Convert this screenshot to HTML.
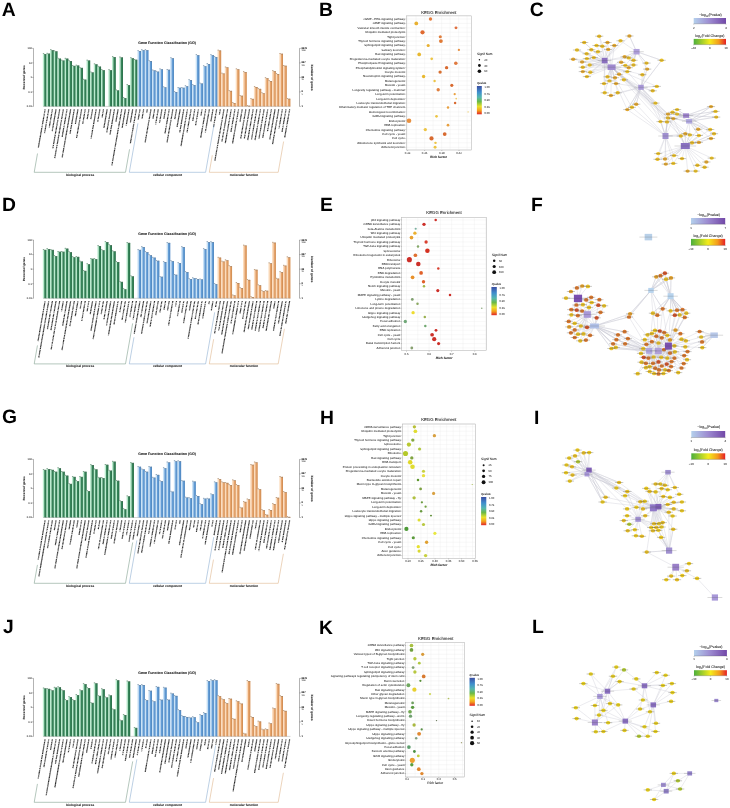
<!DOCTYPE html><html><head><meta charset="utf-8"><title>Figure</title><style>html,body{margin:0;padding:0;background:#fff;}svg{display:block;will-change:transform;filter:blur(0.3px);}text{font-family:"Liberation Sans",sans-serif;text-rendering:geometricPrecision;stroke:#333;stroke-width:0.06px;}.pl{stroke:none}.lb{stroke:#2c2c2c;stroke-width:1.2px;fill:none}.d0{stroke-dasharray:0.7,0.35,0.9,0.35,1.3,0.25,1.1,0.3,0.7,0.35,1.3,0.3,0.7,0.25,1.3,0.3,0.5,0.25,1.3,0.25,0.5,0.3,1.1,0.35,1.1,0.3,1.3,0.3,0.7,0.7,0.7,0.3,1.1,0.35,1.1,0.35,1.3,0.3,1.1,0.35,0.9,0.35,0.5,0.3,0.7,0.35,1.3,0.35,0.7,0.35,1.3,0.3,0.5,0.3,1.1,0.25,0.5,0.3,0.5,0.3,1.1,0.7,1.3,0.25,1.3,0.3,0.9,0.35,0.5,0.7,0.5,0.35,0.7,0.3,0.9,0.25,0.9,0.3,0.7,0.3,1.3,0.3,1.3,0.35,1.3,0.35,0.7,0.3,0.9,0.35,0.9,0.25,1.3,0.7,1.3,0.35,0.5,0.35,1.1,0.3,0.9,0.35,1.1,0.25,0.5,0.3,1.1,0.3,0.9,0.25}.d1{stroke-dasharray:0.9,0.3,0.9,0.3,0.5,0.25,0.7,0.3,0.9,0.25,1.1,0.35,0.5,0.35,0.9,0.35,1.1,0.7,0.7,0.35,0.7,0.7,0.7,0.3,1.3,0.25,0.9,0.7,1.3,0.3,1.1,0.3,0.9,0.3,1.1,0.3,1.1,0.25,0.7,0.7,1.3,0.35,0.7,0.25,1.3,0.3,0.7,0.25,0.9,0.25,0.5,0.25,1.3,0.25,1.1,0.7,1.1,0.7,1.3,0.3,0.5,0.35,0.5,0.7,0.7,0.3,1.3,0.3,0.5,0.3,0.5,0.35,0.5,0.25,0.9,0.25,0.5,0.3,1.1,0.25,0.7,0.3,1.3,0.7,0.9,0.25,0.7,0.7,0.5,0.3,0.5,0.35,0.9,0.25,0.9,0.3,1.3,0.3,0.7,0.3,0.7,0.7,1.1,0.25,0.5,0.3,1.3,0.3,0.5,0.35,0.5,0.3,0.9,0.3,1.1,0.7}.d2{stroke-dasharray:0.7,0.35,1.3,0.25,0.7,0.7,0.5,0.3,1.3,0.7,0.5,0.35,1.3,0.3,0.9,0.35,1.3,0.7,0.7,0.25,0.5,0.7,0.5,0.35,0.7,0.25,0.5,0.25,1.1,0.35,1.3,0.3,0.5,0.35,0.7,0.25,0.5,0.7,0.9,0.35,0.5,0.25,0.7,0.3,1.1,0.3,1.1,0.3,0.5,0.3,1.1,0.35,1.1,0.35,1.3,0.35,1.1,0.25,0.7,0.7,1.1,0.35,1.1,0.35,0.7,0.25,0.7,0.25,0.9,0.25,1.3,0.3,1.1,0.35,1.3,0.3,0.9,0.25,1.1,0.25,0.9,0.25,0.7,0.3,1.1,0.35,1.1,0.35,1.3,0.25,0.5,0.3,0.5,0.3,0.7,0.35,0.5,0.25,0.7,0.25,0.7,0.25,0.5,0.3,0.5,0.3,0.5,0.35,0.5,0.25,0.9,0.25,1.3,0.35,0.5,0.25,1.1,0.3}.d3{stroke-dasharray:0.7,0.35,1.1,0.7,0.9,0.25,0.5,0.35,1.1,0.35,0.5,0.35,0.9,0.35,1.1,0.3,0.9,0.25,0.9,0.35,1.3,0.25,1.3,0.7,0.9,0.35,0.7,0.35,0.7,0.25,1.1,0.7,1.3,0.25,1.3,0.3,0.7,0.3,0.7,0.7,0.7,0.35,1.1,0.7,0.9,0.7,0.7,0.25,0.9,0.25,1.3,0.3,1.1,0.3,0.5,0.3,0.5,0.25,0.5,0.7,0.5,0.25,1.3,0.3,1.1,0.7,1.3,0.25,0.7,0.35,1.3,0.25,0.9,0.3,0.5,0.3,1.1,0.3,1.3,0.3,1.3,0.35,1.1,0.25,0.5,0.25,0.7,0.3,1.1,0.25,1.3,0.7,1.3,0.35,0.5,0.35,0.7,0.25,0.5,0.35,0.5,0.3,1.3,0.25,0.5,0.3,0.9,0.35,0.5,0.35,0.5,0.7}.d4{stroke-dasharray:0.9,0.25,0.7,0.3,0.7,0.3,0.5,0.7,0.7,0.35,1.1,0.3,1.3,0.3,1.1,0.7,1.1,0.35,0.7,0.3,0.9,0.3,1.1,0.35,1.1,0.25,0.7,0.3,0.7,0.3,0.7,0.7,1.3,0.3,0.5,0.7,0.7,0.3,0.5,0.25,0.9,0.7,0.5,0.25,1.1,0.7,0.7,0.7,1.1,0.25,1.3,0.25,0.5,0.7,0.9,0.3,1.1,0.3,1.3,0.7,0.9,0.35,0.9,0.7,1.1,0.25,0.5,0.7,0.5,0.25,0.5,0.7,1.3,0.3,1.1,0.3,0.9,0.7,0.9,0.35,1.1,0.25,0.7,0.7,1.1,0.35,1.1,0.25,1.1,0.35,0.7,0.3,1.1,0.25,1.1,0.3,0.7,0.35,1.3,0.35,1.1,0.25,0.5,0.7,0.5,0.3,0.5,0.35,1.1,0.3}.d5{stroke-dasharray:0.9,0.7,0.7,0.3,0.5,0.3,0.5,0.7,0.7,0.25,0.7,0.7,0.5,0.25,0.7,0.25,1.3,0.3,1.3,0.3,1.3,0.25,1.3,0.7,0.5,0.7,0.5,0.25,0.9,0.7,1.1,0.25,1.3,0.25,0.9,0.3,1.1,0.25,1.3,0.3,0.7,0.25,1.1,0.3,0.5,0.3,1.1,0.25,0.9,0.3,0.5,0.35,0.7,0.3,0.5,0.3,1.1,0.25,0.9,0.25,0.7,0.35,1.3,0.3,1.3,0.3,0.7,0.35,1.1,0.3,1.3,0.25,0.5,0.25,0.5,0.35,1.3,0.7,1.1,0.25,0.7,0.3,0.5,0.3,0.7,0.35,0.7,0.25,1.1,0.7,0.7,0.3,0.9,0.3,0.9,0.25,1.1,0.3,1.3,0.25,0.9,0.7,0.9,0.3,0.9,0.35,1.3,0.7,1.3,0.25,0.7,0.7}.d6{stroke-dasharray:1.1,0.3,0.9,0.7,0.7,0.7,1.1,0.3,1.3,0.35,1.1,0.3,1.1,0.3,0.9,0.7,0.5,0.35,0.7,0.35,0.7,0.35,1.1,0.35,0.9,0.7,0.5,0.7,1.1,0.7,1.1,0.3,1.3,0.35,1.3,0.35,0.7,0.25,1.3,0.25,0.9,0.3,0.9,0.3,1.3,0.25,0.7,0.7,1.1,0.25,1.3,0.35,0.9,0.35,0.5,0.7,0.9,0.25,0.5,0.7,1.1,0.35,0.9,0.3,1.1,0.3,0.9,0.25,0.9,0.3,1.3,0.7,1.1,0.3,0.5,0.3,0.7,0.7,1.3,0.25,0.5,0.35,0.5,0.3,0.5,0.3,1.1,0.3,1.3,0.7,0.7,0.3,0.7,0.25,0.7,0.35,1.1,0.7,1.1,0.25,0.7,0.3,0.7,0.7,0.7,0.35}.d7{stroke-dasharray:0.5,0.3,0.5,0.7,0.5,0.25,1.1,0.3,1.3,0.25,0.5,0.3,1.1,0.7,1.3,0.7,0.9,0.7,0.9,0.35,1.1,0.35,1.3,0.35,0.7,0.35,1.1,0.25,0.9,0.35,0.7,0.3,0.7,0.3,0.7,0.7,0.5,0.3,0.7,0.25,0.7,0.25,1.3,0.35,0.9,0.25,1.3,0.3,1.3,0.35,1.1,0.35,0.9,0.35,1.3,0.35,0.9,0.3,0.9,0.3,1.3,0.35,0.9,0.35,0.9,0.3,1.1,0.25,1.3,0.25,1.3,0.35,1.3,0.7,1.1,0.35,0.9,0.25,1.1,0.3,0.5,0.3,0.5,0.35,0.5,0.3,1.1,0.35,0.5,0.3,0.9,0.3,0.5,0.35,0.9,0.7,0.5,0.7,0.5,0.25,0.9,0.7,1.3,0.35,1.3,0.3,0.7,0.3,1.3,0.25}</style></head><body>
<svg width="730" height="808" viewBox="0 0 730 808" font-family='"Liberation Sans", sans-serif'>
<defs>
<linearGradient id="qv" x1="0" y1="0" x2="0" y2="1"><stop offset="0" stop-color="#3b4ea2"/><stop offset="0.22" stop-color="#3f8fce"/><stop offset="0.4" stop-color="#55b7b0"/><stop offset="0.55" stop-color="#6ab946"/><stop offset="0.72" stop-color="#e8e22a"/><stop offset="0.86" stop-color="#f5a21c"/><stop offset="1" stop-color="#e0262a"/></linearGradient>
<linearGradient id="pv" x1="0" y1="0" x2="1" y2="0"><stop offset="0" stop-color="#b4d0ec"/><stop offset="0.5" stop-color="#9c8ad0"/><stop offset="1" stop-color="#7248a8"/></linearGradient>
<linearGradient id="fc" x1="0" y1="0" x2="1" y2="0"><stop offset="0" stop-color="#4caf3c"/><stop offset="0.5" stop-color="#f4ec1c"/><stop offset="0.78" stop-color="#f49a1c"/><stop offset="1" stop-color="#e51e24"/></linearGradient>
</defs>
<rect width="730" height="808" fill="#fff"/>
<text x="167" y="43.6" font-size="3.55" font-weight="bold" text-anchor="middle" fill="#111">Gene Function Classification (GO)</text>
<g stroke="#555" stroke-width="0.45" fill="none"><path d="M33.5,48.4V106.4"/>
<path d="M32.2,48.4H33.5"/>
<path d="M32.2,62.9H33.5"/>
<path d="M32.2,77.4H33.5"/>
<path d="M32.2,91.9H33.5"/>
<path d="M32.2,106.4H33.5"/>
</g>
<text x="31.9" y="49.3" font-size="2.6" text-anchor="end" fill="#222">100</text>
<text x="31.9" y="63.8" font-size="2.6" text-anchor="end" fill="#222">10</text>
<text x="31.9" y="78.3" font-size="2.6" text-anchor="end" fill="#222">1</text>
<text x="31.9" y="92.8" font-size="2.6" text-anchor="end" fill="#222">0.1</text>
<text x="31.9" y="107.3" font-size="2.6" text-anchor="end" fill="#222">0.01</text>
<text transform="translate(25.3,77.4) rotate(-90)" font-size="3.0" font-weight="bold" text-anchor="middle" fill="#222">Percent of genes</text>
<g stroke="#555" stroke-width="0.45" fill="none"><path d="M299.5,48.4V106.4"/>
<path d="M299.5,48.4H300.8"/>
<path d="M299.5,62.9H300.8"/>
<path d="M299.5,77.4H300.8"/>
<path d="M299.5,91.9H300.8"/>
<path d="M299.5,106.4H300.8"/>
</g>
<text x="301.4" y="48.9" font-size="2.5" font-weight="bold" fill="#222">9876</text>
<text x="301.4" y="51" font-size="2.1" fill="#444">1110</text>
<text x="301.4" y="63.4" font-size="2.5" font-weight="bold" fill="#222">987</text>
<text x="301.4" y="65.5" font-size="2.1" fill="#444">111</text>
<text x="301.4" y="77.9" font-size="2.5" font-weight="bold" fill="#222">98</text>
<text x="301.4" y="80" font-size="2.1" fill="#444">11</text>
<text x="301.4" y="92.4" font-size="2.5" font-weight="bold" fill="#222">9</text>
<text x="301.4" y="94.5" font-size="2.1" fill="#444">1</text>
<text x="301.4" y="106.9" font-size="2.5" font-weight="bold" fill="#222">1</text>
<text transform="translate(311.4,77.4) rotate(90)" font-size="3.2" font-weight="bold" text-anchor="middle" fill="#222">Number of genes</text>
<rect x="42.85" y="53.3" width="1.35" height="53.1" fill="#b8eccd"/>
<rect x="42.85" y="53.3" width="1.35" height="0.55" fill="#5a6e62"/>
<rect x="44.2" y="54.1" width="2.25" height="52.3" fill="#358459"/>
<rect x="45.65" y="54.1" width="0.8" height="52.3" fill="#2a7049"/>
<rect x="44.2" y="54.1" width="2.25" height="0.5" fill="#5a6e62"/>
<rect x="46.49" y="52.9" width="1.35" height="53.5" fill="#b8eccd"/>
<rect x="46.49" y="52.9" width="1.35" height="0.55" fill="#5a6e62"/>
<rect x="47.84" y="53.7" width="2.25" height="52.7" fill="#358459"/>
<rect x="49.29" y="53.7" width="0.8" height="52.7" fill="#2a7049"/>
<rect x="47.84" y="53.7" width="2.25" height="0.5" fill="#5a6e62"/>
<rect x="50.13" y="49.4" width="1.35" height="57" fill="#b8eccd"/>
<rect x="50.13" y="49.4" width="1.35" height="0.55" fill="#5a6e62"/>
<rect x="51.48" y="50.2" width="2.25" height="56.2" fill="#358459"/>
<rect x="52.93" y="50.2" width="0.8" height="56.2" fill="#2a7049"/>
<rect x="51.48" y="50.2" width="2.25" height="0.5" fill="#5a6e62"/>
<rect x="53.77" y="50.6" width="1.35" height="55.8" fill="#b8eccd"/>
<rect x="53.77" y="50.6" width="1.35" height="0.55" fill="#5a6e62"/>
<rect x="55.12" y="51.4" width="2.25" height="55" fill="#358459"/>
<rect x="56.57" y="51.4" width="0.8" height="55" fill="#2a7049"/>
<rect x="55.12" y="51.4" width="2.25" height="0.5" fill="#5a6e62"/>
<rect x="57.41" y="57.9" width="1.35" height="48.5" fill="#b8eccd"/>
<rect x="57.41" y="57.9" width="1.35" height="0.55" fill="#5a6e62"/>
<rect x="58.76" y="58.7" width="2.25" height="47.7" fill="#358459"/>
<rect x="60.21" y="58.7" width="0.8" height="47.7" fill="#2a7049"/>
<rect x="58.76" y="58.7" width="2.25" height="0.5" fill="#5a6e62"/>
<rect x="61.05" y="59.8" width="1.35" height="46.6" fill="#b8eccd"/>
<rect x="61.05" y="59.8" width="1.35" height="0.55" fill="#5a6e62"/>
<rect x="62.4" y="60.6" width="2.25" height="45.8" fill="#358459"/>
<rect x="63.85" y="60.6" width="0.8" height="45.8" fill="#2a7049"/>
<rect x="62.4" y="60.6" width="2.25" height="0.5" fill="#5a6e62"/>
<rect x="64.68" y="57.9" width="1.35" height="48.5" fill="#b8eccd"/>
<rect x="64.68" y="57.9" width="1.35" height="0.55" fill="#5a6e62"/>
<rect x="66.03" y="58.7" width="2.25" height="47.7" fill="#358459"/>
<rect x="67.48" y="58.7" width="0.8" height="47.7" fill="#2a7049"/>
<rect x="66.03" y="58.7" width="2.25" height="0.5" fill="#5a6e62"/>
<rect x="68.32" y="60.2" width="1.35" height="46.2" fill="#b8eccd"/>
<rect x="68.32" y="60.2" width="1.35" height="0.55" fill="#5a6e62"/>
<rect x="69.67" y="61" width="2.25" height="45.4" fill="#358459"/>
<rect x="71.12" y="61" width="0.8" height="45.4" fill="#2a7049"/>
<rect x="69.67" y="61" width="2.25" height="0.5" fill="#5a6e62"/>
<rect x="71.96" y="65.1" width="1.35" height="41.3" fill="#b8eccd"/>
<rect x="71.96" y="65.1" width="1.35" height="0.55" fill="#5a6e62"/>
<rect x="73.31" y="65.9" width="2.25" height="40.5" fill="#358459"/>
<rect x="74.76" y="65.9" width="0.8" height="40.5" fill="#2a7049"/>
<rect x="73.31" y="65.9" width="2.25" height="0.5" fill="#5a6e62"/>
<rect x="75.6" y="64.8" width="1.35" height="41.6" fill="#b8eccd"/>
<rect x="75.6" y="64.8" width="1.35" height="0.55" fill="#5a6e62"/>
<rect x="76.95" y="65.6" width="2.25" height="40.8" fill="#358459"/>
<rect x="78.4" y="65.6" width="0.8" height="40.8" fill="#2a7049"/>
<rect x="76.95" y="65.6" width="2.25" height="0.5" fill="#5a6e62"/>
<rect x="79.24" y="67.1" width="1.35" height="39.3" fill="#b8eccd"/>
<rect x="79.24" y="67.1" width="1.35" height="0.55" fill="#5a6e62"/>
<rect x="80.59" y="67.9" width="2.25" height="38.5" fill="#358459"/>
<rect x="82.04" y="67.9" width="0.8" height="38.5" fill="#2a7049"/>
<rect x="80.59" y="67.9" width="2.25" height="0.5" fill="#5a6e62"/>
<rect x="82.88" y="78.9" width="1.35" height="27.5" fill="#b8eccd"/>
<rect x="82.88" y="78.9" width="1.35" height="0.55" fill="#5a6e62"/>
<rect x="84.23" y="79.7" width="2.25" height="26.7" fill="#358459"/>
<rect x="85.68" y="79.7" width="0.8" height="26.7" fill="#2a7049"/>
<rect x="84.23" y="79.7" width="2.25" height="0.5" fill="#5a6e62"/>
<rect x="86.52" y="59.8" width="1.35" height="46.6" fill="#b8eccd"/>
<rect x="86.52" y="59.8" width="1.35" height="0.55" fill="#5a6e62"/>
<rect x="87.87" y="60.6" width="2.25" height="45.8" fill="#358459"/>
<rect x="89.32" y="60.6" width="0.8" height="45.8" fill="#2a7049"/>
<rect x="87.87" y="60.6" width="2.25" height="0.5" fill="#5a6e62"/>
<rect x="90.16" y="71.7" width="1.35" height="34.7" fill="#b8eccd"/>
<rect x="90.16" y="71.7" width="1.35" height="0.55" fill="#5a6e62"/>
<rect x="91.51" y="72.5" width="2.25" height="33.9" fill="#358459"/>
<rect x="92.96" y="72.5" width="0.8" height="33.9" fill="#2a7049"/>
<rect x="91.51" y="72.5" width="2.25" height="0.5" fill="#5a6e62"/>
<rect x="93.8" y="63.6" width="1.35" height="42.8" fill="#b8eccd"/>
<rect x="93.8" y="63.6" width="1.35" height="0.55" fill="#5a6e62"/>
<rect x="95.15" y="64.4" width="2.25" height="42" fill="#358459"/>
<rect x="96.6" y="64.4" width="0.8" height="42" fill="#2a7049"/>
<rect x="95.15" y="64.4" width="2.25" height="0.5" fill="#5a6e62"/>
<rect x="97.44" y="65.9" width="1.35" height="40.5" fill="#b8eccd"/>
<rect x="97.44" y="65.9" width="1.35" height="0.55" fill="#5a6e62"/>
<rect x="98.78" y="66.7" width="2.25" height="39.7" fill="#358459"/>
<rect x="100.23" y="66.7" width="0.8" height="39.7" fill="#2a7049"/>
<rect x="98.78" y="66.7" width="2.25" height="0.5" fill="#5a6e62"/>
<rect x="101.07" y="69.4" width="1.35" height="37" fill="#b8eccd"/>
<rect x="101.07" y="69.4" width="1.35" height="0.55" fill="#5a6e62"/>
<rect x="102.42" y="70.2" width="2.25" height="36.2" fill="#358459"/>
<rect x="103.87" y="70.2" width="0.8" height="36.2" fill="#2a7049"/>
<rect x="102.42" y="70.2" width="2.25" height="0.5" fill="#5a6e62"/>
<rect x="108.35" y="69.4" width="1.35" height="37" fill="#b8eccd"/>
<rect x="108.35" y="69.4" width="1.35" height="0.55" fill="#5a6e62"/>
<rect x="109.7" y="70.2" width="2.25" height="36.2" fill="#358459"/>
<rect x="111.15" y="70.2" width="0.8" height="36.2" fill="#2a7049"/>
<rect x="109.7" y="70.2" width="2.25" height="0.5" fill="#5a6e62"/>
<rect x="111.99" y="56.3" width="1.35" height="50.1" fill="#b8eccd"/>
<rect x="111.99" y="56.3" width="1.35" height="0.55" fill="#5a6e62"/>
<rect x="113.34" y="57.1" width="2.25" height="49.3" fill="#358459"/>
<rect x="114.79" y="57.1" width="0.8" height="49.3" fill="#2a7049"/>
<rect x="113.34" y="57.1" width="2.25" height="0.5" fill="#5a6e62"/>
<rect x="115.63" y="89.7" width="1.35" height="16.7" fill="#b8eccd"/>
<rect x="115.63" y="89.7" width="1.35" height="0.55" fill="#5a6e62"/>
<rect x="116.98" y="90.5" width="2.25" height="15.9" fill="#358459"/>
<rect x="118.43" y="90.5" width="0.8" height="15.9" fill="#2a7049"/>
<rect x="116.98" y="90.5" width="2.25" height="0.5" fill="#5a6e62"/>
<rect x="119.27" y="56.7" width="1.35" height="49.7" fill="#b8eccd"/>
<rect x="119.27" y="56.7" width="1.35" height="0.55" fill="#5a6e62"/>
<rect x="120.62" y="57.5" width="2.25" height="48.9" fill="#358459"/>
<rect x="122.07" y="57.5" width="0.8" height="48.9" fill="#2a7049"/>
<rect x="120.62" y="57.5" width="2.25" height="0.5" fill="#5a6e62"/>
<rect x="122.91" y="97.3" width="1.35" height="9.1" fill="#b8eccd"/>
<rect x="122.91" y="97.3" width="1.35" height="0.55" fill="#5a6e62"/>
<rect x="124.26" y="98.1" width="2.25" height="8.3" fill="#358459"/>
<rect x="125.71" y="98.1" width="0.8" height="8.3" fill="#2a7049"/>
<rect x="124.26" y="98.1" width="2.25" height="0.5" fill="#5a6e62"/>
<rect x="126.55" y="84.3" width="1.35" height="22.1" fill="#b8eccd"/>
<rect x="126.55" y="84.3" width="1.35" height="0.55" fill="#5a6e62"/>
<rect x="127.9" y="85.1" width="2.25" height="21.3" fill="#358459"/>
<rect x="129.35" y="85.1" width="0.8" height="21.3" fill="#2a7049"/>
<rect x="127.9" y="85.1" width="2.25" height="0.5" fill="#5a6e62"/>
<rect x="130.19" y="57.5" width="1.35" height="48.9" fill="#b8eccd"/>
<rect x="130.19" y="57.5" width="1.35" height="0.55" fill="#5a6e62"/>
<rect x="131.54" y="58.3" width="2.25" height="48.1" fill="#358459"/>
<rect x="132.99" y="58.3" width="0.8" height="48.1" fill="#2a7049"/>
<rect x="131.54" y="58.3" width="2.25" height="0.5" fill="#5a6e62"/>
<rect x="133.83" y="59" width="1.35" height="47.4" fill="#b8eccd"/>
<rect x="133.83" y="59" width="1.35" height="0.55" fill="#5a6e62"/>
<rect x="135.18" y="59.8" width="2.25" height="46.6" fill="#358459"/>
<rect x="136.62" y="59.8" width="0.8" height="46.6" fill="#2a7049"/>
<rect x="135.18" y="59.8" width="2.25" height="0.5" fill="#5a6e62"/>
<rect x="137.46" y="50.2" width="1.35" height="56.2" fill="#c8e1f6"/>
<rect x="137.46" y="50.2" width="1.35" height="0.55" fill="#6f7f90"/>
<rect x="138.81" y="51" width="2.25" height="55.4" fill="#639dd6"/>
<rect x="140.26" y="51" width="0.8" height="55.4" fill="#4f87c0"/>
<rect x="138.81" y="51" width="2.25" height="0.5" fill="#6f7f90"/>
<rect x="141.1" y="49.4" width="1.35" height="57" fill="#c8e1f6"/>
<rect x="141.1" y="49.4" width="1.35" height="0.55" fill="#6f7f90"/>
<rect x="142.45" y="50.2" width="2.25" height="56.2" fill="#639dd6"/>
<rect x="143.9" y="50.2" width="0.8" height="56.2" fill="#4f87c0"/>
<rect x="142.45" y="50.2" width="2.25" height="0.5" fill="#6f7f90"/>
<rect x="144.74" y="49.4" width="1.35" height="57" fill="#c8e1f6"/>
<rect x="144.74" y="49.4" width="1.35" height="0.55" fill="#6f7f90"/>
<rect x="146.09" y="50.2" width="2.25" height="56.2" fill="#639dd6"/>
<rect x="147.54" y="50.2" width="0.8" height="56.2" fill="#4f87c0"/>
<rect x="146.09" y="50.2" width="2.25" height="0.5" fill="#6f7f90"/>
<rect x="148.38" y="60.2" width="1.35" height="46.2" fill="#c8e1f6"/>
<rect x="148.38" y="60.2" width="1.35" height="0.55" fill="#6f7f90"/>
<rect x="149.73" y="61" width="2.25" height="45.4" fill="#639dd6"/>
<rect x="151.18" y="61" width="0.8" height="45.4" fill="#4f87c0"/>
<rect x="149.73" y="61" width="2.25" height="0.5" fill="#6f7f90"/>
<rect x="152.02" y="69.7" width="1.35" height="36.7" fill="#c8e1f6"/>
<rect x="152.02" y="69.7" width="1.35" height="0.55" fill="#6f7f90"/>
<rect x="153.37" y="70.5" width="2.25" height="35.9" fill="#639dd6"/>
<rect x="154.82" y="70.5" width="0.8" height="35.9" fill="#4f87c0"/>
<rect x="153.37" y="70.5" width="2.25" height="0.5" fill="#6f7f90"/>
<rect x="155.66" y="70.9" width="1.35" height="35.5" fill="#c8e1f6"/>
<rect x="155.66" y="70.9" width="1.35" height="0.55" fill="#6f7f90"/>
<rect x="157.01" y="71.7" width="2.25" height="34.7" fill="#639dd6"/>
<rect x="158.46" y="71.7" width="0.8" height="34.7" fill="#4f87c0"/>
<rect x="157.01" y="71.7" width="2.25" height="0.5" fill="#6f7f90"/>
<rect x="159.3" y="68.6" width="1.35" height="37.8" fill="#c8e1f6"/>
<rect x="159.3" y="68.6" width="1.35" height="0.55" fill="#6f7f90"/>
<rect x="160.65" y="69.4" width="2.25" height="37" fill="#639dd6"/>
<rect x="162.1" y="69.4" width="0.8" height="37" fill="#4f87c0"/>
<rect x="160.65" y="69.4" width="2.25" height="0.5" fill="#6f7f90"/>
<rect x="162.94" y="86.6" width="1.35" height="19.8" fill="#c8e1f6"/>
<rect x="162.94" y="86.6" width="1.35" height="0.55" fill="#6f7f90"/>
<rect x="164.29" y="87.4" width="2.25" height="19" fill="#639dd6"/>
<rect x="165.74" y="87.4" width="0.8" height="19" fill="#4f87c0"/>
<rect x="164.29" y="87.4" width="2.25" height="0.5" fill="#6f7f90"/>
<rect x="166.58" y="69" width="1.35" height="37.4" fill="#c8e1f6"/>
<rect x="166.58" y="69" width="1.35" height="0.55" fill="#6f7f90"/>
<rect x="167.93" y="69.8" width="2.25" height="36.6" fill="#639dd6"/>
<rect x="169.38" y="69.8" width="0.8" height="36.6" fill="#4f87c0"/>
<rect x="167.93" y="69.8" width="2.25" height="0.5" fill="#6f7f90"/>
<rect x="170.22" y="57.5" width="1.35" height="48.9" fill="#c8e1f6"/>
<rect x="170.22" y="57.5" width="1.35" height="0.55" fill="#6f7f90"/>
<rect x="171.56" y="58.3" width="2.25" height="48.1" fill="#639dd6"/>
<rect x="173.01" y="58.3" width="0.8" height="48.1" fill="#4f87c0"/>
<rect x="171.56" y="58.3" width="2.25" height="0.5" fill="#6f7f90"/>
<rect x="173.85" y="91.2" width="1.35" height="15.2" fill="#c8e1f6"/>
<rect x="173.85" y="91.2" width="1.35" height="0.55" fill="#6f7f90"/>
<rect x="175.2" y="92" width="2.25" height="14.4" fill="#639dd6"/>
<rect x="176.65" y="92" width="0.8" height="14.4" fill="#4f87c0"/>
<rect x="175.2" y="92" width="2.25" height="0.5" fill="#6f7f90"/>
<rect x="177.49" y="87" width="1.35" height="19.4" fill="#c8e1f6"/>
<rect x="177.49" y="87" width="1.35" height="0.55" fill="#6f7f90"/>
<rect x="178.84" y="87.8" width="2.25" height="18.6" fill="#639dd6"/>
<rect x="180.29" y="87.8" width="0.8" height="18.6" fill="#4f87c0"/>
<rect x="178.84" y="87.8" width="2.25" height="0.5" fill="#6f7f90"/>
<rect x="181.13" y="87" width="1.35" height="19.4" fill="#c8e1f6"/>
<rect x="181.13" y="87" width="1.35" height="0.55" fill="#6f7f90"/>
<rect x="182.48" y="87.8" width="2.25" height="18.6" fill="#639dd6"/>
<rect x="183.93" y="87.8" width="0.8" height="18.6" fill="#4f87c0"/>
<rect x="182.48" y="87.8" width="2.25" height="0.5" fill="#6f7f90"/>
<rect x="184.77" y="85.5" width="1.35" height="20.9" fill="#c8e1f6"/>
<rect x="184.77" y="85.5" width="1.35" height="0.55" fill="#6f7f90"/>
<rect x="186.12" y="86.3" width="2.25" height="20.1" fill="#639dd6"/>
<rect x="187.57" y="86.3" width="0.8" height="20.1" fill="#4f87c0"/>
<rect x="186.12" y="86.3" width="2.25" height="0.5" fill="#6f7f90"/>
<rect x="188.41" y="79.3" width="1.35" height="27.1" fill="#c8e1f6"/>
<rect x="188.41" y="79.3" width="1.35" height="0.55" fill="#6f7f90"/>
<rect x="189.76" y="80.1" width="2.25" height="26.3" fill="#639dd6"/>
<rect x="191.21" y="80.1" width="0.8" height="26.3" fill="#4f87c0"/>
<rect x="189.76" y="80.1" width="2.25" height="0.5" fill="#6f7f90"/>
<rect x="192.05" y="84.3" width="1.35" height="22.1" fill="#c8e1f6"/>
<rect x="192.05" y="84.3" width="1.35" height="0.55" fill="#6f7f90"/>
<rect x="193.4" y="85.1" width="2.25" height="21.3" fill="#639dd6"/>
<rect x="194.85" y="85.1" width="0.8" height="21.3" fill="#4f87c0"/>
<rect x="193.4" y="85.1" width="2.25" height="0.5" fill="#6f7f90"/>
<rect x="195.69" y="54.4" width="1.35" height="52" fill="#c8e1f6"/>
<rect x="195.69" y="54.4" width="1.35" height="0.55" fill="#6f7f90"/>
<rect x="197.04" y="55.2" width="2.25" height="51.2" fill="#639dd6"/>
<rect x="198.49" y="55.2" width="0.8" height="51.2" fill="#4f87c0"/>
<rect x="197.04" y="55.2" width="2.25" height="0.5" fill="#6f7f90"/>
<rect x="199.33" y="82.8" width="1.35" height="23.6" fill="#c8e1f6"/>
<rect x="199.33" y="82.8" width="1.35" height="0.55" fill="#6f7f90"/>
<rect x="200.68" y="83.6" width="2.25" height="22.8" fill="#639dd6"/>
<rect x="202.13" y="83.6" width="0.8" height="22.8" fill="#4f87c0"/>
<rect x="200.68" y="83.6" width="2.25" height="0.5" fill="#6f7f90"/>
<rect x="202.97" y="65.5" width="1.35" height="40.9" fill="#c8e1f6"/>
<rect x="202.97" y="65.5" width="1.35" height="0.55" fill="#6f7f90"/>
<rect x="204.32" y="66.3" width="2.25" height="40.1" fill="#639dd6"/>
<rect x="205.77" y="66.3" width="0.8" height="40.1" fill="#4f87c0"/>
<rect x="204.32" y="66.3" width="2.25" height="0.5" fill="#6f7f90"/>
<rect x="206.6" y="63.2" width="1.35" height="43.2" fill="#c8e1f6"/>
<rect x="206.6" y="63.2" width="1.35" height="0.55" fill="#6f7f90"/>
<rect x="207.95" y="64" width="2.25" height="42.4" fill="#639dd6"/>
<rect x="209.4" y="64" width="0.8" height="42.4" fill="#4f87c0"/>
<rect x="207.95" y="64" width="2.25" height="0.5" fill="#6f7f90"/>
<rect x="210.24" y="54.4" width="1.35" height="52" fill="#c8e1f6"/>
<rect x="210.24" y="54.4" width="1.35" height="0.55" fill="#6f7f90"/>
<rect x="211.59" y="55.2" width="2.25" height="51.2" fill="#639dd6"/>
<rect x="213.04" y="55.2" width="0.8" height="51.2" fill="#4f87c0"/>
<rect x="211.59" y="55.2" width="2.25" height="0.5" fill="#6f7f90"/>
<rect x="213.88" y="56.3" width="1.35" height="50.1" fill="#c8e1f6"/>
<rect x="213.88" y="56.3" width="1.35" height="0.55" fill="#6f7f90"/>
<rect x="215.23" y="57.1" width="2.25" height="49.3" fill="#639dd6"/>
<rect x="216.68" y="57.1" width="0.8" height="49.3" fill="#4f87c0"/>
<rect x="215.23" y="57.1" width="2.25" height="0.5" fill="#6f7f90"/>
<rect x="217.52" y="49.8" width="1.35" height="56.6" fill="#fcdcbc"/>
<rect x="217.52" y="49.8" width="1.35" height="0.55" fill="#8e7a66"/>
<rect x="218.87" y="50.6" width="2.25" height="55.8" fill="#e6a46c"/>
<rect x="220.32" y="50.6" width="0.8" height="55.8" fill="#d08c52"/>
<rect x="218.87" y="50.6" width="2.25" height="0.5" fill="#8e7a66"/>
<rect x="221.16" y="72.8" width="1.35" height="33.6" fill="#fcdcbc"/>
<rect x="221.16" y="72.8" width="1.35" height="0.55" fill="#8e7a66"/>
<rect x="222.51" y="73.6" width="2.25" height="32.8" fill="#e6a46c"/>
<rect x="223.96" y="73.6" width="0.8" height="32.8" fill="#d08c52"/>
<rect x="222.51" y="73.6" width="2.25" height="0.5" fill="#8e7a66"/>
<rect x="224.8" y="66.7" width="1.35" height="39.7" fill="#fcdcbc"/>
<rect x="224.8" y="66.7" width="1.35" height="0.55" fill="#8e7a66"/>
<rect x="226.15" y="67.5" width="2.25" height="38.9" fill="#e6a46c"/>
<rect x="227.6" y="67.5" width="0.8" height="38.9" fill="#d08c52"/>
<rect x="226.15" y="67.5" width="2.25" height="0.5" fill="#8e7a66"/>
<rect x="228.44" y="90.1" width="1.35" height="16.3" fill="#fcdcbc"/>
<rect x="228.44" y="90.1" width="1.35" height="0.55" fill="#8e7a66"/>
<rect x="229.79" y="90.9" width="2.25" height="15.5" fill="#e6a46c"/>
<rect x="231.24" y="90.9" width="0.8" height="15.5" fill="#d08c52"/>
<rect x="229.79" y="90.9" width="2.25" height="0.5" fill="#8e7a66"/>
<rect x="232.08" y="102.2" width="1.35" height="4.2" fill="#fcdcbc"/>
<rect x="232.08" y="102.2" width="1.35" height="0.55" fill="#8e7a66"/>
<rect x="233.43" y="103" width="2.25" height="3.4" fill="#e6a46c"/>
<rect x="234.88" y="103" width="0.8" height="3.4" fill="#d08c52"/>
<rect x="233.43" y="103" width="2.25" height="0.5" fill="#8e7a66"/>
<rect x="235.72" y="68.6" width="1.35" height="37.8" fill="#fcdcbc"/>
<rect x="235.72" y="68.6" width="1.35" height="0.55" fill="#8e7a66"/>
<rect x="237.07" y="69.4" width="2.25" height="37" fill="#e6a46c"/>
<rect x="238.52" y="69.4" width="0.8" height="37" fill="#d08c52"/>
<rect x="237.07" y="69.4" width="2.25" height="0.5" fill="#8e7a66"/>
<rect x="239.36" y="95" width="1.35" height="11.4" fill="#fcdcbc"/>
<rect x="239.36" y="95" width="1.35" height="0.55" fill="#8e7a66"/>
<rect x="240.71" y="95.8" width="2.25" height="10.6" fill="#e6a46c"/>
<rect x="242.16" y="95.8" width="0.8" height="10.6" fill="#d08c52"/>
<rect x="240.71" y="95.8" width="2.25" height="0.5" fill="#8e7a66"/>
<rect x="242.99" y="71.3" width="1.35" height="35.1" fill="#fcdcbc"/>
<rect x="242.99" y="71.3" width="1.35" height="0.55" fill="#8e7a66"/>
<rect x="244.34" y="72.1" width="2.25" height="34.3" fill="#e6a46c"/>
<rect x="245.79" y="72.1" width="0.8" height="34.3" fill="#d08c52"/>
<rect x="244.34" y="72.1" width="2.25" height="0.5" fill="#8e7a66"/>
<rect x="246.63" y="105" width="1.35" height="1.4" fill="#fcdcbc"/>
<rect x="246.63" y="105" width="1.35" height="0.55" fill="#8e7a66"/>
<rect x="247.98" y="105.8" width="2.25" height="0.6" fill="#e6a46c"/>
<rect x="249.43" y="105.8" width="0.8" height="0.6" fill="#d08c52"/>
<rect x="247.98" y="105.8" width="2.25" height="0.5" fill="#8e7a66"/>
<rect x="250.27" y="98.1" width="1.35" height="8.3" fill="#fcdcbc"/>
<rect x="250.27" y="98.1" width="1.35" height="0.55" fill="#8e7a66"/>
<rect x="251.62" y="98.9" width="2.25" height="7.5" fill="#e6a46c"/>
<rect x="253.07" y="98.9" width="0.8" height="7.5" fill="#d08c52"/>
<rect x="251.62" y="98.9" width="2.25" height="0.5" fill="#8e7a66"/>
<rect x="253.91" y="86.2" width="1.35" height="20.2" fill="#fcdcbc"/>
<rect x="253.91" y="86.2" width="1.35" height="0.55" fill="#8e7a66"/>
<rect x="255.26" y="87" width="2.25" height="19.4" fill="#e6a46c"/>
<rect x="256.71" y="87" width="0.8" height="19.4" fill="#d08c52"/>
<rect x="255.26" y="87" width="2.25" height="0.5" fill="#8e7a66"/>
<rect x="257.55" y="88.1" width="1.35" height="18.3" fill="#fcdcbc"/>
<rect x="257.55" y="88.1" width="1.35" height="0.55" fill="#8e7a66"/>
<rect x="258.9" y="88.9" width="2.25" height="17.5" fill="#e6a46c"/>
<rect x="260.35" y="88.9" width="0.8" height="17.5" fill="#d08c52"/>
<rect x="258.9" y="88.9" width="2.25" height="0.5" fill="#8e7a66"/>
<rect x="261.19" y="92.5" width="1.35" height="13.9" fill="#fcdcbc"/>
<rect x="261.19" y="92.5" width="1.35" height="0.55" fill="#8e7a66"/>
<rect x="262.54" y="93.3" width="2.25" height="13.1" fill="#e6a46c"/>
<rect x="263.99" y="93.3" width="0.8" height="13.1" fill="#d08c52"/>
<rect x="262.54" y="93.3" width="2.25" height="0.5" fill="#8e7a66"/>
<rect x="264.83" y="77.5" width="1.35" height="28.9" fill="#fcdcbc"/>
<rect x="264.83" y="77.5" width="1.35" height="0.55" fill="#8e7a66"/>
<rect x="266.18" y="78.3" width="2.25" height="28.1" fill="#e6a46c"/>
<rect x="267.63" y="78.3" width="0.8" height="28.1" fill="#d08c52"/>
<rect x="266.18" y="78.3" width="2.25" height="0.5" fill="#8e7a66"/>
<rect x="268.47" y="80.2" width="1.35" height="26.2" fill="#fcdcbc"/>
<rect x="268.47" y="80.2" width="1.35" height="0.55" fill="#8e7a66"/>
<rect x="269.82" y="81" width="2.25" height="25.4" fill="#e6a46c"/>
<rect x="271.27" y="81" width="0.8" height="25.4" fill="#d08c52"/>
<rect x="269.82" y="81" width="2.25" height="0.5" fill="#8e7a66"/>
<rect x="272.11" y="70.4" width="1.35" height="36" fill="#fcdcbc"/>
<rect x="272.11" y="70.4" width="1.35" height="0.55" fill="#8e7a66"/>
<rect x="273.46" y="71.2" width="2.25" height="35.2" fill="#e6a46c"/>
<rect x="274.91" y="71.2" width="0.8" height="35.2" fill="#d08c52"/>
<rect x="273.46" y="71.2" width="2.25" height="0.5" fill="#8e7a66"/>
<rect x="275.75" y="73.2" width="1.35" height="33.2" fill="#fcdcbc"/>
<rect x="275.75" y="73.2" width="1.35" height="0.55" fill="#8e7a66"/>
<rect x="277.1" y="74" width="2.25" height="32.4" fill="#e6a46c"/>
<rect x="278.55" y="74" width="0.8" height="32.4" fill="#d08c52"/>
<rect x="277.1" y="74" width="2.25" height="0.5" fill="#8e7a66"/>
<rect x="279.38" y="53" width="1.35" height="53.4" fill="#fcdcbc"/>
<rect x="279.38" y="53" width="1.35" height="0.55" fill="#8e7a66"/>
<rect x="280.74" y="53.8" width="2.25" height="52.6" fill="#e6a46c"/>
<rect x="282.19" y="53.8" width="0.8" height="52.6" fill="#d08c52"/>
<rect x="280.74" y="53.8" width="2.25" height="0.5" fill="#8e7a66"/>
<rect x="283.02" y="65" width="1.35" height="41.4" fill="#fcdcbc"/>
<rect x="283.02" y="65" width="1.35" height="0.55" fill="#8e7a66"/>
<rect x="284.37" y="65.8" width="2.25" height="40.6" fill="#e6a46c"/>
<rect x="285.82" y="65.8" width="0.8" height="40.6" fill="#d08c52"/>
<rect x="284.37" y="65.8" width="2.25" height="0.5" fill="#8e7a66"/>
<rect x="286.66" y="98" width="1.35" height="8.4" fill="#fcdcbc"/>
<rect x="286.66" y="98" width="1.35" height="0.55" fill="#8e7a66"/>
<rect x="288.01" y="98.8" width="2.25" height="7.6" fill="#e6a46c"/>
<rect x="289.46" y="98.8" width="0.8" height="7.6" fill="#d08c52"/>
<rect x="288.01" y="98.8" width="2.25" height="0.5" fill="#8e7a66"/>
<path d="M43,106.4H290.5" stroke="#777" stroke-width="0.3"/>
<path class="lb d5" d="M45.1,109.4L38.38,147.5"/>
<path class="lb d2" d="M48.75,109.4L44.5,133.5"/>
<path class="lb d6" d="M52.4,109.4L49.09,128.2"/>
<path class="lb d0" d="M56.05,109.4L52.22,131.1"/>
<path class="lb d1" d="M59.7,109.4L52.84,148.3"/>
<path class="lb d1" d="M63.35,109.4L54.75,158.2"/>
<path class="lb d5" d="M67,109.4L62.17,136.8"/>
<path class="lb d0" d="M70.65,109.4L62.19,157.4"/>
<path class="lb d3" d="M74.3,109.4L69.98,133.9"/>
<path class="lb d0" d="M77.95,109.4L75.36,124.1"/>
<path class="lb d1" d="M81.6,109.4L76.56,138"/>
<path class="lb d6" d="M85.25,109.4L82.68,124"/>
<path class="lb d6" d="M88.9,109.4L87.12,119.5"/>
<path class="lb d1" d="M92.55,109.4L90.8,119.3"/>
<path class="lb d3" d="M96.2,109.4L91.05,138.6"/>
<path class="lb d1" d="M99.85,109.4L97.56,122.4"/>
<path class="lb d6" d="M103.5,109.4L102.11,117.3"/>
<path class="lb d0" d="M107.15,109.4L103.78,128.5"/>
<path class="lb d1" d="M110.8,109.4L106.74,132.4"/>
<path class="lb d3" d="M114.45,109.4L110.02,134.5"/>
<path class="lb d0" d="M118.1,109.4L115.95,121.6"/>
<path class="lb d6" d="M121.75,109.4L111.82,165.7"/>
<path class="lb d0" d="M125.4,109.4L122.03,128.5"/>
<path class="lb d3" d="M129.05,109.4L126.21,125.5"/>
<path class="lb d0" d="M132.7,109.4L130.39,122.5"/>
<path class="lb d2" d="M136.35,109.4L130.3,143.7"/>
<path class="lb d4" d="M140,109.4L138.15,119.9"/>
<path class="lb d6" d="M143.65,109.4L142.03,118.6"/>
<path class="lb d2" d="M147.3,109.4L146.75,112.5"/>
<path class="lb d1" d="M150.95,109.4L145.13,142.4"/>
<path class="lb d4" d="M154.6,109.4L152.98,118.6"/>
<path class="lb d2" d="M158.25,109.4L155.57,124.6"/>
<path class="lb d1" d="M161.9,109.4L159.45,123.3"/>
<path class="lb d3" d="M165.55,109.4L163.86,119"/>
<path class="lb d5" d="M169.2,109.4L164.92,133.7"/>
<path class="lb d1" d="M172.85,109.4L167.03,142.4"/>
<path class="lb d1" d="M176.5,109.4L174.74,119.4"/>
<path class="lb d0" d="M180.15,109.4L177.01,127.2"/>
<path class="lb d3" d="M183.8,109.4L179.74,132.4"/>
<path class="lb d7" d="M187.45,109.4L180.94,146.3"/>
<path class="lb d6" d="M191.1,109.4L187.04,132.4"/>
<path class="lb d5" d="M194.75,109.4L192.67,121.2"/>
<path class="lb d7" d="M198.4,109.4L195.56,125.5"/>
<path class="lb d7" d="M202.05,109.4L200.97,115.5"/>
<path class="lb d5" d="M205.7,109.4L200.66,138"/>
<path class="lb d4" d="M209.35,109.4L205.29,132.4"/>
<path class="lb d3" d="M213,109.4L210.85,121.6"/>
<path class="lb d2" d="M216.65,109.4L213.51,127.2"/>
<path class="lb d3" d="M220.3,109.4L219.37,114.7"/>
<path class="lb d1" d="M223.95,109.4L214.78,161.4"/>
<path class="lb d4" d="M227.6,109.4L221.94,141.5"/>
<path class="lb d7" d="M231.25,109.4L225.29,143.2"/>
<path class="lb d5" d="M234.9,109.4L230.92,132"/>
<path class="lb d7" d="M238.55,109.4L232.5,143.7"/>
<path class="lb d4" d="M242.2,109.4L240.05,121.6"/>
<path class="lb d1" d="M245.85,109.4L240.65,138.9"/>
<path class="lb d1" d="M249.5,109.4L244.37,138.5"/>
<path class="lb d6" d="M253.15,109.4L247.72,140.2"/>
<path class="lb d2" d="M256.8,109.4L251.53,139.3"/>
<path class="lb d5" d="M260.45,109.4L255.02,140.2"/>
<path class="lb d2" d="M264.1,109.4L258.9,138.9"/>
<path class="lb d7" d="M267.75,109.4L262.71,138"/>
<path class="lb d6" d="M271.4,109.4L267.5,131.5"/>
<path class="lb d0" d="M275.05,109.4L269.78,139.3"/>
<path class="lb d1" d="M278.7,109.4L272.58,144.1"/>
<path class="lb d5" d="M282.35,109.4L278.98,128.5"/>
<path class="lb d5" d="M286,109.4L282.02,132"/>
<path class="lb d5" d="M289.65,109.4L284.68,137.6"/>
<path d="M37.51,153.5L34.2,172.3L125.5,172.3L129.55,149.3" fill="none" stroke="#6b8f7b" stroke-width="0.5"/>
<path d="M137.92,123.3L129.3,172.3L205.6,172.3L213.91,125.1" fill="none" stroke="#7aa0c8" stroke-width="0.5"/>
<path d="M212.31,155.2L209.3,172.3L278.2,172.3L283.62,141.5" fill="none" stroke="#d8a878" stroke-width="0.5"/>
<text x="80.2" y="175.8" font-size="3.2" font-weight="bold" text-anchor="middle" fill="#111">biological process</text>
<text x="167.5" y="175.8" font-size="3.2" font-weight="bold" text-anchor="middle" fill="#111">cellular component</text>
<text x="244" y="175.8" font-size="3.2" font-weight="bold" text-anchor="middle" fill="#111">molecular function</text>
<text x="167" y="235.2" font-size="3.55" font-weight="bold" text-anchor="middle" fill="#111">Gene Function Classification (GO)</text>
<g stroke="#555" stroke-width="0.45" fill="none"><path d="M33.5,240V298.3"/>
<path d="M32.2,240H33.5"/>
<path d="M32.2,254.57H33.5"/>
<path d="M32.2,269.15H33.5"/>
<path d="M32.2,283.73H33.5"/>
<path d="M32.2,298.3H33.5"/>
</g>
<text x="31.9" y="240.9" font-size="2.6" text-anchor="end" fill="#222">100</text>
<text x="31.9" y="255.47" font-size="2.6" text-anchor="end" fill="#222">10</text>
<text x="31.9" y="270.05" font-size="2.6" text-anchor="end" fill="#222">1</text>
<text x="31.9" y="284.62" font-size="2.6" text-anchor="end" fill="#222">0.1</text>
<text x="31.9" y="299.2" font-size="2.6" text-anchor="end" fill="#222">0.01</text>
<text transform="translate(25.3,269.15) rotate(-90)" font-size="3.0" font-weight="bold" text-anchor="middle" fill="#222">Percent of genes</text>
<g stroke="#555" stroke-width="0.45" fill="none"><path d="M299.5,240V298.3"/>
<path d="M299.5,240H300.8"/>
<path d="M299.5,254.57H300.8"/>
<path d="M299.5,269.15H300.8"/>
<path d="M299.5,283.73H300.8"/>
<path d="M299.5,298.3H300.8"/>
</g>
<text x="301.4" y="240.5" font-size="2.5" font-weight="bold" fill="#222">9876</text>
<text x="301.4" y="242.6" font-size="2.1" fill="#444">1110</text>
<text x="301.4" y="255.07" font-size="2.5" font-weight="bold" fill="#222">987</text>
<text x="301.4" y="257.18" font-size="2.1" fill="#444">111</text>
<text x="301.4" y="269.65" font-size="2.5" font-weight="bold" fill="#222">98</text>
<text x="301.4" y="271.75" font-size="2.1" fill="#444">11</text>
<text x="301.4" y="284.23" font-size="2.5" font-weight="bold" fill="#222">9</text>
<text x="301.4" y="286.33" font-size="2.1" fill="#444">1</text>
<text x="301.4" y="298.8" font-size="2.5" font-weight="bold" fill="#222">1</text>
<text transform="translate(311.4,269.15) rotate(90)" font-size="3.2" font-weight="bold" text-anchor="middle" fill="#222">Number of genes</text>
<rect x="42.85" y="249.1" width="1.35" height="49.2" fill="#b8eccd"/>
<rect x="42.85" y="249.1" width="1.35" height="0.55" fill="#5a6e62"/>
<rect x="44.2" y="249.9" width="2.25" height="48.4" fill="#358459"/>
<rect x="45.65" y="249.9" width="0.8" height="48.4" fill="#2a7049"/>
<rect x="44.2" y="249.9" width="2.25" height="0.5" fill="#5a6e62"/>
<rect x="46.49" y="248.3" width="1.35" height="50" fill="#b8eccd"/>
<rect x="46.49" y="248.3" width="1.35" height="0.55" fill="#5a6e62"/>
<rect x="47.84" y="249.1" width="2.25" height="49.2" fill="#358459"/>
<rect x="49.29" y="249.1" width="0.8" height="49.2" fill="#2a7049"/>
<rect x="47.84" y="249.1" width="2.25" height="0.5" fill="#5a6e62"/>
<rect x="50.13" y="249.1" width="1.35" height="49.2" fill="#b8eccd"/>
<rect x="50.13" y="249.1" width="1.35" height="0.55" fill="#5a6e62"/>
<rect x="51.48" y="249.9" width="2.25" height="48.4" fill="#358459"/>
<rect x="52.93" y="249.9" width="0.8" height="48.4" fill="#2a7049"/>
<rect x="51.48" y="249.9" width="2.25" height="0.5" fill="#5a6e62"/>
<rect x="53.77" y="255.3" width="1.35" height="43" fill="#b8eccd"/>
<rect x="53.77" y="255.3" width="1.35" height="0.55" fill="#5a6e62"/>
<rect x="55.12" y="256.1" width="2.25" height="42.2" fill="#358459"/>
<rect x="56.57" y="256.1" width="0.8" height="42.2" fill="#2a7049"/>
<rect x="55.12" y="256.1" width="2.25" height="0.5" fill="#5a6e62"/>
<rect x="57.41" y="251" width="1.35" height="47.3" fill="#b8eccd"/>
<rect x="57.41" y="251" width="1.35" height="0.55" fill="#5a6e62"/>
<rect x="58.76" y="251.8" width="2.25" height="46.5" fill="#358459"/>
<rect x="60.21" y="251.8" width="0.8" height="46.5" fill="#2a7049"/>
<rect x="58.76" y="251.8" width="2.25" height="0.5" fill="#5a6e62"/>
<rect x="61.05" y="251" width="1.35" height="47.3" fill="#b8eccd"/>
<rect x="61.05" y="251" width="1.35" height="0.55" fill="#5a6e62"/>
<rect x="62.4" y="251.8" width="2.25" height="46.5" fill="#358459"/>
<rect x="63.85" y="251.8" width="0.8" height="46.5" fill="#2a7049"/>
<rect x="62.4" y="251.8" width="2.25" height="0.5" fill="#5a6e62"/>
<rect x="64.68" y="247.9" width="1.35" height="50.4" fill="#b8eccd"/>
<rect x="64.68" y="247.9" width="1.35" height="0.55" fill="#5a6e62"/>
<rect x="66.03" y="248.7" width="2.25" height="49.6" fill="#358459"/>
<rect x="67.48" y="248.7" width="0.8" height="49.6" fill="#2a7049"/>
<rect x="66.03" y="248.7" width="2.25" height="0.5" fill="#5a6e62"/>
<rect x="68.32" y="251.4" width="1.35" height="46.9" fill="#b8eccd"/>
<rect x="68.32" y="251.4" width="1.35" height="0.55" fill="#5a6e62"/>
<rect x="69.67" y="252.2" width="2.25" height="46.1" fill="#358459"/>
<rect x="71.12" y="252.2" width="0.8" height="46.1" fill="#2a7049"/>
<rect x="69.67" y="252.2" width="2.25" height="0.5" fill="#5a6e62"/>
<rect x="71.96" y="256.5" width="1.35" height="41.8" fill="#b8eccd"/>
<rect x="71.96" y="256.5" width="1.35" height="0.55" fill="#5a6e62"/>
<rect x="73.31" y="257.3" width="2.25" height="41" fill="#358459"/>
<rect x="74.76" y="257.3" width="0.8" height="41" fill="#2a7049"/>
<rect x="73.31" y="257.3" width="2.25" height="0.5" fill="#5a6e62"/>
<rect x="75.6" y="256.1" width="1.35" height="42.2" fill="#b8eccd"/>
<rect x="75.6" y="256.1" width="1.35" height="0.55" fill="#5a6e62"/>
<rect x="76.95" y="256.9" width="2.25" height="41.4" fill="#358459"/>
<rect x="78.4" y="256.9" width="0.8" height="41.4" fill="#2a7049"/>
<rect x="76.95" y="256.9" width="2.25" height="0.5" fill="#5a6e62"/>
<rect x="79.24" y="260.8" width="1.35" height="37.5" fill="#b8eccd"/>
<rect x="79.24" y="260.8" width="1.35" height="0.55" fill="#5a6e62"/>
<rect x="80.59" y="261.6" width="2.25" height="36.7" fill="#358459"/>
<rect x="82.04" y="261.6" width="0.8" height="36.7" fill="#2a7049"/>
<rect x="80.59" y="261.6" width="2.25" height="0.5" fill="#5a6e62"/>
<rect x="82.88" y="270.1" width="1.35" height="28.2" fill="#b8eccd"/>
<rect x="82.88" y="270.1" width="1.35" height="0.55" fill="#5a6e62"/>
<rect x="84.23" y="270.9" width="2.25" height="27.4" fill="#358459"/>
<rect x="85.68" y="270.9" width="0.8" height="27.4" fill="#2a7049"/>
<rect x="84.23" y="270.9" width="2.25" height="0.5" fill="#5a6e62"/>
<rect x="86.52" y="263.5" width="1.35" height="34.8" fill="#b8eccd"/>
<rect x="86.52" y="263.5" width="1.35" height="0.55" fill="#5a6e62"/>
<rect x="87.87" y="264.3" width="2.25" height="34" fill="#358459"/>
<rect x="89.32" y="264.3" width="0.8" height="34" fill="#2a7049"/>
<rect x="87.87" y="264.3" width="2.25" height="0.5" fill="#5a6e62"/>
<rect x="90.16" y="258" width="1.35" height="40.3" fill="#b8eccd"/>
<rect x="90.16" y="258" width="1.35" height="0.55" fill="#5a6e62"/>
<rect x="91.51" y="258.8" width="2.25" height="39.5" fill="#358459"/>
<rect x="92.96" y="258.8" width="0.8" height="39.5" fill="#2a7049"/>
<rect x="91.51" y="258.8" width="2.25" height="0.5" fill="#5a6e62"/>
<rect x="93.8" y="258.4" width="1.35" height="39.9" fill="#b8eccd"/>
<rect x="93.8" y="258.4" width="1.35" height="0.55" fill="#5a6e62"/>
<rect x="95.15" y="259.2" width="2.25" height="39.1" fill="#358459"/>
<rect x="96.6" y="259.2" width="0.8" height="39.1" fill="#2a7049"/>
<rect x="95.15" y="259.2" width="2.25" height="0.5" fill="#5a6e62"/>
<rect x="97.44" y="245.2" width="1.35" height="53.1" fill="#b8eccd"/>
<rect x="97.44" y="245.2" width="1.35" height="0.55" fill="#5a6e62"/>
<rect x="98.78" y="246" width="2.25" height="52.3" fill="#358459"/>
<rect x="100.23" y="246" width="0.8" height="52.3" fill="#2a7049"/>
<rect x="98.78" y="246" width="2.25" height="0.5" fill="#5a6e62"/>
<rect x="101.07" y="249.5" width="1.35" height="48.8" fill="#b8eccd"/>
<rect x="101.07" y="249.5" width="1.35" height="0.55" fill="#5a6e62"/>
<rect x="102.42" y="250.3" width="2.25" height="48" fill="#358459"/>
<rect x="103.87" y="250.3" width="0.8" height="48" fill="#2a7049"/>
<rect x="102.42" y="250.3" width="2.25" height="0.5" fill="#5a6e62"/>
<rect x="104.71" y="241.3" width="1.35" height="57" fill="#b8eccd"/>
<rect x="104.71" y="241.3" width="1.35" height="0.55" fill="#5a6e62"/>
<rect x="106.06" y="242.1" width="2.25" height="56.2" fill="#358459"/>
<rect x="107.51" y="242.1" width="0.8" height="56.2" fill="#2a7049"/>
<rect x="106.06" y="242.1" width="2.25" height="0.5" fill="#5a6e62"/>
<rect x="108.35" y="244.4" width="1.35" height="53.9" fill="#b8eccd"/>
<rect x="108.35" y="244.4" width="1.35" height="0.55" fill="#5a6e62"/>
<rect x="109.7" y="245.2" width="2.25" height="53.1" fill="#358459"/>
<rect x="111.15" y="245.2" width="0.8" height="53.1" fill="#2a7049"/>
<rect x="109.7" y="245.2" width="2.25" height="0.5" fill="#5a6e62"/>
<rect x="111.99" y="250.6" width="1.35" height="47.7" fill="#b8eccd"/>
<rect x="111.99" y="250.6" width="1.35" height="0.55" fill="#5a6e62"/>
<rect x="113.34" y="251.4" width="2.25" height="46.9" fill="#358459"/>
<rect x="114.79" y="251.4" width="0.8" height="46.9" fill="#2a7049"/>
<rect x="113.34" y="251.4" width="2.25" height="0.5" fill="#5a6e62"/>
<rect x="115.63" y="261.2" width="1.35" height="37.1" fill="#b8eccd"/>
<rect x="115.63" y="261.2" width="1.35" height="0.55" fill="#5a6e62"/>
<rect x="116.98" y="262" width="2.25" height="36.3" fill="#358459"/>
<rect x="118.43" y="262" width="0.8" height="36.3" fill="#2a7049"/>
<rect x="116.98" y="262" width="2.25" height="0.5" fill="#5a6e62"/>
<rect x="119.27" y="281.1" width="1.35" height="17.2" fill="#b8eccd"/>
<rect x="119.27" y="281.1" width="1.35" height="0.55" fill="#5a6e62"/>
<rect x="120.62" y="281.9" width="2.25" height="16.4" fill="#358459"/>
<rect x="122.07" y="281.9" width="0.8" height="16.4" fill="#2a7049"/>
<rect x="120.62" y="281.9" width="2.25" height="0.5" fill="#5a6e62"/>
<rect x="122.91" y="288.5" width="1.35" height="9.8" fill="#b8eccd"/>
<rect x="122.91" y="288.5" width="1.35" height="0.55" fill="#5a6e62"/>
<rect x="124.26" y="289.3" width="2.25" height="9" fill="#358459"/>
<rect x="125.71" y="289.3" width="0.8" height="9" fill="#2a7049"/>
<rect x="124.26" y="289.3" width="2.25" height="0.5" fill="#5a6e62"/>
<rect x="126.55" y="242.1" width="1.35" height="56.2" fill="#b8eccd"/>
<rect x="126.55" y="242.1" width="1.35" height="0.55" fill="#5a6e62"/>
<rect x="127.9" y="242.9" width="2.25" height="55.4" fill="#358459"/>
<rect x="129.35" y="242.9" width="0.8" height="55.4" fill="#2a7049"/>
<rect x="127.9" y="242.9" width="2.25" height="0.5" fill="#5a6e62"/>
<rect x="130.19" y="275.6" width="1.35" height="22.7" fill="#b8eccd"/>
<rect x="130.19" y="275.6" width="1.35" height="0.55" fill="#5a6e62"/>
<rect x="131.54" y="276.4" width="2.25" height="21.9" fill="#358459"/>
<rect x="132.99" y="276.4" width="0.8" height="21.9" fill="#2a7049"/>
<rect x="131.54" y="276.4" width="2.25" height="0.5" fill="#5a6e62"/>
<rect x="137.46" y="249.1" width="1.35" height="49.2" fill="#c8e1f6"/>
<rect x="137.46" y="249.1" width="1.35" height="0.55" fill="#6f7f90"/>
<rect x="138.81" y="249.9" width="2.25" height="48.4" fill="#639dd6"/>
<rect x="140.26" y="249.9" width="0.8" height="48.4" fill="#4f87c0"/>
<rect x="138.81" y="249.9" width="2.25" height="0.5" fill="#6f7f90"/>
<rect x="141.1" y="246.3" width="1.35" height="52" fill="#c8e1f6"/>
<rect x="141.1" y="246.3" width="1.35" height="0.55" fill="#6f7f90"/>
<rect x="142.45" y="247.1" width="2.25" height="51.2" fill="#639dd6"/>
<rect x="143.9" y="247.1" width="0.8" height="51.2" fill="#4f87c0"/>
<rect x="142.45" y="247.1" width="2.25" height="0.5" fill="#6f7f90"/>
<rect x="144.74" y="251.4" width="1.35" height="46.9" fill="#c8e1f6"/>
<rect x="144.74" y="251.4" width="1.35" height="0.55" fill="#6f7f90"/>
<rect x="146.09" y="252.2" width="2.25" height="46.1" fill="#639dd6"/>
<rect x="147.54" y="252.2" width="0.8" height="46.1" fill="#4f87c0"/>
<rect x="146.09" y="252.2" width="2.25" height="0.5" fill="#6f7f90"/>
<rect x="148.38" y="254.5" width="1.35" height="43.8" fill="#c8e1f6"/>
<rect x="148.38" y="254.5" width="1.35" height="0.55" fill="#6f7f90"/>
<rect x="149.73" y="255.3" width="2.25" height="43" fill="#639dd6"/>
<rect x="151.18" y="255.3" width="0.8" height="43" fill="#4f87c0"/>
<rect x="149.73" y="255.3" width="2.25" height="0.5" fill="#6f7f90"/>
<rect x="152.02" y="256.9" width="1.35" height="41.4" fill="#c8e1f6"/>
<rect x="152.02" y="256.9" width="1.35" height="0.55" fill="#6f7f90"/>
<rect x="153.37" y="257.7" width="2.25" height="40.6" fill="#639dd6"/>
<rect x="154.82" y="257.7" width="0.8" height="40.6" fill="#4f87c0"/>
<rect x="153.37" y="257.7" width="2.25" height="0.5" fill="#6f7f90"/>
<rect x="155.66" y="260" width="1.35" height="38.3" fill="#c8e1f6"/>
<rect x="155.66" y="260" width="1.35" height="0.55" fill="#6f7f90"/>
<rect x="157.01" y="260.8" width="2.25" height="37.5" fill="#639dd6"/>
<rect x="158.46" y="260.8" width="0.8" height="37.5" fill="#4f87c0"/>
<rect x="157.01" y="260.8" width="2.25" height="0.5" fill="#6f7f90"/>
<rect x="159.3" y="276" width="1.35" height="22.3" fill="#c8e1f6"/>
<rect x="159.3" y="276" width="1.35" height="0.55" fill="#6f7f90"/>
<rect x="160.65" y="276.8" width="2.25" height="21.5" fill="#639dd6"/>
<rect x="162.1" y="276.8" width="0.8" height="21.5" fill="#4f87c0"/>
<rect x="160.65" y="276.8" width="2.25" height="0.5" fill="#6f7f90"/>
<rect x="162.94" y="261.2" width="1.35" height="37.1" fill="#c8e1f6"/>
<rect x="162.94" y="261.2" width="1.35" height="0.55" fill="#6f7f90"/>
<rect x="164.29" y="262" width="2.25" height="36.3" fill="#639dd6"/>
<rect x="165.74" y="262" width="0.8" height="36.3" fill="#4f87c0"/>
<rect x="164.29" y="262" width="2.25" height="0.5" fill="#6f7f90"/>
<rect x="166.58" y="242.1" width="1.35" height="56.2" fill="#c8e1f6"/>
<rect x="166.58" y="242.1" width="1.35" height="0.55" fill="#6f7f90"/>
<rect x="167.93" y="242.9" width="2.25" height="55.4" fill="#639dd6"/>
<rect x="169.38" y="242.9" width="0.8" height="55.4" fill="#4f87c0"/>
<rect x="167.93" y="242.9" width="2.25" height="0.5" fill="#6f7f90"/>
<rect x="170.22" y="260.4" width="1.35" height="37.9" fill="#c8e1f6"/>
<rect x="170.22" y="260.4" width="1.35" height="0.55" fill="#6f7f90"/>
<rect x="171.56" y="261.2" width="2.25" height="37.1" fill="#639dd6"/>
<rect x="173.01" y="261.2" width="0.8" height="37.1" fill="#4f87c0"/>
<rect x="171.56" y="261.2" width="2.25" height="0.5" fill="#6f7f90"/>
<rect x="173.85" y="274" width="1.35" height="24.3" fill="#c8e1f6"/>
<rect x="173.85" y="274" width="1.35" height="0.55" fill="#6f7f90"/>
<rect x="175.2" y="274.8" width="2.25" height="23.5" fill="#639dd6"/>
<rect x="176.65" y="274.8" width="0.8" height="23.5" fill="#4f87c0"/>
<rect x="175.2" y="274.8" width="2.25" height="0.5" fill="#6f7f90"/>
<rect x="177.49" y="262.3" width="1.35" height="36" fill="#c8e1f6"/>
<rect x="177.49" y="262.3" width="1.35" height="0.55" fill="#6f7f90"/>
<rect x="178.84" y="263.1" width="2.25" height="35.2" fill="#639dd6"/>
<rect x="180.29" y="263.1" width="0.8" height="35.2" fill="#4f87c0"/>
<rect x="178.84" y="263.1" width="2.25" height="0.5" fill="#6f7f90"/>
<rect x="181.13" y="246.3" width="1.35" height="52" fill="#c8e1f6"/>
<rect x="181.13" y="246.3" width="1.35" height="0.55" fill="#6f7f90"/>
<rect x="182.48" y="247.1" width="2.25" height="51.2" fill="#639dd6"/>
<rect x="183.93" y="247.1" width="0.8" height="51.2" fill="#4f87c0"/>
<rect x="182.48" y="247.1" width="2.25" height="0.5" fill="#6f7f90"/>
<rect x="184.77" y="271.3" width="1.35" height="27" fill="#c8e1f6"/>
<rect x="184.77" y="271.3" width="1.35" height="0.55" fill="#6f7f90"/>
<rect x="186.12" y="272.1" width="2.25" height="26.2" fill="#639dd6"/>
<rect x="187.57" y="272.1" width="0.8" height="26.2" fill="#4f87c0"/>
<rect x="186.12" y="272.1" width="2.25" height="0.5" fill="#6f7f90"/>
<rect x="188.41" y="278.3" width="1.35" height="20" fill="#c8e1f6"/>
<rect x="188.41" y="278.3" width="1.35" height="0.55" fill="#6f7f90"/>
<rect x="189.76" y="279.1" width="2.25" height="19.2" fill="#639dd6"/>
<rect x="191.21" y="279.1" width="0.8" height="19.2" fill="#4f87c0"/>
<rect x="189.76" y="279.1" width="2.25" height="0.5" fill="#6f7f90"/>
<rect x="192.05" y="277.5" width="1.35" height="20.8" fill="#c8e1f6"/>
<rect x="192.05" y="277.5" width="1.35" height="0.55" fill="#6f7f90"/>
<rect x="193.4" y="278.3" width="2.25" height="20" fill="#639dd6"/>
<rect x="194.85" y="278.3" width="0.8" height="20" fill="#4f87c0"/>
<rect x="193.4" y="278.3" width="2.25" height="0.5" fill="#6f7f90"/>
<rect x="195.69" y="278.3" width="1.35" height="20" fill="#c8e1f6"/>
<rect x="195.69" y="278.3" width="1.35" height="0.55" fill="#6f7f90"/>
<rect x="197.04" y="279.1" width="2.25" height="19.2" fill="#639dd6"/>
<rect x="198.49" y="279.1" width="0.8" height="19.2" fill="#4f87c0"/>
<rect x="197.04" y="279.1" width="2.25" height="0.5" fill="#6f7f90"/>
<rect x="199.33" y="278.7" width="1.35" height="19.6" fill="#c8e1f6"/>
<rect x="199.33" y="278.7" width="1.35" height="0.55" fill="#6f7f90"/>
<rect x="200.68" y="279.5" width="2.25" height="18.8" fill="#639dd6"/>
<rect x="202.13" y="279.5" width="0.8" height="18.8" fill="#4f87c0"/>
<rect x="200.68" y="279.5" width="2.25" height="0.5" fill="#6f7f90"/>
<rect x="202.97" y="248.3" width="1.35" height="50" fill="#c8e1f6"/>
<rect x="202.97" y="248.3" width="1.35" height="0.55" fill="#6f7f90"/>
<rect x="204.32" y="249.1" width="2.25" height="49.2" fill="#639dd6"/>
<rect x="205.77" y="249.1" width="0.8" height="49.2" fill="#4f87c0"/>
<rect x="204.32" y="249.1" width="2.25" height="0.5" fill="#6f7f90"/>
<rect x="206.6" y="241.3" width="1.35" height="57" fill="#c8e1f6"/>
<rect x="206.6" y="241.3" width="1.35" height="0.55" fill="#6f7f90"/>
<rect x="207.95" y="242.1" width="2.25" height="56.2" fill="#639dd6"/>
<rect x="209.4" y="242.1" width="0.8" height="56.2" fill="#4f87c0"/>
<rect x="207.95" y="242.1" width="2.25" height="0.5" fill="#6f7f90"/>
<rect x="210.24" y="241.3" width="1.35" height="57" fill="#c8e1f6"/>
<rect x="210.24" y="241.3" width="1.35" height="0.55" fill="#6f7f90"/>
<rect x="211.59" y="242.1" width="2.25" height="56.2" fill="#639dd6"/>
<rect x="213.04" y="242.1" width="0.8" height="56.2" fill="#4f87c0"/>
<rect x="211.59" y="242.1" width="2.25" height="0.5" fill="#6f7f90"/>
<rect x="213.88" y="283.4" width="1.35" height="14.9" fill="#c8e1f6"/>
<rect x="213.88" y="283.4" width="1.35" height="0.55" fill="#6f7f90"/>
<rect x="215.23" y="284.2" width="2.25" height="14.1" fill="#639dd6"/>
<rect x="216.68" y="284.2" width="0.8" height="14.1" fill="#4f87c0"/>
<rect x="215.23" y="284.2" width="2.25" height="0.5" fill="#6f7f90"/>
<rect x="217.52" y="256.9" width="1.35" height="41.4" fill="#fcdcbc"/>
<rect x="217.52" y="256.9" width="1.35" height="0.55" fill="#8e7a66"/>
<rect x="218.87" y="257.7" width="2.25" height="40.6" fill="#e6a46c"/>
<rect x="220.32" y="257.7" width="0.8" height="40.6" fill="#d08c52"/>
<rect x="218.87" y="257.7" width="2.25" height="0.5" fill="#8e7a66"/>
<rect x="221.16" y="260.8" width="1.35" height="37.5" fill="#fcdcbc"/>
<rect x="221.16" y="260.8" width="1.35" height="0.55" fill="#8e7a66"/>
<rect x="222.51" y="261.6" width="2.25" height="36.7" fill="#e6a46c"/>
<rect x="223.96" y="261.6" width="0.8" height="36.7" fill="#d08c52"/>
<rect x="222.51" y="261.6" width="2.25" height="0.5" fill="#8e7a66"/>
<rect x="224.8" y="259.6" width="1.35" height="38.7" fill="#fcdcbc"/>
<rect x="224.8" y="259.6" width="1.35" height="0.55" fill="#8e7a66"/>
<rect x="226.15" y="260.4" width="2.25" height="37.9" fill="#e6a46c"/>
<rect x="227.6" y="260.4" width="0.8" height="37.9" fill="#d08c52"/>
<rect x="226.15" y="260.4" width="2.25" height="0.5" fill="#8e7a66"/>
<rect x="228.44" y="265.5" width="1.35" height="32.8" fill="#fcdcbc"/>
<rect x="228.44" y="265.5" width="1.35" height="0.55" fill="#8e7a66"/>
<rect x="229.79" y="266.3" width="2.25" height="32" fill="#e6a46c"/>
<rect x="231.24" y="266.3" width="0.8" height="32" fill="#d08c52"/>
<rect x="229.79" y="266.3" width="2.25" height="0.5" fill="#8e7a66"/>
<rect x="232.08" y="294.7" width="1.35" height="3.6" fill="#fcdcbc"/>
<rect x="232.08" y="294.7" width="1.35" height="0.55" fill="#8e7a66"/>
<rect x="233.43" y="295.5" width="2.25" height="2.8" fill="#e6a46c"/>
<rect x="234.88" y="295.5" width="0.8" height="2.8" fill="#d08c52"/>
<rect x="233.43" y="295.5" width="2.25" height="0.5" fill="#8e7a66"/>
<rect x="235.72" y="282.2" width="1.35" height="16.1" fill="#fcdcbc"/>
<rect x="235.72" y="282.2" width="1.35" height="0.55" fill="#8e7a66"/>
<rect x="237.07" y="283" width="2.25" height="15.3" fill="#e6a46c"/>
<rect x="238.52" y="283" width="0.8" height="15.3" fill="#d08c52"/>
<rect x="237.07" y="283" width="2.25" height="0.5" fill="#8e7a66"/>
<rect x="239.36" y="287.3" width="1.35" height="11" fill="#fcdcbc"/>
<rect x="239.36" y="287.3" width="1.35" height="0.55" fill="#8e7a66"/>
<rect x="240.71" y="288.1" width="2.25" height="10.2" fill="#e6a46c"/>
<rect x="242.16" y="288.1" width="0.8" height="10.2" fill="#d08c52"/>
<rect x="240.71" y="288.1" width="2.25" height="0.5" fill="#8e7a66"/>
<rect x="242.99" y="244.8" width="1.35" height="53.5" fill="#fcdcbc"/>
<rect x="242.99" y="244.8" width="1.35" height="0.55" fill="#8e7a66"/>
<rect x="244.34" y="245.6" width="2.25" height="52.7" fill="#e6a46c"/>
<rect x="245.79" y="245.6" width="0.8" height="52.7" fill="#d08c52"/>
<rect x="244.34" y="245.6" width="2.25" height="0.5" fill="#8e7a66"/>
<rect x="246.63" y="279.1" width="1.35" height="19.2" fill="#fcdcbc"/>
<rect x="246.63" y="279.1" width="1.35" height="0.55" fill="#8e7a66"/>
<rect x="247.98" y="279.9" width="2.25" height="18.4" fill="#e6a46c"/>
<rect x="249.43" y="279.9" width="0.8" height="18.4" fill="#d08c52"/>
<rect x="247.98" y="279.9" width="2.25" height="0.5" fill="#8e7a66"/>
<rect x="250.27" y="296.2" width="1.35" height="2.1" fill="#fcdcbc"/>
<rect x="250.27" y="296.2" width="1.35" height="0.55" fill="#8e7a66"/>
<rect x="251.62" y="297" width="2.25" height="1.3" fill="#e6a46c"/>
<rect x="253.07" y="297" width="0.8" height="1.3" fill="#d08c52"/>
<rect x="251.62" y="297" width="2.25" height="0.5" fill="#8e7a66"/>
<rect x="253.91" y="269" width="1.35" height="29.3" fill="#fcdcbc"/>
<rect x="253.91" y="269" width="1.35" height="0.55" fill="#8e7a66"/>
<rect x="255.26" y="269.8" width="2.25" height="28.5" fill="#e6a46c"/>
<rect x="256.71" y="269.8" width="0.8" height="28.5" fill="#d08c52"/>
<rect x="255.26" y="269.8" width="2.25" height="0.5" fill="#8e7a66"/>
<rect x="257.55" y="284.6" width="1.35" height="13.7" fill="#fcdcbc"/>
<rect x="257.55" y="284.6" width="1.35" height="0.55" fill="#8e7a66"/>
<rect x="258.9" y="285.4" width="2.25" height="12.9" fill="#e6a46c"/>
<rect x="260.35" y="285.4" width="0.8" height="12.9" fill="#d08c52"/>
<rect x="258.9" y="285.4" width="2.25" height="0.5" fill="#8e7a66"/>
<rect x="261.19" y="290.4" width="1.35" height="7.9" fill="#fcdcbc"/>
<rect x="261.19" y="290.4" width="1.35" height="0.55" fill="#8e7a66"/>
<rect x="262.54" y="291.2" width="2.25" height="7.1" fill="#e6a46c"/>
<rect x="263.99" y="291.2" width="0.8" height="7.1" fill="#d08c52"/>
<rect x="262.54" y="291.2" width="2.25" height="0.5" fill="#8e7a66"/>
<rect x="264.83" y="290" width="1.35" height="8.3" fill="#fcdcbc"/>
<rect x="264.83" y="290" width="1.35" height="0.55" fill="#8e7a66"/>
<rect x="266.18" y="290.8" width="2.25" height="7.5" fill="#e6a46c"/>
<rect x="267.63" y="290.8" width="0.8" height="7.5" fill="#d08c52"/>
<rect x="266.18" y="290.8" width="2.25" height="0.5" fill="#8e7a66"/>
<rect x="268.47" y="262.6" width="1.35" height="35.7" fill="#fcdcbc"/>
<rect x="268.47" y="262.6" width="1.35" height="0.55" fill="#8e7a66"/>
<rect x="269.82" y="263.4" width="2.25" height="34.9" fill="#e6a46c"/>
<rect x="271.27" y="263.4" width="0.8" height="34.9" fill="#d08c52"/>
<rect x="269.82" y="263.4" width="2.25" height="0.5" fill="#8e7a66"/>
<rect x="272.11" y="241.9" width="1.35" height="56.4" fill="#fcdcbc"/>
<rect x="272.11" y="241.9" width="1.35" height="0.55" fill="#8e7a66"/>
<rect x="273.46" y="242.7" width="2.25" height="55.6" fill="#e6a46c"/>
<rect x="274.91" y="242.7" width="0.8" height="55.6" fill="#d08c52"/>
<rect x="273.46" y="242.7" width="2.25" height="0.5" fill="#8e7a66"/>
<rect x="275.75" y="277.9" width="1.35" height="20.4" fill="#fcdcbc"/>
<rect x="275.75" y="277.9" width="1.35" height="0.55" fill="#8e7a66"/>
<rect x="277.1" y="278.7" width="2.25" height="19.6" fill="#e6a46c"/>
<rect x="278.55" y="278.7" width="0.8" height="19.6" fill="#d08c52"/>
<rect x="277.1" y="278.7" width="2.25" height="0.5" fill="#8e7a66"/>
<rect x="279.38" y="271.4" width="1.35" height="26.9" fill="#fcdcbc"/>
<rect x="279.38" y="271.4" width="1.35" height="0.55" fill="#8e7a66"/>
<rect x="280.74" y="272.2" width="2.25" height="26.1" fill="#e6a46c"/>
<rect x="282.19" y="272.2" width="0.8" height="26.1" fill="#d08c52"/>
<rect x="280.74" y="272.2" width="2.25" height="0.5" fill="#8e7a66"/>
<rect x="283.02" y="264.9" width="1.35" height="33.4" fill="#fcdcbc"/>
<rect x="283.02" y="264.9" width="1.35" height="0.55" fill="#8e7a66"/>
<rect x="284.37" y="265.7" width="2.25" height="32.6" fill="#e6a46c"/>
<rect x="285.82" y="265.7" width="0.8" height="32.6" fill="#d08c52"/>
<rect x="284.37" y="265.7" width="2.25" height="0.5" fill="#8e7a66"/>
<rect x="286.66" y="256.6" width="1.35" height="41.7" fill="#fcdcbc"/>
<rect x="286.66" y="256.6" width="1.35" height="0.55" fill="#8e7a66"/>
<rect x="288.01" y="257.4" width="2.25" height="40.9" fill="#e6a46c"/>
<rect x="289.46" y="257.4" width="0.8" height="40.9" fill="#d08c52"/>
<rect x="288.01" y="257.4" width="2.25" height="0.5" fill="#8e7a66"/>
<path d="M43,298.3H290.5" stroke="#777" stroke-width="0.3"/>
<path class="lb d7" d="M45.1,301L38.03,341.1"/>
<path class="lb d7" d="M48.75,301L38.72,357.9"/>
<path class="lb d1" d="M52.4,301L47.45,329.1"/>
<path class="lb d1" d="M56.05,301L50.92,330.1"/>
<path class="lb d4" d="M59.7,301L51.11,349.7"/>
<path class="lb d7" d="M63.35,301L61.52,311.4"/>
<path class="lb d1" d="M67,301L62.56,326.2"/>
<path class="lb d0" d="M70.65,301L61.97,350.2"/>
<path class="lb d4" d="M74.3,301L69.86,326.2"/>
<path class="lb d7" d="M77.95,301L75.27,316.2"/>
<path class="lb d4" d="M81.6,301L80.28,308.5"/>
<path class="lb d6" d="M85.25,301L81.65,321.4"/>
<path class="lb d5" d="M88.9,301L87.07,311.4"/>
<path class="lb d0" d="M92.55,301L90.2,314.3"/>
<path class="lb d7" d="M96.2,301L90.98,330.6"/>
<path class="lb d5" d="M99.85,301L93.11,339.2"/>
<path class="lb d2" d="M103.5,301L101.15,314.3"/>
<path class="lb d1" d="M107.15,301L103.89,319.5"/>
<path class="lb d7" d="M110.8,301L106.52,325.3"/>
<path class="lb d0" d="M114.45,301L108.38,335.4"/>
<path class="lb d3" d="M118.1,301L113.99,324.3"/>
<path class="lb d4" d="M121.75,301L119.76,312.3"/>
<path class="lb d2" d="M125.4,301L122.05,320"/>
<path class="lb d3" d="M129.05,301L125.28,322.4"/>
<path class="lb d6" d="M132.7,301L129.86,317.1"/>
<path class="lb d6" d="M136.35,301L133,320"/>
<path class="lb d7" d="M140,301L134.2,333.9"/>
<path class="lb d1" d="M143.65,301L140.81,317.1"/>
<path class="lb d2" d="M147.3,301L141.5,333.9"/>
<path class="lb d7" d="M150.95,301L146.93,323.8"/>
<path class="lb d6" d="M154.6,301L150.09,326.6"/>
<path class="lb d4" d="M158.25,301L155.75,315.2"/>
<path class="lb d2" d="M161.9,301L159.91,312.3"/>
<path class="lb d6" d="M165.55,301L163.98,309.9"/>
<path class="lb d4" d="M169.2,301L167.54,310.4"/>
<path class="lb d6" d="M172.85,301L168.57,325.3"/>
<path class="lb d5" d="M176.5,301L175.51,306.6"/>
<path class="lb d6" d="M180.15,301L177.47,316.2"/>
<path class="lb d3" d="M183.8,301L181.72,312.8"/>
<path class="lb d2" d="M187.45,301L183.43,323.8"/>
<path class="lb d1" d="M191.1,301L189.44,310.4"/>
<path class="lb d2" d="M194.75,301L188.1,338.7"/>
<path class="lb d2" d="M198.4,301L195.23,319"/>
<path class="lb d3" d="M202.05,301L197.94,324.3"/>
<path class="lb d3" d="M205.7,301L202.6,318.6"/>
<path class="lb d0" d="M209.35,301L208.79,304.2"/>
<path class="lb d7" d="M213,301L211.34,310.4"/>
<path class="lb d2" d="M216.65,301L215.5,307.5"/>
<path class="lb d4" d="M220.3,301L214.59,333.4"/>
<path class="lb d4" d="M223.95,301L218.66,331"/>
<path class="lb d0" d="M227.6,301L221.64,334.8"/>
<path class="lb d2" d="M231.25,301L222.01,353.4"/>
<path class="lb d6" d="M234.9,301L230.97,323.3"/>
<path class="lb d5" d="M238.55,301L232.68,334.3"/>
<path class="lb d5" d="M242.2,301L240.01,313.4"/>
<path class="lb d2" d="M245.85,301L242.69,318.9"/>
<path class="lb d0" d="M249.5,301L244.02,332.1"/>
<path class="lb d7" d="M253.15,301L248.16,329.3"/>
<path class="lb d6" d="M256.8,301L251.7,329.9"/>
<path class="lb d6" d="M260.45,301L255.16,331"/>
<path class="lb d6" d="M264.1,301L258.72,331.5"/>
<path class="lb d6" d="M267.75,301L262.95,328.2"/>
<path class="lb d1" d="M271.4,301L266.11,331"/>
<path class="lb d7" d="M275.05,301L273.73,308.5"/>
<path class="lb d6" d="M278.7,301L273.41,331"/>
<path class="lb d0" d="M282.35,301L278.42,323.3"/>
<path class="lb d3" d="M286,301L279.85,335.9"/>
<path class="lb d1" d="M289.65,301L285.63,323.8"/>
<path d="M37.46,345.4L34.2,363.9L125.5,363.9L132.63,323.4" fill="none" stroke="#6b8f7b" stroke-width="0.5"/>
<path d="M133.98,337.3L129.3,363.9L205.6,363.9L214.68,312.3" fill="none" stroke="#7aa0c8" stroke-width="0.5"/>
<path d="M213.65,339.2L209.3,363.9L278.2,363.9L284.38,328.8" fill="none" stroke="#d8a878" stroke-width="0.5"/>
<text x="80.2" y="367.4" font-size="3.2" font-weight="bold" text-anchor="middle" fill="#111">biological process</text>
<text x="167.5" y="367.4" font-size="3.2" font-weight="bold" text-anchor="middle" fill="#111">cellular component</text>
<text x="244" y="367.4" font-size="3.2" font-weight="bold" text-anchor="middle" fill="#111">molecular function</text>
<text x="167" y="454.6" font-size="3.55" font-weight="bold" text-anchor="middle" fill="#111">Gene Function Classification (GO)</text>
<g stroke="#555" stroke-width="0.45" fill="none"><path d="M33.5,459.4V517.5"/>
<path d="M32.2,459.4H33.5"/>
<path d="M32.2,473.92H33.5"/>
<path d="M32.2,488.45H33.5"/>
<path d="M32.2,502.98H33.5"/>
<path d="M32.2,517.5H33.5"/>
</g>
<text x="31.9" y="460.3" font-size="2.6" text-anchor="end" fill="#222">100</text>
<text x="31.9" y="474.82" font-size="2.6" text-anchor="end" fill="#222">10</text>
<text x="31.9" y="489.35" font-size="2.6" text-anchor="end" fill="#222">1</text>
<text x="31.9" y="503.88" font-size="2.6" text-anchor="end" fill="#222">0.1</text>
<text x="31.9" y="518.4" font-size="2.6" text-anchor="end" fill="#222">0.01</text>
<text transform="translate(25.3,488.45) rotate(-90)" font-size="3.0" font-weight="bold" text-anchor="middle" fill="#222">Percent of genes</text>
<g stroke="#555" stroke-width="0.45" fill="none"><path d="M299.5,459.4V517.5"/>
<path d="M299.5,459.4H300.8"/>
<path d="M299.5,473.92H300.8"/>
<path d="M299.5,488.45H300.8"/>
<path d="M299.5,502.98H300.8"/>
<path d="M299.5,517.5H300.8"/>
</g>
<text x="301.4" y="459.9" font-size="2.5" font-weight="bold" fill="#222">9876</text>
<text x="301.4" y="462" font-size="2.1" fill="#444">1110</text>
<text x="301.4" y="474.42" font-size="2.5" font-weight="bold" fill="#222">987</text>
<text x="301.4" y="476.52" font-size="2.1" fill="#444">111</text>
<text x="301.4" y="488.95" font-size="2.5" font-weight="bold" fill="#222">98</text>
<text x="301.4" y="491.05" font-size="2.1" fill="#444">11</text>
<text x="301.4" y="503.48" font-size="2.5" font-weight="bold" fill="#222">9</text>
<text x="301.4" y="505.58" font-size="2.1" fill="#444">1</text>
<text x="301.4" y="518" font-size="2.5" font-weight="bold" fill="#222">1</text>
<text transform="translate(311.4,488.45) rotate(90)" font-size="3.2" font-weight="bold" text-anchor="middle" fill="#222">Number of genes</text>
<rect x="42.85" y="469.1" width="1.35" height="48.4" fill="#b8eccd"/>
<rect x="42.85" y="469.1" width="1.35" height="0.55" fill="#5a6e62"/>
<rect x="44.2" y="469.9" width="2.25" height="47.6" fill="#358459"/>
<rect x="45.65" y="469.9" width="0.8" height="47.6" fill="#2a7049"/>
<rect x="44.2" y="469.9" width="2.25" height="0.5" fill="#5a6e62"/>
<rect x="46.49" y="468.3" width="1.35" height="49.2" fill="#b8eccd"/>
<rect x="46.49" y="468.3" width="1.35" height="0.55" fill="#5a6e62"/>
<rect x="47.84" y="469.1" width="2.25" height="48.4" fill="#358459"/>
<rect x="49.29" y="469.1" width="0.8" height="48.4" fill="#2a7049"/>
<rect x="47.84" y="469.1" width="2.25" height="0.5" fill="#5a6e62"/>
<rect x="50.13" y="469.1" width="1.35" height="48.4" fill="#b8eccd"/>
<rect x="50.13" y="469.1" width="1.35" height="0.55" fill="#5a6e62"/>
<rect x="51.48" y="469.9" width="2.25" height="47.6" fill="#358459"/>
<rect x="52.93" y="469.9" width="0.8" height="47.6" fill="#2a7049"/>
<rect x="51.48" y="469.9" width="2.25" height="0.5" fill="#5a6e62"/>
<rect x="53.77" y="471" width="1.35" height="46.5" fill="#b8eccd"/>
<rect x="53.77" y="471" width="1.35" height="0.55" fill="#5a6e62"/>
<rect x="55.12" y="471.8" width="2.25" height="45.7" fill="#358459"/>
<rect x="56.57" y="471.8" width="0.8" height="45.7" fill="#2a7049"/>
<rect x="55.12" y="471.8" width="2.25" height="0.5" fill="#5a6e62"/>
<rect x="57.41" y="467.5" width="1.35" height="50" fill="#b8eccd"/>
<rect x="57.41" y="467.5" width="1.35" height="0.55" fill="#5a6e62"/>
<rect x="58.76" y="468.3" width="2.25" height="49.2" fill="#358459"/>
<rect x="60.21" y="468.3" width="0.8" height="49.2" fill="#2a7049"/>
<rect x="58.76" y="468.3" width="2.25" height="0.5" fill="#5a6e62"/>
<rect x="61.05" y="471" width="1.35" height="46.5" fill="#b8eccd"/>
<rect x="61.05" y="471" width="1.35" height="0.55" fill="#5a6e62"/>
<rect x="62.4" y="471.8" width="2.25" height="45.7" fill="#358459"/>
<rect x="63.85" y="471.8" width="0.8" height="45.7" fill="#2a7049"/>
<rect x="62.4" y="471.8" width="2.25" height="0.5" fill="#5a6e62"/>
<rect x="64.68" y="474.9" width="1.35" height="42.6" fill="#b8eccd"/>
<rect x="64.68" y="474.9" width="1.35" height="0.55" fill="#5a6e62"/>
<rect x="66.03" y="475.7" width="2.25" height="41.8" fill="#358459"/>
<rect x="67.48" y="475.7" width="0.8" height="41.8" fill="#2a7049"/>
<rect x="66.03" y="475.7" width="2.25" height="0.5" fill="#5a6e62"/>
<rect x="68.32" y="483.1" width="1.35" height="34.4" fill="#b8eccd"/>
<rect x="68.32" y="483.1" width="1.35" height="0.55" fill="#5a6e62"/>
<rect x="69.67" y="483.9" width="2.25" height="33.6" fill="#358459"/>
<rect x="71.12" y="483.9" width="0.8" height="33.6" fill="#2a7049"/>
<rect x="69.67" y="483.9" width="2.25" height="0.5" fill="#5a6e62"/>
<rect x="71.96" y="476.1" width="1.35" height="41.4" fill="#b8eccd"/>
<rect x="71.96" y="476.1" width="1.35" height="0.55" fill="#5a6e62"/>
<rect x="73.31" y="476.9" width="2.25" height="40.6" fill="#358459"/>
<rect x="74.76" y="476.9" width="0.8" height="40.6" fill="#2a7049"/>
<rect x="73.31" y="476.9" width="2.25" height="0.5" fill="#5a6e62"/>
<rect x="75.6" y="480.4" width="1.35" height="37.1" fill="#b8eccd"/>
<rect x="75.6" y="480.4" width="1.35" height="0.55" fill="#5a6e62"/>
<rect x="76.95" y="481.2" width="2.25" height="36.3" fill="#358459"/>
<rect x="78.4" y="481.2" width="0.8" height="36.3" fill="#2a7049"/>
<rect x="76.95" y="481.2" width="2.25" height="0.5" fill="#5a6e62"/>
<rect x="79.24" y="476.1" width="1.35" height="41.4" fill="#b8eccd"/>
<rect x="79.24" y="476.1" width="1.35" height="0.55" fill="#5a6e62"/>
<rect x="80.59" y="476.9" width="2.25" height="40.6" fill="#358459"/>
<rect x="82.04" y="476.9" width="0.8" height="40.6" fill="#2a7049"/>
<rect x="80.59" y="476.9" width="2.25" height="0.5" fill="#5a6e62"/>
<rect x="82.88" y="471" width="1.35" height="46.5" fill="#b8eccd"/>
<rect x="82.88" y="471" width="1.35" height="0.55" fill="#5a6e62"/>
<rect x="84.23" y="471.8" width="2.25" height="45.7" fill="#358459"/>
<rect x="85.68" y="471.8" width="0.8" height="45.7" fill="#2a7049"/>
<rect x="84.23" y="471.8" width="2.25" height="0.5" fill="#5a6e62"/>
<rect x="86.52" y="490.3" width="1.35" height="27.2" fill="#b8eccd"/>
<rect x="86.52" y="490.3" width="1.35" height="0.55" fill="#5a6e62"/>
<rect x="87.87" y="491.1" width="2.25" height="26.4" fill="#358459"/>
<rect x="89.32" y="491.1" width="0.8" height="26.4" fill="#2a7049"/>
<rect x="87.87" y="491.1" width="2.25" height="0.5" fill="#5a6e62"/>
<rect x="90.16" y="464.2" width="1.35" height="53.3" fill="#b8eccd"/>
<rect x="90.16" y="464.2" width="1.35" height="0.55" fill="#5a6e62"/>
<rect x="91.51" y="465" width="2.25" height="52.5" fill="#358459"/>
<rect x="92.96" y="465" width="0.8" height="52.5" fill="#2a7049"/>
<rect x="91.51" y="465" width="2.25" height="0.5" fill="#5a6e62"/>
<rect x="93.8" y="468.7" width="1.35" height="48.8" fill="#b8eccd"/>
<rect x="93.8" y="468.7" width="1.35" height="0.55" fill="#5a6e62"/>
<rect x="95.15" y="469.5" width="2.25" height="48" fill="#358459"/>
<rect x="96.6" y="469.5" width="0.8" height="48" fill="#2a7049"/>
<rect x="95.15" y="469.5" width="2.25" height="0.5" fill="#5a6e62"/>
<rect x="97.44" y="476.9" width="1.35" height="40.6" fill="#b8eccd"/>
<rect x="97.44" y="476.9" width="1.35" height="0.55" fill="#5a6e62"/>
<rect x="98.78" y="477.7" width="2.25" height="39.8" fill="#358459"/>
<rect x="100.23" y="477.7" width="0.8" height="39.8" fill="#2a7049"/>
<rect x="98.78" y="477.7" width="2.25" height="0.5" fill="#5a6e62"/>
<rect x="101.07" y="477.3" width="1.35" height="40.2" fill="#b8eccd"/>
<rect x="101.07" y="477.3" width="1.35" height="0.55" fill="#5a6e62"/>
<rect x="102.42" y="478.1" width="2.25" height="39.4" fill="#358459"/>
<rect x="103.87" y="478.1" width="0.8" height="39.4" fill="#2a7049"/>
<rect x="102.42" y="478.1" width="2.25" height="0.5" fill="#5a6e62"/>
<rect x="104.71" y="464" width="1.35" height="53.5" fill="#b8eccd"/>
<rect x="104.71" y="464" width="1.35" height="0.55" fill="#5a6e62"/>
<rect x="106.06" y="464.8" width="2.25" height="52.7" fill="#358459"/>
<rect x="107.51" y="464.8" width="0.8" height="52.7" fill="#2a7049"/>
<rect x="106.06" y="464.8" width="2.25" height="0.5" fill="#5a6e62"/>
<rect x="108.35" y="469.9" width="1.35" height="47.6" fill="#b8eccd"/>
<rect x="108.35" y="469.9" width="1.35" height="0.55" fill="#5a6e62"/>
<rect x="109.7" y="470.7" width="2.25" height="46.8" fill="#358459"/>
<rect x="111.15" y="470.7" width="0.8" height="46.8" fill="#2a7049"/>
<rect x="109.7" y="470.7" width="2.25" height="0.5" fill="#5a6e62"/>
<rect x="111.99" y="460.9" width="1.35" height="56.6" fill="#b8eccd"/>
<rect x="111.99" y="460.9" width="1.35" height="0.55" fill="#5a6e62"/>
<rect x="113.34" y="461.7" width="2.25" height="55.8" fill="#358459"/>
<rect x="114.79" y="461.7" width="0.8" height="55.8" fill="#2a7049"/>
<rect x="113.34" y="461.7" width="2.25" height="0.5" fill="#5a6e62"/>
<rect x="115.63" y="480" width="1.35" height="37.5" fill="#b8eccd"/>
<rect x="115.63" y="480" width="1.35" height="0.55" fill="#5a6e62"/>
<rect x="116.98" y="480.8" width="2.25" height="36.7" fill="#358459"/>
<rect x="118.43" y="480.8" width="0.8" height="36.7" fill="#2a7049"/>
<rect x="116.98" y="480.8" width="2.25" height="0.5" fill="#5a6e62"/>
<rect x="119.27" y="500.3" width="1.35" height="17.2" fill="#b8eccd"/>
<rect x="119.27" y="500.3" width="1.35" height="0.55" fill="#5a6e62"/>
<rect x="120.62" y="501.1" width="2.25" height="16.4" fill="#358459"/>
<rect x="122.07" y="501.1" width="0.8" height="16.4" fill="#2a7049"/>
<rect x="120.62" y="501.1" width="2.25" height="0.5" fill="#5a6e62"/>
<rect x="122.91" y="508.5" width="1.35" height="9" fill="#b8eccd"/>
<rect x="122.91" y="508.5" width="1.35" height="0.55" fill="#5a6e62"/>
<rect x="124.26" y="509.3" width="2.25" height="8.2" fill="#358459"/>
<rect x="125.71" y="509.3" width="0.8" height="8.2" fill="#2a7049"/>
<rect x="124.26" y="509.3" width="2.25" height="0.5" fill="#5a6e62"/>
<rect x="126.55" y="495.6" width="1.35" height="21.9" fill="#b8eccd"/>
<rect x="126.55" y="495.6" width="1.35" height="0.55" fill="#5a6e62"/>
<rect x="127.9" y="496.4" width="2.25" height="21.1" fill="#358459"/>
<rect x="129.35" y="496.4" width="0.8" height="21.1" fill="#2a7049"/>
<rect x="127.9" y="496.4" width="2.25" height="0.5" fill="#5a6e62"/>
<rect x="130.19" y="462.1" width="1.35" height="55.4" fill="#b8eccd"/>
<rect x="130.19" y="462.1" width="1.35" height="0.55" fill="#5a6e62"/>
<rect x="131.54" y="462.9" width="2.25" height="54.6" fill="#358459"/>
<rect x="132.99" y="462.9" width="0.8" height="54.6" fill="#2a7049"/>
<rect x="131.54" y="462.9" width="2.25" height="0.5" fill="#5a6e62"/>
<rect x="137.46" y="466" width="1.35" height="51.5" fill="#c8e1f6"/>
<rect x="137.46" y="466" width="1.35" height="0.55" fill="#6f7f90"/>
<rect x="138.81" y="466.8" width="2.25" height="50.7" fill="#639dd6"/>
<rect x="140.26" y="466.8" width="0.8" height="50.7" fill="#4f87c0"/>
<rect x="138.81" y="466.8" width="2.25" height="0.5" fill="#6f7f90"/>
<rect x="141.1" y="468.7" width="1.35" height="48.8" fill="#c8e1f6"/>
<rect x="141.1" y="468.7" width="1.35" height="0.55" fill="#6f7f90"/>
<rect x="142.45" y="469.5" width="2.25" height="48" fill="#639dd6"/>
<rect x="143.9" y="469.5" width="0.8" height="48" fill="#4f87c0"/>
<rect x="142.45" y="469.5" width="2.25" height="0.5" fill="#6f7f90"/>
<rect x="144.74" y="471" width="1.35" height="46.5" fill="#c8e1f6"/>
<rect x="144.74" y="471" width="1.35" height="0.55" fill="#6f7f90"/>
<rect x="146.09" y="471.8" width="2.25" height="45.7" fill="#639dd6"/>
<rect x="147.54" y="471.8" width="0.8" height="45.7" fill="#4f87c0"/>
<rect x="146.09" y="471.8" width="2.25" height="0.5" fill="#6f7f90"/>
<rect x="148.38" y="466" width="1.35" height="51.5" fill="#c8e1f6"/>
<rect x="148.38" y="466" width="1.35" height="0.55" fill="#6f7f90"/>
<rect x="149.73" y="466.8" width="2.25" height="50.7" fill="#639dd6"/>
<rect x="151.18" y="466.8" width="0.8" height="50.7" fill="#4f87c0"/>
<rect x="149.73" y="466.8" width="2.25" height="0.5" fill="#6f7f90"/>
<rect x="152.02" y="476.9" width="1.35" height="40.6" fill="#c8e1f6"/>
<rect x="152.02" y="476.9" width="1.35" height="0.55" fill="#6f7f90"/>
<rect x="153.37" y="477.7" width="2.25" height="39.8" fill="#639dd6"/>
<rect x="154.82" y="477.7" width="0.8" height="39.8" fill="#4f87c0"/>
<rect x="153.37" y="477.7" width="2.25" height="0.5" fill="#6f7f90"/>
<rect x="155.66" y="474.1" width="1.35" height="43.4" fill="#c8e1f6"/>
<rect x="155.66" y="474.1" width="1.35" height="0.55" fill="#6f7f90"/>
<rect x="157.01" y="474.9" width="2.25" height="42.6" fill="#639dd6"/>
<rect x="158.46" y="474.9" width="0.8" height="42.6" fill="#4f87c0"/>
<rect x="157.01" y="474.9" width="2.25" height="0.5" fill="#6f7f90"/>
<rect x="159.3" y="480.4" width="1.35" height="37.1" fill="#c8e1f6"/>
<rect x="159.3" y="480.4" width="1.35" height="0.55" fill="#6f7f90"/>
<rect x="160.65" y="481.2" width="2.25" height="36.3" fill="#639dd6"/>
<rect x="162.1" y="481.2" width="0.8" height="36.3" fill="#4f87c0"/>
<rect x="160.65" y="481.2" width="2.25" height="0.5" fill="#6f7f90"/>
<rect x="162.94" y="467.5" width="1.35" height="50" fill="#c8e1f6"/>
<rect x="162.94" y="467.5" width="1.35" height="0.55" fill="#6f7f90"/>
<rect x="164.29" y="468.3" width="2.25" height="49.2" fill="#639dd6"/>
<rect x="165.74" y="468.3" width="0.8" height="49.2" fill="#4f87c0"/>
<rect x="164.29" y="468.3" width="2.25" height="0.5" fill="#6f7f90"/>
<rect x="166.58" y="461.7" width="1.35" height="55.8" fill="#c8e1f6"/>
<rect x="166.58" y="461.7" width="1.35" height="0.55" fill="#6f7f90"/>
<rect x="167.93" y="462.5" width="2.25" height="55" fill="#639dd6"/>
<rect x="169.38" y="462.5" width="0.8" height="55" fill="#4f87c0"/>
<rect x="167.93" y="462.5" width="2.25" height="0.5" fill="#6f7f90"/>
<rect x="170.22" y="490.9" width="1.35" height="26.6" fill="#c8e1f6"/>
<rect x="170.22" y="490.9" width="1.35" height="0.55" fill="#6f7f90"/>
<rect x="171.56" y="491.7" width="2.25" height="25.8" fill="#639dd6"/>
<rect x="173.01" y="491.7" width="0.8" height="25.8" fill="#4f87c0"/>
<rect x="171.56" y="491.7" width="2.25" height="0.5" fill="#6f7f90"/>
<rect x="173.85" y="460.5" width="1.35" height="57" fill="#c8e1f6"/>
<rect x="173.85" y="460.5" width="1.35" height="0.55" fill="#6f7f90"/>
<rect x="175.2" y="461.3" width="2.25" height="56.2" fill="#639dd6"/>
<rect x="176.65" y="461.3" width="0.8" height="56.2" fill="#4f87c0"/>
<rect x="175.2" y="461.3" width="2.25" height="0.5" fill="#6f7f90"/>
<rect x="177.49" y="460.5" width="1.35" height="57" fill="#c8e1f6"/>
<rect x="177.49" y="460.5" width="1.35" height="0.55" fill="#6f7f90"/>
<rect x="178.84" y="461.3" width="2.25" height="56.2" fill="#639dd6"/>
<rect x="180.29" y="461.3" width="0.8" height="56.2" fill="#4f87c0"/>
<rect x="178.84" y="461.3" width="2.25" height="0.5" fill="#6f7f90"/>
<rect x="181.13" y="480" width="1.35" height="37.5" fill="#c8e1f6"/>
<rect x="181.13" y="480" width="1.35" height="0.55" fill="#6f7f90"/>
<rect x="182.48" y="480.8" width="2.25" height="36.7" fill="#639dd6"/>
<rect x="183.93" y="480.8" width="0.8" height="36.7" fill="#4f87c0"/>
<rect x="182.48" y="480.8" width="2.25" height="0.5" fill="#6f7f90"/>
<rect x="184.77" y="496.8" width="1.35" height="20.7" fill="#c8e1f6"/>
<rect x="184.77" y="496.8" width="1.35" height="0.55" fill="#6f7f90"/>
<rect x="186.12" y="497.6" width="2.25" height="19.9" fill="#639dd6"/>
<rect x="187.57" y="497.6" width="0.8" height="19.9" fill="#4f87c0"/>
<rect x="186.12" y="497.6" width="2.25" height="0.5" fill="#6f7f90"/>
<rect x="188.41" y="497.5" width="1.35" height="20" fill="#c8e1f6"/>
<rect x="188.41" y="497.5" width="1.35" height="0.55" fill="#6f7f90"/>
<rect x="189.76" y="498.3" width="2.25" height="19.2" fill="#639dd6"/>
<rect x="191.21" y="498.3" width="0.8" height="19.2" fill="#4f87c0"/>
<rect x="189.76" y="498.3" width="2.25" height="0.5" fill="#6f7f90"/>
<rect x="192.05" y="480.8" width="1.35" height="36.7" fill="#c8e1f6"/>
<rect x="192.05" y="480.8" width="1.35" height="0.55" fill="#6f7f90"/>
<rect x="193.4" y="481.6" width="2.25" height="35.9" fill="#639dd6"/>
<rect x="194.85" y="481.6" width="0.8" height="35.9" fill="#4f87c0"/>
<rect x="193.4" y="481.6" width="2.25" height="0.5" fill="#6f7f90"/>
<rect x="195.69" y="495.2" width="1.35" height="22.3" fill="#c8e1f6"/>
<rect x="195.69" y="495.2" width="1.35" height="0.55" fill="#6f7f90"/>
<rect x="197.04" y="496" width="2.25" height="21.5" fill="#639dd6"/>
<rect x="198.49" y="496" width="0.8" height="21.5" fill="#4f87c0"/>
<rect x="197.04" y="496" width="2.25" height="0.5" fill="#6f7f90"/>
<rect x="199.33" y="503.4" width="1.35" height="14.1" fill="#c8e1f6"/>
<rect x="199.33" y="503.4" width="1.35" height="0.55" fill="#6f7f90"/>
<rect x="200.68" y="504.2" width="2.25" height="13.3" fill="#639dd6"/>
<rect x="202.13" y="504.2" width="0.8" height="13.3" fill="#4f87c0"/>
<rect x="200.68" y="504.2" width="2.25" height="0.5" fill="#6f7f90"/>
<rect x="202.97" y="497.9" width="1.35" height="19.6" fill="#c8e1f6"/>
<rect x="202.97" y="497.9" width="1.35" height="0.55" fill="#6f7f90"/>
<rect x="204.32" y="498.7" width="2.25" height="18.8" fill="#639dd6"/>
<rect x="205.77" y="498.7" width="0.8" height="18.8" fill="#4f87c0"/>
<rect x="204.32" y="498.7" width="2.25" height="0.5" fill="#6f7f90"/>
<rect x="206.6" y="497.9" width="1.35" height="19.6" fill="#c8e1f6"/>
<rect x="206.6" y="497.9" width="1.35" height="0.55" fill="#6f7f90"/>
<rect x="207.95" y="498.7" width="2.25" height="18.8" fill="#639dd6"/>
<rect x="209.4" y="498.7" width="0.8" height="18.8" fill="#4f87c0"/>
<rect x="207.95" y="498.7" width="2.25" height="0.5" fill="#6f7f90"/>
<rect x="210.24" y="493.6" width="1.35" height="23.9" fill="#c8e1f6"/>
<rect x="210.24" y="493.6" width="1.35" height="0.55" fill="#6f7f90"/>
<rect x="211.59" y="494.4" width="2.25" height="23.1" fill="#639dd6"/>
<rect x="213.04" y="494.4" width="0.8" height="23.1" fill="#4f87c0"/>
<rect x="211.59" y="494.4" width="2.25" height="0.5" fill="#6f7f90"/>
<rect x="213.88" y="481.6" width="1.35" height="35.9" fill="#c8e1f6"/>
<rect x="213.88" y="481.6" width="1.35" height="0.55" fill="#6f7f90"/>
<rect x="215.23" y="482.4" width="2.25" height="35.1" fill="#639dd6"/>
<rect x="216.68" y="482.4" width="0.8" height="35.1" fill="#4f87c0"/>
<rect x="215.23" y="482.4" width="2.25" height="0.5" fill="#6f7f90"/>
<rect x="217.52" y="478.4" width="1.35" height="39.1" fill="#fcdcbc"/>
<rect x="217.52" y="478.4" width="1.35" height="0.55" fill="#8e7a66"/>
<rect x="218.87" y="479.2" width="2.25" height="38.3" fill="#e6a46c"/>
<rect x="220.32" y="479.2" width="0.8" height="38.3" fill="#d08c52"/>
<rect x="218.87" y="479.2" width="2.25" height="0.5" fill="#8e7a66"/>
<rect x="221.16" y="481.6" width="1.35" height="35.9" fill="#fcdcbc"/>
<rect x="221.16" y="481.6" width="1.35" height="0.55" fill="#8e7a66"/>
<rect x="222.51" y="482.4" width="2.25" height="35.1" fill="#e6a46c"/>
<rect x="223.96" y="482.4" width="0.8" height="35.1" fill="#d08c52"/>
<rect x="222.51" y="482.4" width="2.25" height="0.5" fill="#8e7a66"/>
<rect x="224.8" y="482.1" width="1.35" height="35.4" fill="#fcdcbc"/>
<rect x="224.8" y="482.1" width="1.35" height="0.55" fill="#8e7a66"/>
<rect x="226.15" y="482.9" width="2.25" height="34.6" fill="#e6a46c"/>
<rect x="227.6" y="482.9" width="0.8" height="34.6" fill="#d08c52"/>
<rect x="226.15" y="482.9" width="2.25" height="0.5" fill="#8e7a66"/>
<rect x="228.44" y="484.3" width="1.35" height="33.2" fill="#fcdcbc"/>
<rect x="228.44" y="484.3" width="1.35" height="0.55" fill="#8e7a66"/>
<rect x="229.79" y="485.1" width="2.25" height="32.4" fill="#e6a46c"/>
<rect x="231.24" y="485.1" width="0.8" height="32.4" fill="#d08c52"/>
<rect x="229.79" y="485.1" width="2.25" height="0.5" fill="#8e7a66"/>
<rect x="232.08" y="479.6" width="1.35" height="37.9" fill="#fcdcbc"/>
<rect x="232.08" y="479.6" width="1.35" height="0.55" fill="#8e7a66"/>
<rect x="233.43" y="480.4" width="2.25" height="37.1" fill="#e6a46c"/>
<rect x="234.88" y="480.4" width="0.8" height="37.1" fill="#d08c52"/>
<rect x="233.43" y="480.4" width="2.25" height="0.5" fill="#8e7a66"/>
<rect x="235.72" y="484.3" width="1.35" height="33.2" fill="#fcdcbc"/>
<rect x="235.72" y="484.3" width="1.35" height="0.55" fill="#8e7a66"/>
<rect x="237.07" y="485.1" width="2.25" height="32.4" fill="#e6a46c"/>
<rect x="238.52" y="485.1" width="0.8" height="32.4" fill="#d08c52"/>
<rect x="237.07" y="485.1" width="2.25" height="0.5" fill="#8e7a66"/>
<rect x="239.36" y="506.9" width="1.35" height="10.6" fill="#fcdcbc"/>
<rect x="239.36" y="506.9" width="1.35" height="0.55" fill="#8e7a66"/>
<rect x="240.71" y="507.7" width="2.25" height="9.8" fill="#e6a46c"/>
<rect x="242.16" y="507.7" width="0.8" height="9.8" fill="#d08c52"/>
<rect x="240.71" y="507.7" width="2.25" height="0.5" fill="#8e7a66"/>
<rect x="242.99" y="501.1" width="1.35" height="16.4" fill="#fcdcbc"/>
<rect x="242.99" y="501.1" width="1.35" height="0.55" fill="#8e7a66"/>
<rect x="244.34" y="501.9" width="2.25" height="15.6" fill="#e6a46c"/>
<rect x="245.79" y="501.9" width="0.8" height="15.6" fill="#d08c52"/>
<rect x="244.34" y="501.9" width="2.25" height="0.5" fill="#8e7a66"/>
<rect x="246.63" y="498.7" width="1.35" height="18.8" fill="#fcdcbc"/>
<rect x="246.63" y="498.7" width="1.35" height="0.55" fill="#8e7a66"/>
<rect x="247.98" y="499.5" width="2.25" height="18" fill="#e6a46c"/>
<rect x="249.43" y="499.5" width="0.8" height="18" fill="#d08c52"/>
<rect x="247.98" y="499.5" width="2.25" height="0.5" fill="#8e7a66"/>
<rect x="250.27" y="464" width="1.35" height="53.5" fill="#fcdcbc"/>
<rect x="250.27" y="464" width="1.35" height="0.55" fill="#8e7a66"/>
<rect x="251.62" y="464.8" width="2.25" height="52.7" fill="#e6a46c"/>
<rect x="253.07" y="464.8" width="0.8" height="52.7" fill="#d08c52"/>
<rect x="251.62" y="464.8" width="2.25" height="0.5" fill="#8e7a66"/>
<rect x="253.91" y="461.7" width="1.35" height="55.8" fill="#fcdcbc"/>
<rect x="253.91" y="461.7" width="1.35" height="0.55" fill="#8e7a66"/>
<rect x="255.26" y="462.5" width="2.25" height="55" fill="#e6a46c"/>
<rect x="256.71" y="462.5" width="0.8" height="55" fill="#d08c52"/>
<rect x="255.26" y="462.5" width="2.25" height="0.5" fill="#8e7a66"/>
<rect x="257.55" y="488.6" width="1.35" height="28.9" fill="#fcdcbc"/>
<rect x="257.55" y="488.6" width="1.35" height="0.55" fill="#8e7a66"/>
<rect x="258.9" y="489.4" width="2.25" height="28.1" fill="#e6a46c"/>
<rect x="260.35" y="489.4" width="0.8" height="28.1" fill="#d08c52"/>
<rect x="258.9" y="489.4" width="2.25" height="0.5" fill="#8e7a66"/>
<rect x="261.19" y="509.4" width="1.35" height="8.1" fill="#fcdcbc"/>
<rect x="261.19" y="509.4" width="1.35" height="0.55" fill="#8e7a66"/>
<rect x="262.54" y="510.2" width="2.25" height="7.3" fill="#e6a46c"/>
<rect x="263.99" y="510.2" width="0.8" height="7.3" fill="#d08c52"/>
<rect x="262.54" y="510.2" width="2.25" height="0.5" fill="#8e7a66"/>
<rect x="264.83" y="514" width="1.35" height="3.5" fill="#fcdcbc"/>
<rect x="264.83" y="514" width="1.35" height="0.55" fill="#8e7a66"/>
<rect x="266.18" y="514.8" width="2.25" height="2.7" fill="#e6a46c"/>
<rect x="267.63" y="514.8" width="0.8" height="2.7" fill="#d08c52"/>
<rect x="266.18" y="514.8" width="2.25" height="0.5" fill="#8e7a66"/>
<rect x="268.47" y="509.2" width="1.35" height="8.3" fill="#fcdcbc"/>
<rect x="268.47" y="509.2" width="1.35" height="0.55" fill="#8e7a66"/>
<rect x="269.82" y="510" width="2.25" height="7.5" fill="#e6a46c"/>
<rect x="271.27" y="510" width="0.8" height="7.5" fill="#d08c52"/>
<rect x="269.82" y="510" width="2.25" height="0.5" fill="#8e7a66"/>
<rect x="272.11" y="503.2" width="1.35" height="14.3" fill="#fcdcbc"/>
<rect x="272.11" y="503.2" width="1.35" height="0.55" fill="#8e7a66"/>
<rect x="273.46" y="504" width="2.25" height="13.5" fill="#e6a46c"/>
<rect x="274.91" y="504" width="0.8" height="13.5" fill="#d08c52"/>
<rect x="273.46" y="504" width="2.25" height="0.5" fill="#8e7a66"/>
<rect x="275.75" y="497" width="1.35" height="20.5" fill="#fcdcbc"/>
<rect x="275.75" y="497" width="1.35" height="0.55" fill="#8e7a66"/>
<rect x="277.1" y="497.8" width="2.25" height="19.7" fill="#e6a46c"/>
<rect x="278.55" y="497.8" width="0.8" height="19.7" fill="#d08c52"/>
<rect x="277.1" y="497.8" width="2.25" height="0.5" fill="#8e7a66"/>
<rect x="279.38" y="476.1" width="1.35" height="41.4" fill="#fcdcbc"/>
<rect x="279.38" y="476.1" width="1.35" height="0.55" fill="#8e7a66"/>
<rect x="280.74" y="476.9" width="2.25" height="40.6" fill="#e6a46c"/>
<rect x="282.19" y="476.9" width="0.8" height="40.6" fill="#d08c52"/>
<rect x="280.74" y="476.9" width="2.25" height="0.5" fill="#8e7a66"/>
<rect x="283.02" y="491.4" width="1.35" height="26.1" fill="#fcdcbc"/>
<rect x="283.02" y="491.4" width="1.35" height="0.55" fill="#8e7a66"/>
<rect x="284.37" y="492.2" width="2.25" height="25.3" fill="#e6a46c"/>
<rect x="285.82" y="492.2" width="0.8" height="25.3" fill="#d08c52"/>
<rect x="284.37" y="492.2" width="2.25" height="0.5" fill="#8e7a66"/>
<rect x="286.66" y="516.1" width="1.35" height="1.4" fill="#fcdcbc"/>
<rect x="286.66" y="516.1" width="1.35" height="0.55" fill="#8e7a66"/>
<rect x="288.01" y="516.9" width="2.25" height="0.6" fill="#e6a46c"/>
<rect x="289.46" y="516.9" width="0.8" height="0.6" fill="#d08c52"/>
<rect x="288.01" y="516.9" width="2.25" height="0.5" fill="#8e7a66"/>
<path d="M43,517.5H290.5" stroke="#777" stroke-width="0.3"/>
<path class="lb d3" d="M45.1,520.4L38.19,559.6"/>
<path class="lb d7" d="M48.75,520.4L38.88,576.4"/>
<path class="lb d2" d="M52.4,520.4L47.52,548.1"/>
<path class="lb d1" d="M56.05,520.4L54.29,530.4"/>
<path class="lb d5" d="M59.7,520.4L55.33,545.2"/>
<path class="lb d0" d="M63.35,520.4L54.83,568.7"/>
<path class="lb d1" d="M67,520.4L61.94,549.1"/>
<path class="lb d0" d="M70.65,520.4L69.06,529.4"/>
<path class="lb d2" d="M74.3,520.4L69.93,545.2"/>
<path class="lb d1" d="M77.95,520.4L76.7,527.5"/>
<path class="lb d5" d="M81.6,520.4L78.99,535.2"/>
<path class="lb d0" d="M85.25,520.4L76.73,568.7"/>
<path class="lb d1" d="M88.9,520.4L85.29,540.9"/>
<path class="lb d3" d="M92.55,520.4L85.88,558.2"/>
<path class="lb d6" d="M96.2,520.4L93.85,533.7"/>
<path class="lb d2" d="M99.85,520.4L98.26,529.4"/>
<path class="lb d4" d="M103.5,520.4L98.44,549.1"/>
<path class="lb d5" d="M107.15,520.4L102.94,544.3"/>
<path class="lb d5" d="M110.8,520.4L104.73,554.8"/>
<path class="lb d7" d="M114.45,520.4L111.17,539"/>
<path class="lb d1" d="M118.1,520.4L114.06,543.3"/>
<path class="lb d1" d="M121.75,520.4L119.83,531.3"/>
<path class="lb d7" d="M125.4,520.4L122.12,539"/>
<path class="lb d7" d="M129.05,520.4L126.44,535.2"/>
<path class="lb d7" d="M132.7,520.4L128.91,541.9"/>
<path class="lb d7" d="M136.35,520.4L132.98,539.5"/>
<path class="lb d4" d="M140,520.4L137.23,536.1"/>
<path class="lb d1" d="M143.65,520.4L137.83,553.4"/>
<path class="lb d2" d="M147.3,520.4L141.57,552.9"/>
<path class="lb d1" d="M150.95,520.4L148.52,534.2"/>
<path class="lb d5" d="M154.6,520.4L150,546.5"/>
<path class="lb d4" d="M158.25,520.4L154.21,543.3"/>
<path class="lb d7" d="M161.9,520.4L159.47,534.2"/>
<path class="lb d2" d="M165.55,520.4L162.36,538.5"/>
<path class="lb d0" d="M169.2,520.4L167.44,530.4"/>
<path class="lb d3" d="M172.85,520.4L168.72,543.8"/>
<path class="lb d5" d="M176.5,520.4L174.91,529.4"/>
<path class="lb d2" d="M180.15,520.4L179.57,523.7"/>
<path class="lb d0" d="M183.8,520.4L179.43,545.2"/>
<path class="lb d4" d="M187.45,520.4L180.87,557.7"/>
<path class="lb d1" d="M191.1,520.4L189.34,530.4"/>
<path class="lb d4" d="M194.75,520.4L193.5,527.5"/>
<path class="lb d5" d="M198.4,520.4L196.39,531.8"/>
<path class="lb d2" d="M202.05,520.4L200.29,530.4"/>
<path class="lb d5" d="M205.7,520.4L202.51,538.5"/>
<path class="lb d3" d="M209.35,520.4L205.14,544.3"/>
<path class="lb d5" d="M213,520.4L211.92,526.5"/>
<path class="lb d3" d="M216.65,520.4L214.04,535.2"/>
<path class="lb d3" d="M220.3,520.4L214.9,551"/>
<path class="lb d3" d="M223.95,520.4L218.64,550.5"/>
<path class="lb d6" d="M227.6,520.4L222.77,547.8"/>
<path class="lb d3" d="M231.25,520.4L222.08,572.4"/>
<path class="lb d3" d="M234.9,520.4L228.9,554.4"/>
<path class="lb d7" d="M238.55,520.4L232.47,554.9"/>
<path class="lb d5" d="M242.2,520.4L240.08,532.4"/>
<path class="lb d0" d="M245.85,520.4L239.85,554.4"/>
<path class="lb d0" d="M249.5,520.4L244.09,551.1"/>
<path class="lb d4" d="M253.15,520.4L249.87,539"/>
<path class="lb d7" d="M256.8,520.4L255.25,529.2"/>
<path class="lb d4" d="M260.45,520.4L255.34,549.4"/>
<path class="lb d3" d="M264.1,520.4L258.69,551.1"/>
<path class="lb d5" d="M267.75,520.4L263.8,542.8"/>
<path class="lb d7" d="M271.4,520.4L266.48,548.3"/>
<path class="lb d5" d="M275.05,520.4L269.83,550"/>
<path class="lb d5" d="M278.7,520.4L273.39,550.5"/>
<path class="lb d1" d="M282.35,520.4L278.4,542.8"/>
<path class="lb d3" d="M286,520.4L282.14,542.3"/>
<path class="lb d1" d="M289.65,520.4L284.54,549.4"/>
<path d="M37.44,564.9L34.2,583.3L125.5,583.3L132.7,542.4" fill="none" stroke="#6b8f7b" stroke-width="0.5"/>
<path d="M136.85,540.4L129.3,583.3L205.6,583.3L213.73,537.1" fill="none" stroke="#7aa0c8" stroke-width="0.5"/>
<path d="M213.47,559.6L209.3,583.3L278.2,583.3L283.39,553.8" fill="none" stroke="#d8a878" stroke-width="0.5"/>
<text x="80.2" y="586.8" font-size="3.2" font-weight="bold" text-anchor="middle" fill="#111">biological process</text>
<text x="167.5" y="586.8" font-size="3.2" font-weight="bold" text-anchor="middle" fill="#111">cellular component</text>
<text x="244" y="586.8" font-size="3.2" font-weight="bold" text-anchor="middle" fill="#111">molecular function</text>
<text x="167" y="673.6" font-size="3.55" font-weight="bold" text-anchor="middle" fill="#111">Gene Function Classification (GO)</text>
<g stroke="#555" stroke-width="0.45" fill="none"><path d="M33.5,678.4V736.4"/>
<path d="M32.2,678.4H33.5"/>
<path d="M32.2,692.9H33.5"/>
<path d="M32.2,707.4H33.5"/>
<path d="M32.2,721.9H33.5"/>
<path d="M32.2,736.4H33.5"/>
</g>
<text x="31.9" y="679.3" font-size="2.6" text-anchor="end" fill="#222">100</text>
<text x="31.9" y="693.8" font-size="2.6" text-anchor="end" fill="#222">10</text>
<text x="31.9" y="708.3" font-size="2.6" text-anchor="end" fill="#222">1</text>
<text x="31.9" y="722.8" font-size="2.6" text-anchor="end" fill="#222">0.1</text>
<text x="31.9" y="737.3" font-size="2.6" text-anchor="end" fill="#222">0.01</text>
<text transform="translate(25.3,707.4) rotate(-90)" font-size="3.0" font-weight="bold" text-anchor="middle" fill="#222">Percent of genes</text>
<g stroke="#555" stroke-width="0.45" fill="none"><path d="M299.5,678.4V736.4"/>
<path d="M299.5,678.4H300.8"/>
<path d="M299.5,692.9H300.8"/>
<path d="M299.5,707.4H300.8"/>
<path d="M299.5,721.9H300.8"/>
<path d="M299.5,736.4H300.8"/>
</g>
<text x="301.4" y="678.9" font-size="2.5" font-weight="bold" fill="#222">9876</text>
<text x="301.4" y="681" font-size="2.1" fill="#444">1110</text>
<text x="301.4" y="693.4" font-size="2.5" font-weight="bold" fill="#222">987</text>
<text x="301.4" y="695.5" font-size="2.1" fill="#444">111</text>
<text x="301.4" y="707.9" font-size="2.5" font-weight="bold" fill="#222">98</text>
<text x="301.4" y="710" font-size="2.1" fill="#444">11</text>
<text x="301.4" y="722.4" font-size="2.5" font-weight="bold" fill="#222">9</text>
<text x="301.4" y="724.5" font-size="2.1" fill="#444">1</text>
<text x="301.4" y="736.9" font-size="2.5" font-weight="bold" fill="#222">1</text>
<text transform="translate(311.4,707.4) rotate(90)" font-size="3.2" font-weight="bold" text-anchor="middle" fill="#222">Number of genes</text>
<rect x="42.85" y="687.7" width="1.35" height="48.7" fill="#b8eccd"/>
<rect x="42.85" y="687.7" width="1.35" height="0.55" fill="#5a6e62"/>
<rect x="44.2" y="688.5" width="2.25" height="47.9" fill="#358459"/>
<rect x="45.65" y="688.5" width="0.8" height="47.9" fill="#2a7049"/>
<rect x="44.2" y="688.5" width="2.25" height="0.5" fill="#5a6e62"/>
<rect x="46.49" y="688.1" width="1.35" height="48.3" fill="#b8eccd"/>
<rect x="46.49" y="688.1" width="1.35" height="0.55" fill="#5a6e62"/>
<rect x="47.84" y="688.9" width="2.25" height="47.5" fill="#358459"/>
<rect x="49.29" y="688.9" width="0.8" height="47.5" fill="#2a7049"/>
<rect x="47.84" y="688.9" width="2.25" height="0.5" fill="#5a6e62"/>
<rect x="50.13" y="689.6" width="1.35" height="46.8" fill="#b8eccd"/>
<rect x="50.13" y="689.6" width="1.35" height="0.55" fill="#5a6e62"/>
<rect x="51.48" y="690.4" width="2.25" height="46" fill="#358459"/>
<rect x="52.93" y="690.4" width="0.8" height="46" fill="#2a7049"/>
<rect x="51.48" y="690.4" width="2.25" height="0.5" fill="#5a6e62"/>
<rect x="53.77" y="686.9" width="1.35" height="49.5" fill="#b8eccd"/>
<rect x="53.77" y="686.9" width="1.35" height="0.55" fill="#5a6e62"/>
<rect x="55.12" y="687.7" width="2.25" height="48.7" fill="#358459"/>
<rect x="56.57" y="687.7" width="0.8" height="48.7" fill="#2a7049"/>
<rect x="55.12" y="687.7" width="2.25" height="0.5" fill="#5a6e62"/>
<rect x="57.41" y="686.5" width="1.35" height="49.9" fill="#b8eccd"/>
<rect x="57.41" y="686.5" width="1.35" height="0.55" fill="#5a6e62"/>
<rect x="58.76" y="687.3" width="2.25" height="49.1" fill="#358459"/>
<rect x="60.21" y="687.3" width="0.8" height="49.1" fill="#2a7049"/>
<rect x="58.76" y="687.3" width="2.25" height="0.5" fill="#5a6e62"/>
<rect x="61.05" y="689.6" width="1.35" height="46.8" fill="#b8eccd"/>
<rect x="61.05" y="689.6" width="1.35" height="0.55" fill="#5a6e62"/>
<rect x="62.4" y="690.4" width="2.25" height="46" fill="#358459"/>
<rect x="63.85" y="690.4" width="0.8" height="46" fill="#2a7049"/>
<rect x="62.4" y="690.4" width="2.25" height="0.5" fill="#5a6e62"/>
<rect x="64.68" y="699.4" width="1.35" height="37" fill="#b8eccd"/>
<rect x="64.68" y="699.4" width="1.35" height="0.55" fill="#5a6e62"/>
<rect x="66.03" y="700.2" width="2.25" height="36.2" fill="#358459"/>
<rect x="67.48" y="700.2" width="0.8" height="36.2" fill="#2a7049"/>
<rect x="66.03" y="700.2" width="2.25" height="0.5" fill="#5a6e62"/>
<rect x="68.32" y="696.3" width="1.35" height="40.1" fill="#b8eccd"/>
<rect x="68.32" y="696.3" width="1.35" height="0.55" fill="#5a6e62"/>
<rect x="69.67" y="697.1" width="2.25" height="39.3" fill="#358459"/>
<rect x="71.12" y="697.1" width="0.8" height="39.3" fill="#2a7049"/>
<rect x="69.67" y="697.1" width="2.25" height="0.5" fill="#5a6e62"/>
<rect x="71.96" y="699.4" width="1.35" height="37" fill="#b8eccd"/>
<rect x="71.96" y="699.4" width="1.35" height="0.55" fill="#5a6e62"/>
<rect x="73.31" y="700.2" width="2.25" height="36.2" fill="#358459"/>
<rect x="74.76" y="700.2" width="0.8" height="36.2" fill="#2a7049"/>
<rect x="73.31" y="700.2" width="2.25" height="0.5" fill="#5a6e62"/>
<rect x="75.6" y="694.3" width="1.35" height="42.1" fill="#b8eccd"/>
<rect x="75.6" y="694.3" width="1.35" height="0.55" fill="#5a6e62"/>
<rect x="76.95" y="695.1" width="2.25" height="41.3" fill="#358459"/>
<rect x="78.4" y="695.1" width="0.8" height="41.3" fill="#2a7049"/>
<rect x="76.95" y="695.1" width="2.25" height="0.5" fill="#5a6e62"/>
<rect x="79.24" y="689.6" width="1.35" height="46.8" fill="#b8eccd"/>
<rect x="79.24" y="689.6" width="1.35" height="0.55" fill="#5a6e62"/>
<rect x="80.59" y="690.4" width="2.25" height="46" fill="#358459"/>
<rect x="82.04" y="690.4" width="0.8" height="46" fill="#2a7049"/>
<rect x="80.59" y="690.4" width="2.25" height="0.5" fill="#5a6e62"/>
<rect x="82.88" y="683.4" width="1.35" height="53" fill="#b8eccd"/>
<rect x="82.88" y="683.4" width="1.35" height="0.55" fill="#5a6e62"/>
<rect x="84.23" y="684.2" width="2.25" height="52.2" fill="#358459"/>
<rect x="85.68" y="684.2" width="0.8" height="52.2" fill="#2a7049"/>
<rect x="84.23" y="684.2" width="2.25" height="0.5" fill="#5a6e62"/>
<rect x="86.52" y="687.3" width="1.35" height="49.1" fill="#b8eccd"/>
<rect x="86.52" y="687.3" width="1.35" height="0.55" fill="#5a6e62"/>
<rect x="87.87" y="688.1" width="2.25" height="48.3" fill="#358459"/>
<rect x="89.32" y="688.1" width="0.8" height="48.3" fill="#2a7049"/>
<rect x="87.87" y="688.1" width="2.25" height="0.5" fill="#5a6e62"/>
<rect x="90.16" y="702.1" width="1.35" height="34.3" fill="#b8eccd"/>
<rect x="90.16" y="702.1" width="1.35" height="0.55" fill="#5a6e62"/>
<rect x="91.51" y="702.9" width="2.25" height="33.5" fill="#358459"/>
<rect x="92.96" y="702.9" width="0.8" height="33.5" fill="#2a7049"/>
<rect x="91.51" y="702.9" width="2.25" height="0.5" fill="#5a6e62"/>
<rect x="93.8" y="682.6" width="1.35" height="53.8" fill="#b8eccd"/>
<rect x="93.8" y="682.6" width="1.35" height="0.55" fill="#5a6e62"/>
<rect x="95.15" y="683.4" width="2.25" height="53" fill="#358459"/>
<rect x="96.6" y="683.4" width="0.8" height="53" fill="#2a7049"/>
<rect x="95.15" y="683.4" width="2.25" height="0.5" fill="#5a6e62"/>
<rect x="97.44" y="695.1" width="1.35" height="41.3" fill="#b8eccd"/>
<rect x="97.44" y="695.1" width="1.35" height="0.55" fill="#5a6e62"/>
<rect x="98.78" y="695.9" width="2.25" height="40.5" fill="#358459"/>
<rect x="100.23" y="695.9" width="0.8" height="40.5" fill="#2a7049"/>
<rect x="98.78" y="695.9" width="2.25" height="0.5" fill="#5a6e62"/>
<rect x="101.07" y="688.5" width="1.35" height="47.9" fill="#b8eccd"/>
<rect x="101.07" y="688.5" width="1.35" height="0.55" fill="#5a6e62"/>
<rect x="102.42" y="689.3" width="2.25" height="47.1" fill="#358459"/>
<rect x="103.87" y="689.3" width="0.8" height="47.1" fill="#2a7049"/>
<rect x="102.42" y="689.3" width="2.25" height="0.5" fill="#5a6e62"/>
<rect x="104.71" y="696.7" width="1.35" height="39.7" fill="#b8eccd"/>
<rect x="104.71" y="696.7" width="1.35" height="0.55" fill="#5a6e62"/>
<rect x="106.06" y="697.5" width="2.25" height="38.9" fill="#358459"/>
<rect x="107.51" y="697.5" width="0.8" height="38.9" fill="#2a7049"/>
<rect x="106.06" y="697.5" width="2.25" height="0.5" fill="#5a6e62"/>
<rect x="108.35" y="694.7" width="1.35" height="41.7" fill="#b8eccd"/>
<rect x="108.35" y="694.7" width="1.35" height="0.55" fill="#5a6e62"/>
<rect x="109.7" y="695.5" width="2.25" height="40.9" fill="#358459"/>
<rect x="111.15" y="695.5" width="0.8" height="40.9" fill="#2a7049"/>
<rect x="109.7" y="695.5" width="2.25" height="0.5" fill="#5a6e62"/>
<rect x="111.99" y="708.7" width="1.35" height="27.7" fill="#b8eccd"/>
<rect x="111.99" y="708.7" width="1.35" height="0.55" fill="#5a6e62"/>
<rect x="113.34" y="709.5" width="2.25" height="26.9" fill="#358459"/>
<rect x="114.79" y="709.5" width="0.8" height="26.9" fill="#2a7049"/>
<rect x="113.34" y="709.5" width="2.25" height="0.5" fill="#5a6e62"/>
<rect x="115.63" y="679.5" width="1.35" height="56.9" fill="#b8eccd"/>
<rect x="115.63" y="679.5" width="1.35" height="0.55" fill="#5a6e62"/>
<rect x="116.98" y="680.3" width="2.25" height="56.1" fill="#358459"/>
<rect x="118.43" y="680.3" width="0.8" height="56.1" fill="#2a7049"/>
<rect x="116.98" y="680.3" width="2.25" height="0.5" fill="#5a6e62"/>
<rect x="119.27" y="719.7" width="1.35" height="16.7" fill="#b8eccd"/>
<rect x="119.27" y="719.7" width="1.35" height="0.55" fill="#5a6e62"/>
<rect x="120.62" y="720.5" width="2.25" height="15.9" fill="#358459"/>
<rect x="122.07" y="720.5" width="0.8" height="15.9" fill="#2a7049"/>
<rect x="120.62" y="720.5" width="2.25" height="0.5" fill="#5a6e62"/>
<rect x="122.91" y="714.2" width="1.35" height="22.2" fill="#b8eccd"/>
<rect x="122.91" y="714.2" width="1.35" height="0.55" fill="#5a6e62"/>
<rect x="124.26" y="715" width="2.25" height="21.4" fill="#358459"/>
<rect x="125.71" y="715" width="0.8" height="21.4" fill="#2a7049"/>
<rect x="124.26" y="715" width="2.25" height="0.5" fill="#5a6e62"/>
<rect x="126.55" y="680.7" width="1.35" height="55.7" fill="#b8eccd"/>
<rect x="126.55" y="680.7" width="1.35" height="0.55" fill="#5a6e62"/>
<rect x="127.9" y="681.5" width="2.25" height="54.9" fill="#358459"/>
<rect x="129.35" y="681.5" width="0.8" height="54.9" fill="#2a7049"/>
<rect x="127.9" y="681.5" width="2.25" height="0.5" fill="#5a6e62"/>
<rect x="133.83" y="727.1" width="1.35" height="9.3" fill="#b8eccd"/>
<rect x="133.83" y="727.1" width="1.35" height="0.55" fill="#5a6e62"/>
<rect x="135.18" y="727.9" width="2.25" height="8.5" fill="#358459"/>
<rect x="136.62" y="727.9" width="0.8" height="8.5" fill="#2a7049"/>
<rect x="135.18" y="727.9" width="2.25" height="0.5" fill="#5a6e62"/>
<rect x="137.46" y="684.2" width="1.35" height="52.2" fill="#c8e1f6"/>
<rect x="137.46" y="684.2" width="1.35" height="0.55" fill="#6f7f90"/>
<rect x="138.81" y="685" width="2.25" height="51.4" fill="#639dd6"/>
<rect x="140.26" y="685" width="0.8" height="51.4" fill="#4f87c0"/>
<rect x="138.81" y="685" width="2.25" height="0.5" fill="#6f7f90"/>
<rect x="141.1" y="684.2" width="1.35" height="52.2" fill="#c8e1f6"/>
<rect x="141.1" y="684.2" width="1.35" height="0.55" fill="#6f7f90"/>
<rect x="142.45" y="685" width="2.25" height="51.4" fill="#639dd6"/>
<rect x="143.9" y="685" width="0.8" height="51.4" fill="#4f87c0"/>
<rect x="142.45" y="685" width="2.25" height="0.5" fill="#6f7f90"/>
<rect x="144.74" y="699.4" width="1.35" height="37" fill="#c8e1f6"/>
<rect x="144.74" y="699.4" width="1.35" height="0.55" fill="#6f7f90"/>
<rect x="146.09" y="700.2" width="2.25" height="36.2" fill="#639dd6"/>
<rect x="147.54" y="700.2" width="0.8" height="36.2" fill="#4f87c0"/>
<rect x="146.09" y="700.2" width="2.25" height="0.5" fill="#6f7f90"/>
<rect x="148.38" y="690" width="1.35" height="46.4" fill="#c8e1f6"/>
<rect x="148.38" y="690" width="1.35" height="0.55" fill="#6f7f90"/>
<rect x="149.73" y="690.8" width="2.25" height="45.6" fill="#639dd6"/>
<rect x="151.18" y="690.8" width="0.8" height="45.6" fill="#4f87c0"/>
<rect x="149.73" y="690.8" width="2.25" height="0.5" fill="#6f7f90"/>
<rect x="152.02" y="700.6" width="1.35" height="35.8" fill="#c8e1f6"/>
<rect x="152.02" y="700.6" width="1.35" height="0.55" fill="#6f7f90"/>
<rect x="153.37" y="701.4" width="2.25" height="35" fill="#639dd6"/>
<rect x="154.82" y="701.4" width="0.8" height="35" fill="#4f87c0"/>
<rect x="153.37" y="701.4" width="2.25" height="0.5" fill="#6f7f90"/>
<rect x="155.66" y="686.1" width="1.35" height="50.3" fill="#c8e1f6"/>
<rect x="155.66" y="686.1" width="1.35" height="0.55" fill="#6f7f90"/>
<rect x="157.01" y="686.9" width="2.25" height="49.5" fill="#639dd6"/>
<rect x="158.46" y="686.9" width="0.8" height="49.5" fill="#4f87c0"/>
<rect x="157.01" y="686.9" width="2.25" height="0.5" fill="#6f7f90"/>
<rect x="159.3" y="699" width="1.35" height="37.4" fill="#c8e1f6"/>
<rect x="159.3" y="699" width="1.35" height="0.55" fill="#6f7f90"/>
<rect x="160.65" y="699.8" width="2.25" height="36.6" fill="#639dd6"/>
<rect x="162.1" y="699.8" width="0.8" height="36.6" fill="#4f87c0"/>
<rect x="160.65" y="699.8" width="2.25" height="0.5" fill="#6f7f90"/>
<rect x="162.94" y="686.9" width="1.35" height="49.5" fill="#c8e1f6"/>
<rect x="162.94" y="686.9" width="1.35" height="0.55" fill="#6f7f90"/>
<rect x="164.29" y="687.7" width="2.25" height="48.7" fill="#639dd6"/>
<rect x="165.74" y="687.7" width="0.8" height="48.7" fill="#4f87c0"/>
<rect x="164.29" y="687.7" width="2.25" height="0.5" fill="#6f7f90"/>
<rect x="166.58" y="699" width="1.35" height="37.4" fill="#c8e1f6"/>
<rect x="166.58" y="699" width="1.35" height="0.55" fill="#6f7f90"/>
<rect x="167.93" y="699.8" width="2.25" height="36.6" fill="#639dd6"/>
<rect x="169.38" y="699.8" width="0.8" height="36.6" fill="#4f87c0"/>
<rect x="167.93" y="699.8" width="2.25" height="0.5" fill="#6f7f90"/>
<rect x="170.22" y="692.8" width="1.35" height="43.6" fill="#c8e1f6"/>
<rect x="170.22" y="692.8" width="1.35" height="0.55" fill="#6f7f90"/>
<rect x="171.56" y="693.6" width="2.25" height="42.8" fill="#639dd6"/>
<rect x="173.01" y="693.6" width="0.8" height="42.8" fill="#4f87c0"/>
<rect x="171.56" y="693.6" width="2.25" height="0.5" fill="#6f7f90"/>
<rect x="173.85" y="695.1" width="1.35" height="41.3" fill="#c8e1f6"/>
<rect x="173.85" y="695.1" width="1.35" height="0.55" fill="#6f7f90"/>
<rect x="175.2" y="695.9" width="2.25" height="40.5" fill="#639dd6"/>
<rect x="176.65" y="695.9" width="0.8" height="40.5" fill="#4f87c0"/>
<rect x="175.2" y="695.9" width="2.25" height="0.5" fill="#6f7f90"/>
<rect x="177.49" y="709.3" width="1.35" height="27.1" fill="#c8e1f6"/>
<rect x="177.49" y="709.3" width="1.35" height="0.55" fill="#6f7f90"/>
<rect x="178.84" y="710.1" width="2.25" height="26.3" fill="#639dd6"/>
<rect x="180.29" y="710.1" width="0.8" height="26.3" fill="#4f87c0"/>
<rect x="178.84" y="710.1" width="2.25" height="0.5" fill="#6f7f90"/>
<rect x="181.13" y="715.2" width="1.35" height="21.2" fill="#c8e1f6"/>
<rect x="181.13" y="715.2" width="1.35" height="0.55" fill="#6f7f90"/>
<rect x="182.48" y="716" width="2.25" height="20.4" fill="#639dd6"/>
<rect x="183.93" y="716" width="0.8" height="20.4" fill="#4f87c0"/>
<rect x="182.48" y="716" width="2.25" height="0.5" fill="#6f7f90"/>
<rect x="184.77" y="716.2" width="1.35" height="20.2" fill="#c8e1f6"/>
<rect x="184.77" y="716.2" width="1.35" height="0.55" fill="#6f7f90"/>
<rect x="186.12" y="717" width="2.25" height="19.4" fill="#639dd6"/>
<rect x="187.57" y="717" width="0.8" height="19.4" fill="#4f87c0"/>
<rect x="186.12" y="717" width="2.25" height="0.5" fill="#6f7f90"/>
<rect x="188.41" y="716.9" width="1.35" height="19.5" fill="#c8e1f6"/>
<rect x="188.41" y="716.9" width="1.35" height="0.55" fill="#6f7f90"/>
<rect x="189.76" y="717.7" width="2.25" height="18.7" fill="#639dd6"/>
<rect x="191.21" y="717.7" width="0.8" height="18.7" fill="#4f87c0"/>
<rect x="189.76" y="717.7" width="2.25" height="0.5" fill="#6f7f90"/>
<rect x="192.05" y="716.5" width="1.35" height="19.9" fill="#c8e1f6"/>
<rect x="192.05" y="716.5" width="1.35" height="0.55" fill="#6f7f90"/>
<rect x="193.4" y="717.3" width="2.25" height="19.1" fill="#639dd6"/>
<rect x="194.85" y="717.3" width="0.8" height="19.1" fill="#4f87c0"/>
<rect x="193.4" y="717.3" width="2.25" height="0.5" fill="#6f7f90"/>
<rect x="195.69" y="721.6" width="1.35" height="14.8" fill="#c8e1f6"/>
<rect x="195.69" y="721.6" width="1.35" height="0.55" fill="#6f7f90"/>
<rect x="197.04" y="722.4" width="2.25" height="14" fill="#639dd6"/>
<rect x="198.49" y="722.4" width="0.8" height="14" fill="#4f87c0"/>
<rect x="197.04" y="722.4" width="2.25" height="0.5" fill="#6f7f90"/>
<rect x="199.33" y="714.2" width="1.35" height="22.2" fill="#c8e1f6"/>
<rect x="199.33" y="714.2" width="1.35" height="0.55" fill="#6f7f90"/>
<rect x="200.68" y="715" width="2.25" height="21.4" fill="#639dd6"/>
<rect x="202.13" y="715" width="0.8" height="21.4" fill="#4f87c0"/>
<rect x="200.68" y="715" width="2.25" height="0.5" fill="#6f7f90"/>
<rect x="202.97" y="712.2" width="1.35" height="24.2" fill="#c8e1f6"/>
<rect x="202.97" y="712.2" width="1.35" height="0.55" fill="#6f7f90"/>
<rect x="204.32" y="713" width="2.25" height="23.4" fill="#639dd6"/>
<rect x="205.77" y="713" width="0.8" height="23.4" fill="#4f87c0"/>
<rect x="204.32" y="713" width="2.25" height="0.5" fill="#6f7f90"/>
<rect x="206.6" y="680.3" width="1.35" height="56.1" fill="#c8e1f6"/>
<rect x="206.6" y="680.3" width="1.35" height="0.55" fill="#6f7f90"/>
<rect x="207.95" y="681.1" width="2.25" height="55.3" fill="#639dd6"/>
<rect x="209.4" y="681.1" width="0.8" height="55.3" fill="#4f87c0"/>
<rect x="207.95" y="681.1" width="2.25" height="0.5" fill="#6f7f90"/>
<rect x="210.24" y="679.5" width="1.35" height="56.9" fill="#c8e1f6"/>
<rect x="210.24" y="679.5" width="1.35" height="0.55" fill="#6f7f90"/>
<rect x="211.59" y="680.3" width="2.25" height="56.1" fill="#639dd6"/>
<rect x="213.04" y="680.3" width="0.8" height="56.1" fill="#4f87c0"/>
<rect x="211.59" y="680.3" width="2.25" height="0.5" fill="#6f7f90"/>
<rect x="213.88" y="679.5" width="1.35" height="56.9" fill="#c8e1f6"/>
<rect x="213.88" y="679.5" width="1.35" height="0.55" fill="#6f7f90"/>
<rect x="215.23" y="680.3" width="2.25" height="56.1" fill="#639dd6"/>
<rect x="216.68" y="680.3" width="0.8" height="56.1" fill="#4f87c0"/>
<rect x="215.23" y="680.3" width="2.25" height="0.5" fill="#6f7f90"/>
<rect x="217.52" y="695.5" width="1.35" height="40.9" fill="#fcdcbc"/>
<rect x="217.52" y="695.5" width="1.35" height="0.55" fill="#8e7a66"/>
<rect x="218.87" y="696.3" width="2.25" height="40.1" fill="#e6a46c"/>
<rect x="220.32" y="696.3" width="0.8" height="40.1" fill="#d08c52"/>
<rect x="218.87" y="696.3" width="2.25" height="0.5" fill="#8e7a66"/>
<rect x="221.16" y="698.6" width="1.35" height="37.8" fill="#fcdcbc"/>
<rect x="221.16" y="698.6" width="1.35" height="0.55" fill="#8e7a66"/>
<rect x="222.51" y="699.4" width="2.25" height="37" fill="#e6a46c"/>
<rect x="223.96" y="699.4" width="0.8" height="37" fill="#d08c52"/>
<rect x="222.51" y="699.4" width="2.25" height="0.5" fill="#8e7a66"/>
<rect x="224.8" y="702.5" width="1.35" height="33.9" fill="#fcdcbc"/>
<rect x="224.8" y="702.5" width="1.35" height="0.55" fill="#8e7a66"/>
<rect x="226.15" y="703.3" width="2.25" height="33.1" fill="#e6a46c"/>
<rect x="227.6" y="703.3" width="0.8" height="33.1" fill="#d08c52"/>
<rect x="226.15" y="703.3" width="2.25" height="0.5" fill="#8e7a66"/>
<rect x="228.44" y="698" width="1.35" height="38.4" fill="#fcdcbc"/>
<rect x="228.44" y="698" width="1.35" height="0.55" fill="#8e7a66"/>
<rect x="229.79" y="698.8" width="2.25" height="37.6" fill="#e6a46c"/>
<rect x="231.24" y="698.8" width="0.8" height="37.6" fill="#d08c52"/>
<rect x="229.79" y="698.8" width="2.25" height="0.5" fill="#8e7a66"/>
<rect x="232.08" y="718.1" width="1.35" height="18.3" fill="#fcdcbc"/>
<rect x="232.08" y="718.1" width="1.35" height="0.55" fill="#8e7a66"/>
<rect x="233.43" y="718.9" width="2.25" height="17.5" fill="#e6a46c"/>
<rect x="234.88" y="718.9" width="0.8" height="17.5" fill="#d08c52"/>
<rect x="233.43" y="718.9" width="2.25" height="0.5" fill="#8e7a66"/>
<rect x="235.72" y="700.6" width="1.35" height="35.8" fill="#fcdcbc"/>
<rect x="235.72" y="700.6" width="1.35" height="0.55" fill="#8e7a66"/>
<rect x="237.07" y="701.4" width="2.25" height="35" fill="#e6a46c"/>
<rect x="238.52" y="701.4" width="0.8" height="35" fill="#d08c52"/>
<rect x="237.07" y="701.4" width="2.25" height="0.5" fill="#8e7a66"/>
<rect x="239.36" y="702.9" width="1.35" height="33.5" fill="#fcdcbc"/>
<rect x="239.36" y="702.9" width="1.35" height="0.55" fill="#8e7a66"/>
<rect x="240.71" y="703.7" width="2.25" height="32.7" fill="#e6a46c"/>
<rect x="242.16" y="703.7" width="0.8" height="32.7" fill="#d08c52"/>
<rect x="240.71" y="703.7" width="2.25" height="0.5" fill="#8e7a66"/>
<rect x="242.99" y="732.9" width="1.35" height="3.5" fill="#fcdcbc"/>
<rect x="242.99" y="732.9" width="1.35" height="0.55" fill="#8e7a66"/>
<rect x="244.34" y="733.7" width="2.25" height="2.7" fill="#e6a46c"/>
<rect x="245.79" y="733.7" width="0.8" height="2.7" fill="#d08c52"/>
<rect x="244.34" y="733.7" width="2.25" height="0.5" fill="#8e7a66"/>
<rect x="246.63" y="680.3" width="1.35" height="56.1" fill="#fcdcbc"/>
<rect x="246.63" y="680.3" width="1.35" height="0.55" fill="#8e7a66"/>
<rect x="247.98" y="681.1" width="2.25" height="55.3" fill="#e6a46c"/>
<rect x="249.43" y="681.1" width="0.8" height="55.3" fill="#d08c52"/>
<rect x="247.98" y="681.1" width="2.25" height="0.5" fill="#8e7a66"/>
<rect x="250.27" y="716.2" width="1.35" height="20.2" fill="#fcdcbc"/>
<rect x="250.27" y="716.2" width="1.35" height="0.55" fill="#8e7a66"/>
<rect x="251.62" y="717" width="2.25" height="19.4" fill="#e6a46c"/>
<rect x="253.07" y="717" width="0.8" height="19.4" fill="#d08c52"/>
<rect x="251.62" y="717" width="2.25" height="0.5" fill="#8e7a66"/>
<rect x="253.91" y="725.5" width="1.35" height="10.9" fill="#fcdcbc"/>
<rect x="253.91" y="725.5" width="1.35" height="0.55" fill="#8e7a66"/>
<rect x="255.26" y="726.3" width="2.25" height="10.1" fill="#e6a46c"/>
<rect x="256.71" y="726.3" width="0.8" height="10.1" fill="#d08c52"/>
<rect x="255.26" y="726.3" width="2.25" height="0.5" fill="#8e7a66"/>
<rect x="257.55" y="720.8" width="1.35" height="15.6" fill="#fcdcbc"/>
<rect x="257.55" y="720.8" width="1.35" height="0.55" fill="#8e7a66"/>
<rect x="258.9" y="721.6" width="2.25" height="14.8" fill="#e6a46c"/>
<rect x="260.35" y="721.6" width="0.8" height="14.8" fill="#d08c52"/>
<rect x="258.9" y="721.6" width="2.25" height="0.5" fill="#8e7a66"/>
<rect x="261.19" y="728.8" width="1.35" height="7.6" fill="#fcdcbc"/>
<rect x="261.19" y="728.8" width="1.35" height="0.55" fill="#8e7a66"/>
<rect x="262.54" y="729.6" width="2.25" height="6.8" fill="#e6a46c"/>
<rect x="263.99" y="729.6" width="0.8" height="6.8" fill="#d08c52"/>
<rect x="262.54" y="729.6" width="2.25" height="0.5" fill="#8e7a66"/>
<rect x="264.83" y="728.6" width="1.35" height="7.8" fill="#fcdcbc"/>
<rect x="264.83" y="728.6" width="1.35" height="0.55" fill="#8e7a66"/>
<rect x="266.18" y="729.4" width="2.25" height="7" fill="#e6a46c"/>
<rect x="267.63" y="729.4" width="0.8" height="7" fill="#d08c52"/>
<rect x="266.18" y="729.4" width="2.25" height="0.5" fill="#8e7a66"/>
<rect x="268.47" y="722.7" width="1.35" height="13.7" fill="#fcdcbc"/>
<rect x="268.47" y="722.7" width="1.35" height="0.55" fill="#8e7a66"/>
<rect x="269.82" y="723.5" width="2.25" height="12.9" fill="#e6a46c"/>
<rect x="271.27" y="723.5" width="0.8" height="12.9" fill="#d08c52"/>
<rect x="269.82" y="723.5" width="2.25" height="0.5" fill="#8e7a66"/>
<rect x="272.11" y="707.7" width="1.35" height="28.7" fill="#fcdcbc"/>
<rect x="272.11" y="707.7" width="1.35" height="0.55" fill="#8e7a66"/>
<rect x="273.46" y="708.5" width="2.25" height="27.9" fill="#e6a46c"/>
<rect x="274.91" y="708.5" width="0.8" height="27.9" fill="#d08c52"/>
<rect x="273.46" y="708.5" width="2.25" height="0.5" fill="#8e7a66"/>
<rect x="275.75" y="683.1" width="1.35" height="53.3" fill="#fcdcbc"/>
<rect x="275.75" y="683.1" width="1.35" height="0.55" fill="#8e7a66"/>
<rect x="277.1" y="683.9" width="2.25" height="52.5" fill="#e6a46c"/>
<rect x="278.55" y="683.9" width="0.8" height="52.5" fill="#d08c52"/>
<rect x="277.1" y="683.9" width="2.25" height="0.5" fill="#8e7a66"/>
<rect x="279.38" y="695.2" width="1.35" height="41.2" fill="#fcdcbc"/>
<rect x="279.38" y="695.2" width="1.35" height="0.55" fill="#8e7a66"/>
<rect x="280.74" y="696" width="2.25" height="40.4" fill="#e6a46c"/>
<rect x="282.19" y="696" width="0.8" height="40.4" fill="#d08c52"/>
<rect x="280.74" y="696" width="2.25" height="0.5" fill="#8e7a66"/>
<rect x="283.02" y="710.1" width="1.35" height="26.3" fill="#fcdcbc"/>
<rect x="283.02" y="710.1" width="1.35" height="0.55" fill="#8e7a66"/>
<rect x="284.37" y="710.9" width="2.25" height="25.5" fill="#e6a46c"/>
<rect x="285.82" y="710.9" width="0.8" height="25.5" fill="#d08c52"/>
<rect x="284.37" y="710.9" width="2.25" height="0.5" fill="#8e7a66"/>
<path d="M43,736.4H290.5" stroke="#777" stroke-width="0.3"/>
<path class="lb d3" d="M45.1,739.4L38.19,778.6"/>
<path class="lb d7" d="M48.75,739.4L43.87,767.1"/>
<path class="lb d3" d="M52.4,739.4L50.55,749.9"/>
<path class="lb d5" d="M56.05,739.4L46.18,795.4"/>
<path class="lb d3" d="M59.7,739.4L55.4,763.8"/>
<path class="lb d7" d="M63.35,739.4L54.9,787.3"/>
<path class="lb d0" d="M67,739.4L62.87,762.8"/>
<path class="lb d7" d="M70.65,739.4L68.3,752.7"/>
<path class="lb d5" d="M74.3,739.4L72.87,747.5"/>
<path class="lb d1" d="M77.95,739.4L72.89,768.1"/>
<path class="lb d1" d="M81.6,739.4L73,788.2"/>
<path class="lb d6" d="M85.25,739.4L78.58,777.2"/>
<path class="lb d3" d="M88.9,739.4L86.55,752.7"/>
<path class="lb d7" d="M92.55,739.4L90.79,749.4"/>
<path class="lb d2" d="M96.2,739.4L91.9,763.8"/>
<path class="lb d6" d="M99.85,739.4L95.48,764.2"/>
<path class="lb d5" d="M103.5,739.4L97.5,773.4"/>
<path class="lb d1" d="M107.15,739.4L102.09,768.1"/>
<path class="lb d6" d="M110.8,739.4L108.19,754.2"/>
<path class="lb d7" d="M114.45,739.4L110.92,759.4"/>
<path class="lb d6" d="M118.1,739.4L114.82,758"/>
<path class="lb d1" d="M121.75,739.4L119.74,750.8"/>
<path class="lb d2" d="M125.4,739.4L122.63,755.1"/>
<path class="lb d2" d="M129.05,739.4L125.26,760.9"/>
<path class="lb d2" d="M132.7,739.4L129.42,758"/>
<path class="lb d0" d="M136.35,739.4L132.98,758.5"/>
<path class="lb d2" d="M140,739.4L137.23,755.1"/>
<path class="lb d7" d="M143.65,739.4L141.55,751.3"/>
<path class="lb d2" d="M147.3,739.4L145.71,748.4"/>
<path class="lb d7" d="M150.95,739.4L145.22,771.9"/>
<path class="lb d5" d="M154.6,739.4L151.99,754.2"/>
<path class="lb d2" d="M158.25,739.4L155.15,757"/>
<path class="lb d2" d="M161.9,739.4L159.47,753.2"/>
<path class="lb d0" d="M165.55,739.4L159.73,772.4"/>
<path class="lb d0" d="M169.2,739.4L164.9,763.8"/>
<path class="lb d1" d="M172.85,739.4L168.81,762.3"/>
<path class="lb d2" d="M176.5,739.4L171.53,767.6"/>
<path class="lb d6" d="M180.15,739.4L176.2,761.8"/>
<path class="lb d3" d="M183.8,739.4L177.22,776.7"/>
<path class="lb d3" d="M187.45,739.4L185.86,748.4"/>
<path class="lb d0" d="M191.1,739.4L187.91,757.5"/>
<path class="lb d4" d="M194.75,739.4L190.62,762.8"/>
<path class="lb d3" d="M198.4,739.4L196.64,749.4"/>
<path class="lb d4" d="M202.05,739.4L200.04,750.8"/>
<path class="lb d3" d="M205.7,739.4L204.62,745.5"/>
<path class="lb d5" d="M209.35,739.4L207.59,749.4"/>
<path class="lb d4" d="M213,739.4L211.41,748.4"/>
<path class="lb d6" d="M216.65,739.4L215.73,744.6"/>
<path class="lb d2" d="M220.3,739.4L214.57,771.9"/>
<path class="lb d0" d="M223.95,739.4L218.64,769.5"/>
<path class="lb d5" d="M227.6,739.4L221.52,773.9"/>
<path class="lb d7" d="M231.25,739.4L225.25,773.4"/>
<path class="lb d6" d="M234.9,739.4L229.49,770.1"/>
<path class="lb d2" d="M238.55,739.4L233.33,769"/>
<path class="lb d2" d="M242.2,739.4L233.03,791.4"/>
<path class="lb d0" d="M245.85,739.4L241.9,761.8"/>
<path class="lb d7" d="M249.5,739.4L248.16,747"/>
<path class="lb d2" d="M253.15,739.4L247.84,769.5"/>
<path class="lb d0" d="M256.8,739.4L254.68,751.4"/>
<path class="lb d2" d="M260.45,739.4L254.56,772.8"/>
<path class="lb d2" d="M264.1,739.4L258.7,770"/>
<path class="lb d2" d="M267.75,739.4L262.83,767.3"/>
<path class="lb d7" d="M271.4,739.4L266.18,769"/>
<path class="lb d1" d="M275.05,739.4L270.02,767.9"/>
<path class="lb d0" d="M278.7,739.4L275.23,759.1"/>
<path class="lb d5" d="M282.35,739.4L278.49,761.3"/>
<path class="lb d7" d="M286,739.4L282.14,761.3"/>
<path class="lb d1" d="M289.65,739.4L284.62,767.9"/>
<path d="M37.44,783.9L34.2,802.3L125.5,802.3L132.7,761.4" fill="none" stroke="#6b8f7b" stroke-width="0.5"/>
<path d="M136.85,759.4L129.3,802.3L205.6,802.3L215.6,745.5" fill="none" stroke="#7aa0c8" stroke-width="0.5"/>
<path d="M213.56,778.1L209.3,802.3L278.2,802.3L283.39,772.8" fill="none" stroke="#d8a878" stroke-width="0.5"/>
<text x="80.2" y="805.8" font-size="3.2" font-weight="bold" text-anchor="middle" fill="#111">biological process</text>
<text x="167.5" y="805.8" font-size="3.2" font-weight="bold" text-anchor="middle" fill="#111">cellular component</text>
<text x="244" y="805.8" font-size="3.2" font-weight="bold" text-anchor="middle" fill="#111">molecular function</text>
<rect x="406.2" y="15.9" width="65.2" height="134.1" fill="#fff" stroke="#bdbdbd" stroke-width="0.4"/>
<path d="M407.6,15.9V150M416.1,15.9V150M424.6,15.9V150M433.1,15.9V150M441.6,15.9V150M450.1,15.9V150M458.6,15.9V150M467.1,15.9V150M406.2,19H471.4M406.2,23.42H471.4M406.2,27.85H471.4M406.2,32.27H471.4M406.2,36.7H471.4M406.2,41.12H471.4M406.2,45.54H471.4M406.2,49.97H471.4M406.2,54.39H471.4M406.2,58.82H471.4M406.2,63.24H471.4M406.2,67.66H471.4M406.2,72.09H471.4M406.2,76.51H471.4M406.2,80.94H471.4M406.2,85.36H471.4M406.2,89.78H471.4M406.2,94.21H471.4M406.2,98.63H471.4M406.2,103.06H471.4M406.2,107.48H471.4M406.2,111.9H471.4M406.2,116.33H471.4M406.2,120.75H471.4M406.2,125.18H471.4M406.2,129.6H471.4M406.2,134.02H471.4M406.2,138.45H471.4M406.2,142.87H471.4M406.2,147.3H471.4" stroke="#ececec" stroke-width="0.35" fill="none"/>
<rect x="406.2" y="15.9" width="65.2" height="134.1" fill="none" stroke="#bdbdbd" stroke-width="0.4"/>
<text x="438.8" y="13.6" font-size="4.3" text-anchor="middle" fill="#111">KEGG Enrichment</text>
<text x="404.9" y="19.9" font-size="2.75" letter-spacing="0.1" text-anchor="end" fill="#303030" stroke-width="0.08">cGMP - PKG signaling pathway</text>
<text x="404.9" y="24.32" font-size="2.75" letter-spacing="0.1" text-anchor="end" fill="#303030" stroke-width="0.08">cAMP signaling pathway</text>
<text x="404.9" y="28.75" font-size="2.75" letter-spacing="0.1" text-anchor="end" fill="#303030" stroke-width="0.08">Vascular smooth muscle contraction</text>
<text x="404.9" y="33.17" font-size="2.75" letter-spacing="0.1" text-anchor="end" fill="#303030" stroke-width="0.08">Ubiquitin mediated proteolysis</text>
<text x="404.9" y="37.6" font-size="2.75" letter-spacing="0.1" text-anchor="end" fill="#303030" stroke-width="0.08">Tight junction</text>
<text x="404.9" y="42.02" font-size="2.75" letter-spacing="0.1" text-anchor="end" fill="#303030" stroke-width="0.08">Thyroid hormone signaling pathway</text>
<text x="404.9" y="46.44" font-size="2.75" letter-spacing="0.1" text-anchor="end" fill="#303030" stroke-width="0.08">Sphingolipid signaling pathway</text>
<text x="404.9" y="50.87" font-size="2.75" letter-spacing="0.1" text-anchor="end" fill="#303030" stroke-width="0.08">Salivary secretion</text>
<text x="404.9" y="55.29" font-size="2.75" letter-spacing="0.1" text-anchor="end" fill="#303030" stroke-width="0.08">Ras signaling pathway</text>
<text x="404.9" y="59.72" font-size="2.75" letter-spacing="0.1" text-anchor="end" fill="#303030" stroke-width="0.08">Progesterone-mediated oocyte maturation</text>
<text x="404.9" y="64.14" font-size="2.75" letter-spacing="0.1" text-anchor="end" fill="#303030" stroke-width="0.08">Phospholipase D signaling pathway</text>
<text x="404.9" y="68.56" font-size="2.75" letter-spacing="0.1" text-anchor="end" fill="#303030" stroke-width="0.08">Phosphatidylinositol signaling system</text>
<text x="404.9" y="72.99" font-size="2.75" letter-spacing="0.1" text-anchor="end" fill="#303030" stroke-width="0.08">Oocyte meiosis</text>
<text x="404.9" y="77.41" font-size="2.75" letter-spacing="0.1" text-anchor="end" fill="#303030" stroke-width="0.08">Neurotrophin signaling pathway</text>
<text x="404.9" y="81.84" font-size="2.75" letter-spacing="0.1" text-anchor="end" fill="#303030" stroke-width="0.08">Melanogenesis</text>
<text x="404.9" y="86.26" font-size="2.75" letter-spacing="0.1" text-anchor="end" fill="#303030" stroke-width="0.08">Meiosis - yeast</text>
<text x="404.9" y="90.68" font-size="2.75" letter-spacing="0.1" text-anchor="end" fill="#303030" stroke-width="0.08">Longevity regulating pathway - mammal</text>
<text x="404.9" y="95.11" font-size="2.75" letter-spacing="0.1" text-anchor="end" fill="#303030" stroke-width="0.08">Long-term potentiation</text>
<text x="404.9" y="99.53" font-size="2.75" letter-spacing="0.1" text-anchor="end" fill="#303030" stroke-width="0.08">Long-term depression</text>
<text x="404.9" y="103.96" font-size="2.75" letter-spacing="0.1" text-anchor="end" fill="#303030" stroke-width="0.08">Leukocyte transendothelial migration</text>
<text x="404.9" y="108.38" font-size="2.75" letter-spacing="0.1" text-anchor="end" fill="#303030" stroke-width="0.08">Inflammatory mediator regulation of TRP channels</text>
<text x="404.9" y="112.8" font-size="2.75" letter-spacing="0.1" text-anchor="end" fill="#303030" stroke-width="0.08">Homologous recombination</text>
<text x="404.9" y="117.23" font-size="2.75" letter-spacing="0.1" text-anchor="end" fill="#303030" stroke-width="0.08">GnRH signaling pathway</text>
<text x="404.9" y="121.65" font-size="2.75" letter-spacing="0.1" text-anchor="end" fill="#303030" stroke-width="0.08">Endocytosis</text>
<text x="404.9" y="126.08" font-size="2.75" letter-spacing="0.1" text-anchor="end" fill="#303030" stroke-width="0.08">DNA replication</text>
<text x="404.9" y="130.5" font-size="2.75" letter-spacing="0.1" text-anchor="end" fill="#303030" stroke-width="0.08">Chemokine signaling pathway</text>
<text x="404.9" y="134.92" font-size="2.75" letter-spacing="0.1" text-anchor="end" fill="#303030" stroke-width="0.08">Cell cycle - yeast</text>
<text x="404.9" y="139.35" font-size="2.75" letter-spacing="0.1" text-anchor="end" fill="#303030" stroke-width="0.08">Cell cycle</text>
<text x="404.9" y="143.77" font-size="2.75" letter-spacing="0.1" text-anchor="end" fill="#303030" stroke-width="0.08">Aldosterone synthesis and secretion</text>
<text x="404.9" y="148.2" font-size="2.75" letter-spacing="0.1" text-anchor="end" fill="#303030" stroke-width="0.08">Adherens junction</text>
<path d="M405.3,19H406.2M405.3,23.42H406.2M405.3,27.85H406.2M405.3,32.27H406.2M405.3,36.7H406.2M405.3,41.12H406.2M405.3,45.54H406.2M405.3,49.97H406.2M405.3,54.39H406.2M405.3,58.82H406.2M405.3,63.24H406.2M405.3,67.66H406.2M405.3,72.09H406.2M405.3,76.51H406.2M405.3,80.94H406.2M405.3,85.36H406.2M405.3,89.78H406.2M405.3,94.21H406.2M405.3,98.63H406.2M405.3,103.06H406.2M405.3,107.48H406.2M405.3,111.9H406.2M405.3,116.33H406.2M405.3,120.75H406.2M405.3,125.18H406.2M405.3,129.6H406.2M405.3,134.02H406.2M405.3,138.45H406.2M405.3,142.87H406.2M405.3,147.3H406.2" stroke="#444" stroke-width="0.3"/>
<circle cx="430.5" cy="19" r="1.67" fill="#e47a38"/>
<circle cx="416.3" cy="23.42" r="1.89" fill="#e8b030"/>
<circle cx="456" cy="27.85" r="1.46" fill="#e07040"/>
<circle cx="422.5" cy="32.27" r="2.11" fill="#e06a30"/>
<circle cx="440.3" cy="36.7" r="1.57" fill="#e08040"/>
<circle cx="440.9" cy="41.12" r="1.89" fill="#e07a35"/>
<circle cx="428.2" cy="45.54" r="1.57" fill="#e8b030"/>
<circle cx="458.9" cy="49.97" r="1.13" fill="#e89040"/>
<circle cx="419.2" cy="54.39" r="1.84" fill="#e8b830"/>
<circle cx="431.7" cy="58.82" r="1.35" fill="#ecc444"/>
<circle cx="455.8" cy="63.24" r="1.78" fill="#e07a40"/>
<circle cx="446.6" cy="67.66" r="1.67" fill="#d86a30"/>
<circle cx="440.1" cy="72.09" r="1.67" fill="#d87030"/>
<circle cx="423.6" cy="76.51" r="1.67" fill="#e8b830"/>
<circle cx="434.6" cy="80.94" r="1.24" fill="#ecc444"/>
<circle cx="451.8" cy="85.36" r="1.57" fill="#d86a30"/>
<circle cx="438.2" cy="89.78" r="1.67" fill="#e08040"/>
<circle cx="454.7" cy="94.21" r="1.13" fill="#eaa040"/>
<circle cx="456.2" cy="98.63" r="0.81" fill="#f0c860"/>
<circle cx="455.1" cy="103.06" r="1.24" fill="#d86a30"/>
<circle cx="448" cy="107.48" r="1.24" fill="#e8a040"/>
<circle cx="468.1" cy="111.9" r="0.7" fill="#f0d070"/>
<circle cx="436.5" cy="116.33" r="1.35" fill="#ecc444"/>
<circle cx="409" cy="120.75" r="2.32" fill="#e89040"/>
<circle cx="448" cy="125.18" r="1.35" fill="#e8a040"/>
<circle cx="425.3" cy="129.6" r="1.67" fill="#ecc444"/>
<circle cx="444.7" cy="134.02" r="1.89" fill="#d86a30"/>
<circle cx="431.5" cy="138.45" r="2.11" fill="#d86a30"/>
<circle cx="435.5" cy="142.87" r="1.24" fill="#ecc444"/>
<circle cx="435.1" cy="147.3" r="1.46" fill="#ecc444"/>
<text x="407.6" y="153.8" font-size="2.8" text-anchor="middle" fill="#444">0.33</text>
<text x="424.6" y="153.8" font-size="2.8" text-anchor="middle" fill="#444">0.36</text>
<text x="441.8" y="153.8" font-size="2.8" text-anchor="middle" fill="#444">0.39</text>
<text x="459" y="153.8" font-size="2.8" text-anchor="middle" fill="#444">0.42</text>
<path d="M407.6,150V150.9M424.6,150V150.9M441.8,150V150.9M459,150V150.9" stroke="#444" stroke-width="0.3"/>
<text x="438.6" y="157.7" font-size="3.2" font-weight="bold" text-anchor="middle" fill="#222">Rich factor</text>
<text x="476.9" y="54.8" font-size="3.2" fill="#222">Signif Num</text>
<circle cx="479.4" cy="59.8" r="0.7" fill="#111"/>
<text x="484.2" y="60.8" font-size="2.8" fill="#444">20</text>
<circle cx="479.4" cy="65.5" r="1.4" fill="#111"/>
<text x="484.2" y="66.5" font-size="2.8" fill="#444">40</text>
<circle cx="479.4" cy="71.3" r="1.8" fill="#111"/>
<text x="484.2" y="72.3" font-size="2.8" fill="#444">60</text>
<text x="476.9" y="84.2" font-size="3.2" fill="#222">qvalue</text>
<rect x="476.9" y="86" width="4.9" height="28.3" fill="url(#qv)"/>
<text x="484.4" y="88" font-size="2.7" fill="#444">1.00</text>
<text x="484.4" y="94.58" font-size="2.7" fill="#444">0.75</text>
<text x="484.4" y="101.15" font-size="2.7" fill="#444">0.50</text>
<text x="484.4" y="107.72" font-size="2.7" fill="#444">0.25</text>
<text x="484.4" y="114.3" font-size="2.7" fill="#444">0.00</text>
<rect x="401.6" y="217.2" width="84.7" height="133.6" fill="#fff" stroke="#bdbdbd" stroke-width="0.4"/>
<path d="M406.5,217.2V350.8M417.8,217.2V350.8M429.1,217.2V350.8M440.4,217.2V350.8M451.7,217.2V350.8M463,217.2V350.8M474.3,217.2V350.8M485.6,217.2V350.8M401.6,219.9H486.3M401.6,224.32H486.3M401.6,228.73H486.3M401.6,233.15H486.3M401.6,237.57H486.3M401.6,241.99H486.3M401.6,246.4H486.3M401.6,250.82H486.3M401.6,255.24H486.3M401.6,259.65H486.3M401.6,264.07H486.3M401.6,268.49H486.3M401.6,272.9H486.3M401.6,277.32H486.3M401.6,281.74H486.3M401.6,286.15H486.3M401.6,290.57H486.3M401.6,294.99H486.3M401.6,299.41H486.3M401.6,303.82H486.3M401.6,308.24H486.3M401.6,312.66H486.3M401.6,317.07H486.3M401.6,321.49H486.3M401.6,325.91H486.3M401.6,330.32H486.3M401.6,334.74H486.3M401.6,339.16H486.3M401.6,343.58H486.3M401.6,347.99H486.3" stroke="#ececec" stroke-width="0.35" fill="none"/>
<rect x="401.6" y="217.2" width="84.7" height="133.6" fill="none" stroke="#bdbdbd" stroke-width="0.4"/>
<text x="444" y="214.3" font-size="4.3" text-anchor="middle" fill="#111">KEGG Enrichment</text>
<text x="400.3" y="220.8" font-size="2.75" letter-spacing="0.1" text-anchor="end" fill="#303030" stroke-width="0.08">p53 signaling pathway</text>
<text x="400.3" y="225.22" font-size="2.75" letter-spacing="0.1" text-anchor="end" fill="#303030" stroke-width="0.08">mRNA surveillance pathway</text>
<text x="400.3" y="229.63" font-size="2.75" letter-spacing="0.1" text-anchor="end" fill="#303030" stroke-width="0.08">beta-Alanine metabolism</text>
<text x="400.3" y="234.05" font-size="2.75" letter-spacing="0.1" text-anchor="end" fill="#303030" stroke-width="0.08">Wnt signaling pathway</text>
<text x="400.3" y="238.47" font-size="2.75" letter-spacing="0.1" text-anchor="end" fill="#303030" stroke-width="0.08">Ubiquitin mediated proteolysis</text>
<text x="400.3" y="242.89" font-size="2.75" letter-spacing="0.1" text-anchor="end" fill="#303030" stroke-width="0.08">Thyroid hormone signaling pathway</text>
<text x="400.3" y="247.3" font-size="2.75" letter-spacing="0.1" text-anchor="end" fill="#303030" stroke-width="0.08">TGF-beta signaling pathway</text>
<text x="400.3" y="251.72" font-size="2.75" letter-spacing="0.1" text-anchor="end" fill="#303030" stroke-width="0.08">Spliceosome</text>
<text x="400.3" y="256.14" font-size="2.75" letter-spacing="0.1" text-anchor="end" fill="#303030" stroke-width="0.08">Ribosome biogenesis in eukaryotes</text>
<text x="400.3" y="260.55" font-size="2.75" letter-spacing="0.1" text-anchor="end" fill="#303030" stroke-width="0.08">Ribosome</text>
<text x="400.3" y="264.97" font-size="2.75" letter-spacing="0.1" text-anchor="end" fill="#303030" stroke-width="0.08">RNA transport</text>
<text x="400.3" y="269.39" font-size="2.75" letter-spacing="0.1" text-anchor="end" fill="#303030" stroke-width="0.08">RNA polymerase</text>
<text x="400.3" y="273.8" font-size="2.75" letter-spacing="0.1" text-anchor="end" fill="#303030" stroke-width="0.08">RNA degradation</text>
<text x="400.3" y="278.22" font-size="2.75" letter-spacing="0.1" text-anchor="end" fill="#303030" stroke-width="0.08">Pyrimidine metabolism</text>
<text x="400.3" y="282.64" font-size="2.75" letter-spacing="0.1" text-anchor="end" fill="#303030" stroke-width="0.08">Oocyte meiosis</text>
<text x="400.3" y="287.05" font-size="2.75" letter-spacing="0.1" text-anchor="end" fill="#303030" stroke-width="0.08">Notch signaling pathway</text>
<text x="400.3" y="291.47" font-size="2.75" letter-spacing="0.1" text-anchor="end" fill="#303030" stroke-width="0.08">Meiosis - yeast</text>
<text x="400.3" y="295.89" font-size="2.75" letter-spacing="0.1" text-anchor="end" fill="#303030" stroke-width="0.08">MAPK signaling pathway - yeast</text>
<text x="400.3" y="300.31" font-size="2.75" letter-spacing="0.1" text-anchor="end" fill="#303030" stroke-width="0.08">Lysine degradation</text>
<text x="400.3" y="304.72" font-size="2.75" letter-spacing="0.1" text-anchor="end" fill="#303030" stroke-width="0.08">Long-term potentiation</text>
<text x="400.3" y="309.14" font-size="2.75" letter-spacing="0.1" text-anchor="end" fill="#303030" stroke-width="0.08">Limonene and pinene degradation</text>
<text x="400.3" y="313.56" font-size="2.75" letter-spacing="0.1" text-anchor="end" fill="#303030" stroke-width="0.08">Hippo signaling pathway</text>
<text x="400.3" y="317.97" font-size="2.75" letter-spacing="0.1" text-anchor="end" fill="#303030" stroke-width="0.08">Hedgehog signaling pathway</text>
<text x="400.3" y="322.39" font-size="2.75" letter-spacing="0.1" text-anchor="end" fill="#303030" stroke-width="0.08">Focal adhesion</text>
<text x="400.3" y="326.81" font-size="2.75" letter-spacing="0.1" text-anchor="end" fill="#303030" stroke-width="0.08">Fatty acid elongation</text>
<text x="400.3" y="331.22" font-size="2.75" letter-spacing="0.1" text-anchor="end" fill="#303030" stroke-width="0.08">DNA replication</text>
<text x="400.3" y="335.64" font-size="2.75" letter-spacing="0.1" text-anchor="end" fill="#303030" stroke-width="0.08">Cell cycle - yeast</text>
<text x="400.3" y="340.06" font-size="2.75" letter-spacing="0.1" text-anchor="end" fill="#303030" stroke-width="0.08">Cell cycle</text>
<text x="400.3" y="344.48" font-size="2.75" letter-spacing="0.1" text-anchor="end" fill="#303030" stroke-width="0.08">Basal transcription factors</text>
<text x="400.3" y="348.89" font-size="2.75" letter-spacing="0.1" text-anchor="end" fill="#303030" stroke-width="0.08">Adherens junction</text>
<path d="M400.7,219.9H401.6M400.7,224.32H401.6M400.7,228.73H401.6M400.7,233.15H401.6M400.7,237.57H401.6M400.7,241.99H401.6M400.7,246.4H401.6M400.7,250.82H401.6M400.7,255.24H401.6M400.7,259.65H401.6M400.7,264.07H401.6M400.7,268.49H401.6M400.7,272.9H401.6M400.7,277.32H401.6M400.7,281.74H401.6M400.7,286.15H401.6M400.7,290.57H401.6M400.7,294.99H401.6M400.7,299.41H401.6M400.7,303.82H401.6M400.7,308.24H401.6M400.7,312.66H401.6M400.7,317.07H401.6M400.7,321.49H401.6M400.7,325.91H401.6M400.7,330.32H401.6M400.7,334.74H401.6M400.7,339.16H401.6M400.7,343.58H401.6M400.7,347.99H401.6" stroke="#444" stroke-width="0.3"/>
<circle cx="435.7" cy="219.9" r="1.24" fill="#cc2f28"/>
<circle cx="424" cy="224.32" r="1.67" fill="#cc2f28"/>
<circle cx="415.7" cy="228.73" r="1.08" fill="#7ab0a0"/>
<circle cx="414.9" cy="233.15" r="1.67" fill="#eab030"/>
<circle cx="411.5" cy="237.57" r="1.84" fill="#e8a030"/>
<circle cx="426.1" cy="241.99" r="1.67" fill="#d94030"/>
<circle cx="418" cy="246.4" r="1.24" fill="#84a868"/>
<circle cx="427.4" cy="250.82" r="2.27" fill="#d43020"/>
<circle cx="415.4" cy="255.24" r="1.84" fill="#e07030"/>
<circle cx="409.4" cy="259.65" r="2.54" fill="#cc2f28"/>
<circle cx="418.3" cy="264.07" r="2.27" fill="#cc2f28"/>
<circle cx="438.3" cy="268.49" r="1.24" fill="#d84030"/>
<circle cx="421.1" cy="272.9" r="1.84" fill="#e0602a"/>
<circle cx="412.6" cy="277.32" r="1.84" fill="#e8902a"/>
<circle cx="423.5" cy="281.74" r="1.67" fill="#e0602a"/>
<circle cx="424" cy="286.15" r="1.24" fill="#a0b848"/>
<circle cx="437.8" cy="290.57" r="1.57" fill="#cc2f28"/>
<circle cx="450" cy="294.99" r="1.24" fill="#cc2f28"/>
<circle cx="412.3" cy="299.41" r="1.4" fill="#80a070"/>
<circle cx="417.5" cy="303.82" r="1.24" fill="#8aa860"/>
<circle cx="481.8" cy="308.24" r="0.7" fill="#80a070"/>
<circle cx="413.1" cy="312.66" r="1.67" fill="#eedc30"/>
<circle cx="424.8" cy="317.07" r="1.24" fill="#9ab050"/>
<circle cx="405.3" cy="321.49" r="1.67" fill="#70a878"/>
<circle cx="425.3" cy="325.91" r="1.24" fill="#70a870"/>
<circle cx="436" cy="330.32" r="1.4" fill="#cc2f28"/>
<circle cx="432.1" cy="334.74" r="1.84" fill="#cc2f28"/>
<circle cx="434.2" cy="339.16" r="2.11" fill="#cc2f28"/>
<circle cx="438.6" cy="343.58" r="1.57" fill="#cc2f28"/>
<circle cx="411.8" cy="347.99" r="1.4" fill="#88a070"/>
<text x="406.5" y="354.5" font-size="2.8" text-anchor="middle" fill="#444">0.5</text>
<text x="429.1" y="354.5" font-size="2.8" text-anchor="middle" fill="#444">0.6</text>
<text x="451.6" y="354.5" font-size="2.8" text-anchor="middle" fill="#444">0.7</text>
<text x="474.7" y="354.5" font-size="2.8" text-anchor="middle" fill="#444">0.8</text>
<path d="M406.5,350.8V351.7M429.1,350.8V351.7M451.6,350.8V351.7M474.7,350.8V351.7" stroke="#444" stroke-width="0.3"/>
<text x="444.2" y="358.8" font-size="3.2" font-weight="bold" font-style="italic" text-anchor="middle" fill="#222">Rich factor</text>
<text x="491.7" y="256" font-size="3.2" fill="#222">Signif Num</text>
<circle cx="494.2" cy="260.8" r="1.25" fill="#111"/>
<text x="499" y="261.8" font-size="2.8" fill="#444">50</text>
<circle cx="494.2" cy="266.5" r="1.6" fill="#111"/>
<text x="499" y="267.5" font-size="2.8" fill="#444">100</text>
<circle cx="494.2" cy="272.2" r="1.9" fill="#111"/>
<text x="499" y="273.2" font-size="2.8" fill="#444">150</text>
<text x="491.7" y="284.7" font-size="3.2" fill="#222">qvalue</text>
<rect x="491.4" y="287" width="5.4" height="28.2" fill="url(#qv)"/>
<text x="499.4" y="289" font-size="2.7" fill="#444">1.00</text>
<text x="499.4" y="295.55" font-size="2.7" fill="#444">0.75</text>
<text x="499.4" y="302.1" font-size="2.7" fill="#444">0.50</text>
<text x="499.4" y="308.65" font-size="2.7" fill="#444">0.25</text>
<text x="499.4" y="315.2" font-size="2.7" fill="#444">0.00</text>
<rect x="402.2" y="424" width="73.1" height="134.6" fill="#fff" stroke="#bdbdbd" stroke-width="0.4"/>
<path d="M408,424V558.6M414.45,424V558.6M420.9,424V558.6M427.35,424V558.6M433.8,424V558.6M440.25,424V558.6M446.7,424V558.6M453.15,424V558.6M459.6,424V558.6M466.05,424V558.6M472.5,424V558.6M402.2,426.8H475.3M402.2,431.24H475.3M402.2,435.68H475.3M402.2,440.12H475.3M402.2,444.56H475.3M402.2,449H475.3M402.2,453.44H475.3M402.2,457.88H475.3M402.2,462.32H475.3M402.2,466.76H475.3M402.2,471.2H475.3M402.2,475.64H475.3M402.2,480.08H475.3M402.2,484.52H475.3M402.2,488.96H475.3M402.2,493.4H475.3M402.2,497.84H475.3M402.2,502.28H475.3M402.2,506.72H475.3M402.2,511.16H475.3M402.2,515.6H475.3M402.2,520.04H475.3M402.2,524.48H475.3M402.2,528.92H475.3M402.2,533.36H475.3M402.2,537.8H475.3M402.2,542.24H475.3M402.2,546.68H475.3M402.2,551.12H475.3M402.2,555.56H475.3" stroke="#ececec" stroke-width="0.35" fill="none"/>
<rect x="402.2" y="424" width="73.1" height="134.6" fill="none" stroke="#bdbdbd" stroke-width="0.4"/>
<text x="438.8" y="421.3" font-size="4.3" text-anchor="middle" fill="#111">KEGG Enrichment</text>
<text x="400.9" y="427.7" font-size="2.75" letter-spacing="0.1" text-anchor="end" fill="#303030" stroke-width="0.08">mRNA surveillance pathway</text>
<text x="400.9" y="432.14" font-size="2.75" letter-spacing="0.1" text-anchor="end" fill="#303030" stroke-width="0.08">Ubiquitin mediated proteolysis</text>
<text x="400.9" y="436.58" font-size="2.75" letter-spacing="0.1" text-anchor="end" fill="#303030" stroke-width="0.08">Tight junction</text>
<text x="400.9" y="441.02" font-size="2.75" letter-spacing="0.1" text-anchor="end" fill="#303030" stroke-width="0.08">Thyroid hormone signaling pathway</text>
<text x="400.9" y="445.46" font-size="2.75" letter-spacing="0.1" text-anchor="end" fill="#303030" stroke-width="0.08">Spliceosome</text>
<text x="400.9" y="449.9" font-size="2.75" letter-spacing="0.1" text-anchor="end" fill="#303030" stroke-width="0.08">Sphingolipid signaling pathway</text>
<text x="400.9" y="454.34" font-size="2.75" letter-spacing="0.1" text-anchor="end" fill="#303030" stroke-width="0.08">Ribosome</text>
<text x="400.9" y="458.78" font-size="2.75" letter-spacing="0.1" text-anchor="end" fill="#303030" stroke-width="0.08">Ras signaling pathway</text>
<text x="400.9" y="463.22" font-size="2.75" letter-spacing="0.1" text-anchor="end" fill="#303030" stroke-width="0.08">RNA transport</text>
<text x="400.9" y="467.66" font-size="2.75" letter-spacing="0.1" text-anchor="end" fill="#303030" stroke-width="0.08">Protein processing in endoplasmic reticulum</text>
<text x="400.9" y="472.1" font-size="2.75" letter-spacing="0.1" text-anchor="end" fill="#303030" stroke-width="0.08">Progesterone-mediated oocyte maturation</text>
<text x="400.9" y="476.54" font-size="2.75" letter-spacing="0.1" text-anchor="end" fill="#303030" stroke-width="0.08">Oocyte meiosis</text>
<text x="400.9" y="480.98" font-size="2.75" letter-spacing="0.1" text-anchor="end" fill="#303030" stroke-width="0.08">Nucleotide excision repair</text>
<text x="400.9" y="485.42" font-size="2.75" letter-spacing="0.1" text-anchor="end" fill="#303030" stroke-width="0.08">Mucin type O-glycan biosynthesis</text>
<text x="400.9" y="489.86" font-size="2.75" letter-spacing="0.1" text-anchor="end" fill="#303030" stroke-width="0.08">Melanogenesis</text>
<text x="400.9" y="494.3" font-size="2.75" letter-spacing="0.1" text-anchor="end" fill="#303030" stroke-width="0.08">Meiosis - yeast</text>
<text x="400.9" y="498.74" font-size="2.75" letter-spacing="0.1" text-anchor="end" fill="#303030" stroke-width="0.08">MAPK signaling pathway - fly</text>
<text x="400.9" y="503.18" font-size="2.75" letter-spacing="0.1" text-anchor="end" fill="#303030" stroke-width="0.08">Long-term potentiation</text>
<text x="400.9" y="507.62" font-size="2.75" letter-spacing="0.1" text-anchor="end" fill="#303030" stroke-width="0.08">Long-term depression</text>
<text x="400.9" y="512.06" font-size="2.75" letter-spacing="0.1" text-anchor="end" fill="#303030" stroke-width="0.08">Leukocyte transendothelial migration</text>
<text x="400.9" y="516.5" font-size="2.75" letter-spacing="0.1" text-anchor="end" fill="#303030" stroke-width="0.08">Hippo signaling pathway - multiple species</text>
<text x="400.9" y="520.94" font-size="2.75" letter-spacing="0.1" text-anchor="end" fill="#303030" stroke-width="0.08">Hippo signaling pathway</text>
<text x="400.9" y="525.38" font-size="2.75" letter-spacing="0.1" text-anchor="end" fill="#303030" stroke-width="0.08">GnRH signaling pathway</text>
<text x="400.9" y="529.82" font-size="2.75" letter-spacing="0.1" text-anchor="end" fill="#303030" stroke-width="0.08">Endocytosis</text>
<text x="400.9" y="534.26" font-size="2.75" letter-spacing="0.1" text-anchor="end" fill="#303030" stroke-width="0.08">DNA replication</text>
<text x="400.9" y="538.7" font-size="2.75" letter-spacing="0.1" text-anchor="end" fill="#303030" stroke-width="0.08">Chemokine signaling pathway</text>
<text x="400.9" y="543.14" font-size="2.75" letter-spacing="0.1" text-anchor="end" fill="#303030" stroke-width="0.08">Cell cycle - yeast</text>
<text x="400.9" y="547.58" font-size="2.75" letter-spacing="0.1" text-anchor="end" fill="#303030" stroke-width="0.08">Cell cycle</text>
<text x="400.9" y="552.02" font-size="2.75" letter-spacing="0.1" text-anchor="end" fill="#303030" stroke-width="0.08">Axon guidance</text>
<text x="400.9" y="556.46" font-size="2.75" letter-spacing="0.1" text-anchor="end" fill="#303030" stroke-width="0.08">Adherens junction</text>
<path d="M401.3,426.8H402.2M401.3,431.24H402.2M401.3,435.68H402.2M401.3,440.12H402.2M401.3,444.56H402.2M401.3,449H402.2M401.3,453.44H402.2M401.3,457.88H402.2M401.3,462.32H402.2M401.3,466.76H402.2M401.3,471.2H402.2M401.3,475.64H402.2M401.3,480.08H402.2M401.3,484.52H402.2M401.3,488.96H402.2M401.3,493.4H402.2M401.3,497.84H402.2M401.3,502.28H402.2M401.3,506.72H402.2M401.3,511.16H402.2M401.3,515.6H402.2M401.3,520.04H402.2M401.3,524.48H402.2M401.3,528.92H402.2M401.3,533.36H402.2M401.3,537.8H402.2M401.3,542.24H402.2M401.3,546.68H402.2M401.3,551.12H402.2M401.3,555.56H402.2" stroke="#444" stroke-width="0.3"/>
<circle cx="414.4" cy="426.8" r="1.67" fill="#b8c038"/>
<circle cx="415.4" cy="431.24" r="1.84" fill="#e0dc30"/>
<circle cx="434.4" cy="435.68" r="1.67" fill="#d8a040"/>
<circle cx="412.8" cy="440.12" r="1.67" fill="#84a840"/>
<circle cx="408.9" cy="444.56" r="2.11" fill="#b8c830"/>
<circle cx="419.6" cy="449" r="1.57" fill="#b0c840"/>
<circle cx="405.5" cy="453.44" r="2.54" fill="#b4c82a"/>
<circle cx="411.8" cy="457.88" r="1.67" fill="#80a440"/>
<circle cx="410.2" cy="462.32" r="2.27" fill="#e0d828"/>
<circle cx="412.5" cy="466.76" r="2.27" fill="#e0dc30"/>
<circle cx="423.5" cy="471.2" r="1.57" fill="#c8d040"/>
<circle cx="423.5" cy="475.64" r="1.67" fill="#e8e040"/>
<circle cx="418" cy="480.08" r="1.24" fill="#609830"/>
<circle cx="472.2" cy="484.52" r="0.54" fill="#a0b840"/>
<circle cx="420.6" cy="488.96" r="1.4" fill="#7ca040"/>
<circle cx="433.6" cy="493.4" r="1.57" fill="#d8a040"/>
<circle cx="414.1" cy="497.84" r="1.67" fill="#b0c040"/>
<circle cx="421.9" cy="502.28" r="1.13" fill="#6a9a40"/>
<circle cx="425.6" cy="506.72" r="1.13" fill="#70a040"/>
<circle cx="421.1" cy="511.16" r="1.24" fill="#6a9a40"/>
<circle cx="431" cy="515.6" r="0.97" fill="#5a8a30"/>
<circle cx="419.1" cy="520.04" r="1.57" fill="#dede30"/>
<circle cx="423.5" cy="524.48" r="1.57" fill="#b8c840"/>
<circle cx="406.4" cy="528.92" r="2.11" fill="#4e9a38"/>
<circle cx="434.9" cy="533.36" r="1.57" fill="#e8e840"/>
<circle cx="413.3" cy="537.8" r="1.57" fill="#5a9a3a"/>
<circle cx="426.6" cy="542.24" r="1.67" fill="#e0a030"/>
<circle cx="418.3" cy="546.68" r="1.67" fill="#e6e030"/>
<circle cx="419.1" cy="551.12" r="1.57" fill="#d8d830"/>
<circle cx="425.6" cy="555.56" r="1.67" fill="#c8d040"/>
<text x="408" y="561.9" font-size="2.8" text-anchor="middle" fill="#444">0.30</text>
<text x="420.9" y="561.9" font-size="2.8" text-anchor="middle" fill="#444">0.35</text>
<text x="435.1" y="561.9" font-size="2.8" text-anchor="middle" fill="#444">0.40</text>
<text x="448.6" y="561.9" font-size="2.8" text-anchor="middle" fill="#444">0.45</text>
<text x="461.6" y="561.9" font-size="2.8" text-anchor="middle" fill="#444">0.50</text>
<text x="475.1" y="561.9" font-size="2.8" text-anchor="middle" fill="#444">0.55</text>
<path d="M408,558.6V559.5M420.9,558.6V559.5M435.1,558.6V559.5M448.6,558.6V559.5M461.6,558.6V559.5M475.1,558.6V559.5" stroke="#444" stroke-width="0.3"/>
<text x="438.8" y="566" font-size="3.2" font-weight="bold" font-style="italic" text-anchor="middle" fill="#222">Rich factor</text>
<text x="481.1" y="460.2" font-size="3.2" fill="#222">Signif Num</text>
<circle cx="483.6" cy="465.3" r="1" fill="#111"/>
<text x="488.4" y="466.3" font-size="2.8" fill="#444">25</text>
<circle cx="483.6" cy="470.8" r="1.4" fill="#111"/>
<text x="488.4" y="471.8" font-size="2.8" fill="#444">50</text>
<circle cx="483.6" cy="476.4" r="1.65" fill="#111"/>
<text x="488.4" y="477.4" font-size="2.8" fill="#444">75</text>
<circle cx="483.6" cy="482.2" r="1.95" fill="#111"/>
<text x="488.4" y="483.2" font-size="2.8" fill="#444">100</text>
<text x="481.1" y="494.7" font-size="3.2" fill="#222">qvalue</text>
<rect x="481.1" y="497" width="5.2" height="28.2" fill="url(#qv)"/>
<text x="488.9" y="499" font-size="2.7" fill="#444">1.00</text>
<text x="488.9" y="505.55" font-size="2.7" fill="#444">0.75</text>
<text x="488.9" y="512.1" font-size="2.7" fill="#444">0.50</text>
<text x="488.9" y="518.65" font-size="2.7" fill="#444">0.25</text>
<text x="488.9" y="525.2" font-size="2.7" fill="#444">0.00</text>
<rect x="405.8" y="642.2" width="58.8" height="134.8" fill="#fff" stroke="#bdbdbd" stroke-width="0.4"/>
<path d="M407.2,642.2V777M415.1,642.2V777M423,642.2V777M430.9,642.2V777M438.8,642.2V777M446.7,642.2V777M454.6,642.2V777M462.5,642.2V777M405.8,645.5H464.6M405.8,649.92H464.6M405.8,654.33H464.6M405.8,658.75H464.6M405.8,663.17H464.6M405.8,667.59H464.6M405.8,672H464.6M405.8,676.42H464.6M405.8,680.84H464.6M405.8,685.25H464.6M405.8,689.67H464.6M405.8,694.09H464.6M405.8,698.5H464.6M405.8,702.92H464.6M405.8,707.34H464.6M405.8,711.75H464.6M405.8,716.17H464.6M405.8,720.59H464.6M405.8,725.01H464.6M405.8,729.42H464.6M405.8,733.84H464.6M405.8,738.26H464.6M405.8,742.67H464.6M405.8,747.09H464.6M405.8,751.51H464.6M405.8,755.92H464.6M405.8,760.34H464.6M405.8,764.76H464.6M405.8,769.18H464.6M405.8,773.59H464.6" stroke="#ececec" stroke-width="0.35" fill="none"/>
<rect x="405.8" y="642.2" width="58.8" height="134.8" fill="none" stroke="#bdbdbd" stroke-width="0.4"/>
<text x="435.7" y="639.8" font-size="4.3" text-anchor="middle" fill="#111">KEGG Enrichment</text>
<text x="404.5" y="646.4" font-size="2.75" letter-spacing="0.1" text-anchor="end" fill="#303030" stroke-width="0.08">mRNA surveillance pathway</text>
<text x="404.5" y="650.82" font-size="2.75" letter-spacing="0.1" text-anchor="end" fill="#303030" stroke-width="0.08">Wnt signaling pathway</text>
<text x="404.5" y="655.23" font-size="2.75" letter-spacing="0.1" text-anchor="end" fill="#303030" stroke-width="0.08">Various types of N-glycan biosynthesis</text>
<text x="404.5" y="659.65" font-size="2.75" letter-spacing="0.1" text-anchor="end" fill="#303030" stroke-width="0.08">Tight junction</text>
<text x="404.5" y="664.07" font-size="2.75" letter-spacing="0.1" text-anchor="end" fill="#303030" stroke-width="0.08">TGF-beta signaling pathway</text>
<text x="404.5" y="668.49" font-size="2.75" letter-spacing="0.1" text-anchor="end" fill="#303030" stroke-width="0.08">T cell receptor signaling pathway</text>
<text x="404.5" y="672.9" font-size="2.75" letter-spacing="0.1" text-anchor="end" fill="#303030" stroke-width="0.08">Sphingolipid signaling pathway</text>
<text x="404.5" y="677.32" font-size="2.75" letter-spacing="0.1" text-anchor="end" fill="#303030" stroke-width="0.08">Signaling pathways regulating pluripotency of stem cells</text>
<text x="404.5" y="681.74" font-size="2.75" letter-spacing="0.1" text-anchor="end" fill="#303030" stroke-width="0.08">Renin secretion</text>
<text x="404.5" y="686.15" font-size="2.75" letter-spacing="0.1" text-anchor="end" fill="#303030" stroke-width="0.08">Regulation of actin cytoskeleton</text>
<text x="404.5" y="690.57" font-size="2.75" letter-spacing="0.1" text-anchor="end" fill="#303030" stroke-width="0.08">Ras signaling pathway</text>
<text x="404.5" y="694.99" font-size="2.75" letter-spacing="0.1" text-anchor="end" fill="#303030" stroke-width="0.08">Other glycan degradation</text>
<text x="404.5" y="699.4" font-size="2.75" letter-spacing="0.1" text-anchor="end" fill="#303030" stroke-width="0.08">Mucin type O-glycan biosynthesis</text>
<text x="404.5" y="703.82" font-size="2.75" letter-spacing="0.1" text-anchor="end" fill="#303030" stroke-width="0.08">Melanogenesis</text>
<text x="404.5" y="708.24" font-size="2.75" letter-spacing="0.1" text-anchor="end" fill="#303030" stroke-width="0.08">Meiosis - yeast</text>
<text x="404.5" y="712.65" font-size="2.75" letter-spacing="0.1" text-anchor="end" fill="#303030" stroke-width="0.08">MAPK signaling pathway - fly</text>
<text x="404.5" y="717.07" font-size="2.75" letter-spacing="0.1" text-anchor="end" fill="#303030" stroke-width="0.08">Longevity regulating pathway - worm</text>
<text x="404.5" y="721.49" font-size="2.75" letter-spacing="0.1" text-anchor="end" fill="#303030" stroke-width="0.08">Insect hormone biosynthesis</text>
<text x="404.5" y="725.91" font-size="2.75" letter-spacing="0.1" text-anchor="end" fill="#303030" stroke-width="0.08">Hippo signaling pathway - fly</text>
<text x="404.5" y="730.32" font-size="2.75" letter-spacing="0.1" text-anchor="end" fill="#303030" stroke-width="0.08">Hippo signaling pathway - multiple species</text>
<text x="404.5" y="734.74" font-size="2.75" letter-spacing="0.1" text-anchor="end" fill="#303030" stroke-width="0.08">Hippo signaling pathway</text>
<text x="404.5" y="739.16" font-size="2.75" letter-spacing="0.1" text-anchor="end" fill="#303030" stroke-width="0.08">Hedgehog signaling pathway</text>
<text x="404.5" y="743.57" font-size="2.75" letter-spacing="0.1" text-anchor="end" fill="#303030" stroke-width="0.08">Glycosphingolipid biosynthesis - globo series</text>
<text x="404.5" y="747.99" font-size="2.75" letter-spacing="0.1" text-anchor="end" fill="#303030" stroke-width="0.08">Focal adhesion</text>
<text x="404.5" y="752.41" font-size="2.75" letter-spacing="0.1" text-anchor="end" fill="#303030" stroke-width="0.08">Fanconi anemia pathway</text>
<text x="404.5" y="756.82" font-size="2.75" letter-spacing="0.1" text-anchor="end" fill="#303030" stroke-width="0.08">ErbB signaling pathway</text>
<text x="404.5" y="761.24" font-size="2.75" letter-spacing="0.1" text-anchor="end" fill="#303030" stroke-width="0.08">Endocytosis</text>
<text x="404.5" y="765.66" font-size="2.75" letter-spacing="0.1" text-anchor="end" fill="#303030" stroke-width="0.08">Cell cycle - yeast</text>
<text x="404.5" y="770.08" font-size="2.75" letter-spacing="0.1" text-anchor="end" fill="#303030" stroke-width="0.08">Axon guidance</text>
<text x="404.5" y="774.49" font-size="2.75" letter-spacing="0.1" text-anchor="end" fill="#303030" stroke-width="0.08">Adherens junction</text>
<path d="M404.9,645.5H405.8M404.9,649.92H405.8M404.9,654.33H405.8M404.9,658.75H405.8M404.9,663.17H405.8M404.9,667.59H405.8M404.9,672H405.8M404.9,676.42H405.8M404.9,680.84H405.8M404.9,685.25H405.8M404.9,689.67H405.8M404.9,694.09H405.8M404.9,698.5H405.8M404.9,702.92H405.8M404.9,707.34H405.8M404.9,711.75H405.8M404.9,716.17H405.8M404.9,720.59H405.8M404.9,725.01H405.8M404.9,729.42H405.8M404.9,733.84H405.8M404.9,738.26H405.8M404.9,742.67H405.8M404.9,747.09H405.8M404.9,751.51H405.8M404.9,755.92H405.8M404.9,760.34H405.8M404.9,764.76H405.8M404.9,769.18H405.8M404.9,773.59H405.8" stroke="#444" stroke-width="0.3"/>
<circle cx="411.5" cy="645.5" r="1.84" fill="#a8c040"/>
<circle cx="411.5" cy="649.92" r="1.84" fill="#70a040"/>
<circle cx="422.7" cy="654.33" r="1.57" fill="#d89a38"/>
<circle cx="414.9" cy="658.75" r="1.67" fill="#b8c840"/>
<circle cx="419.3" cy="663.17" r="1.4" fill="#b0c840"/>
<circle cx="413.1" cy="667.59" r="1.4" fill="#80a070"/>
<circle cx="414.9" cy="672" r="1.67" fill="#b8c840"/>
<circle cx="423.7" cy="676.42" r="1.84" fill="#d87a30"/>
<circle cx="420.4" cy="680.84" r="1.13" fill="#5a9038"/>
<circle cx="408.4" cy="685.25" r="1.94" fill="#70a860"/>
<circle cx="414.4" cy="689.67" r="2.11" fill="#e8d030"/>
<circle cx="430" cy="694.09" r="1.13" fill="#d0d860"/>
<circle cx="448.5" cy="698.5" r="0.86" fill="#b0c060"/>
<circle cx="412.6" cy="702.92" r="1.4" fill="#70a060"/>
<circle cx="412.6" cy="707.34" r="1.67" fill="#5a9a40"/>
<circle cx="410" cy="711.75" r="1.84" fill="#70a850"/>
<circle cx="410.5" cy="716.17" r="1.67" fill="#70a070"/>
<circle cx="436.5" cy="720.59" r="0.7" fill="#607050"/>
<circle cx="414.1" cy="725.01" r="1.67" fill="#a8b840"/>
<circle cx="421.7" cy="729.42" r="1.13" fill="#5a9048"/>
<circle cx="419.1" cy="733.84" r="1.94" fill="#e08830"/>
<circle cx="416.2" cy="738.26" r="1.24" fill="#80a080"/>
<circle cx="461.5" cy="742.67" r="0.7" fill="#a0a070"/>
<circle cx="408.9" cy="747.09" r="1.84" fill="#60a070"/>
<circle cx="414.4" cy="751.51" r="1.4" fill="#4a9040"/>
<circle cx="418.3" cy="755.92" r="1.4" fill="#c0d040"/>
<circle cx="412.3" cy="760.34" r="2.54" fill="#eca030"/>
<circle cx="411.8" cy="764.76" r="1.67" fill="#5aa040"/>
<circle cx="418.8" cy="769.18" r="1.84" fill="#e08830"/>
<circle cx="421.9" cy="773.59" r="1.67" fill="#e08830"/>
<text x="407.2" y="780.1" font-size="2.8" text-anchor="middle" fill="#444">0.2</text>
<text x="423" y="780.1" font-size="2.8" text-anchor="middle" fill="#444">0.3</text>
<text x="438.8" y="780.1" font-size="2.8" text-anchor="middle" fill="#444">0.4</text>
<text x="454.6" y="780.1" font-size="2.8" text-anchor="middle" fill="#444">0.5</text>
<path d="M407.2,777V777.9M423,777V777.9M438.8,777V777.9M454.6,777V777.9" stroke="#444" stroke-width="0.3"/>
<text x="435.2" y="784.1" font-size="3.3" text-anchor="middle" fill="#222">Rich factor</text>
<text x="469.6" y="716.1" font-size="3.2" fill="#222">Signif Num</text>
<circle cx="472.1" cy="721.3" r="0.8" fill="#111"/>
<text x="476.9" y="722.3" font-size="2.8" fill="#444">10</text>
<circle cx="472.1" cy="726.8" r="1.3" fill="#111"/>
<text x="476.9" y="727.8" font-size="2.8" fill="#444">20</text>
<circle cx="472.1" cy="732.2" r="1.6" fill="#111"/>
<text x="476.9" y="733.2" font-size="2.8" fill="#444">30</text>
<circle cx="472.1" cy="737.7" r="1.85" fill="#111"/>
<text x="476.9" y="738.7" font-size="2.8" fill="#444">40</text>
<circle cx="472.1" cy="743.2" r="2.1" fill="#111"/>
<text x="476.9" y="744.2" font-size="2.8" fill="#444">50</text>
<text x="469.6" y="675.9" font-size="3.2" fill="#222">qvalue</text>
<rect x="469.5" y="677.8" width="5.4" height="28" fill="url(#qv)"/>
<text x="477.5" y="679.8" font-size="2.7" fill="#444">1.00</text>
<text x="477.5" y="686.3" font-size="2.7" fill="#444">0.75</text>
<text x="477.5" y="692.8" font-size="2.7" fill="#444">0.50</text>
<text x="477.5" y="699.3" font-size="2.7" fill="#444">0.25</text>
<text x="477.5" y="705.8" font-size="2.7" fill="#444">0.00</text>
<path d="M599.2,36.2L604.7,60.6M599.2,36.2L611.6,67.2M629.4,36L636.6,51.7M620.5,40.8L636.6,51.7M620.5,40.8L604.7,60.6M584.2,42.5L604.7,60.6M584.2,42.5L611.6,67.2M607.5,42.5L604.7,60.6M607.5,42.5L611.6,67.2M596.5,45.5L604.7,60.6M602.3,46.2L604.7,60.6M614.3,45.5L604.7,60.6M614.3,45.5L611.6,67.2M577,50L604.7,60.6M577,50L611.6,67.2M591.3,49.7L604.7,60.6M608.2,49.4L604.7,60.6M597.9,51.7L604.7,60.6M586.6,53.8L604.7,60.6M586.6,53.8L611.6,67.2M573.2,59.2L604.7,60.6M573.2,59.2L611.6,67.2M586.9,58.6L604.7,60.6M586.9,58.6L611.6,67.2M593.8,57.6L604.7,60.6M582.1,62L604.7,60.6M582.1,62L611.6,67.2M589.7,65L604.7,60.6M589.7,65L611.6,67.2M582.8,67.2L604.7,60.6M582.8,67.2L611.6,67.2M582.8,71.6L604.7,60.6M582.8,71.6L611.6,67.2M590.3,72.3L604.7,60.6M590.3,72.3L611.6,67.2M586.9,76.6L604.7,60.6M586.9,76.6L611.6,67.2M624.6,56.8L636.6,51.7M624.6,56.8L611.6,67.2M628.7,57.9L636.6,51.7M633.5,60.3L636.6,51.7M621.2,62.3L611.6,67.2M625.3,65.4L611.6,67.2M625.3,65.4L636.6,51.7M633.5,65L636.6,51.7M628.7,67.7L611.6,67.2M628.7,67.7L636.6,51.7M627.3,71.6L611.6,67.2M627.3,71.6L641,87.3M646.5,63.1L636.6,51.7M647.2,69.1L641,87.3M647.2,69.1L636.6,51.7M661.6,60.3L636.6,51.7M661.6,60.3L641,87.3M642.4,74.7L641,87.3M619.1,74.3L611.6,67.2M623.9,79.8L611.6,67.2M623.9,79.8L641,87.3M607.5,76.8L611.6,67.2M615,77.7L611.6,67.2M609.5,80.9L611.6,67.2M604,83.6L611.6,67.2M604,83.6L604.7,60.6M616,83.6L611.6,67.2M616,83.6L641,87.3M604.7,92.8L611.6,67.2M604.7,92.8L604.7,60.6M617.7,92.8L641,87.3M617.7,92.8L611.6,67.2M610.9,95.5L611.6,67.2M610.9,95.5L641,87.3M656.8,86.4L641,87.3M652.7,90.8L641,87.3M636.2,104.2L641,87.3M655.4,103.1L641,87.3M631.9,107.3L641,87.3M627.3,109.6L641,87.3M677.1,109.6L686.1,115.6M672.5,112.3L686.1,115.6M672.5,112.3L689.1,121.3M668,114.1L686.1,115.6M668,114.1L665.5,136M677.1,114.1L686.1,115.6M677.1,114.1L689.1,121.3M668,117.9L686.1,115.6M668,117.9L665.5,136M673.3,118.6L686.1,115.6M673.3,118.6L689.1,121.3M660.5,121.6L665.5,136M667,121.9L665.5,136M667,121.9L686.1,115.6M711,106.6L689.1,121.3M711,106.6L686.1,115.6M715.5,111.4L689.1,121.3M715.5,111.4L686.1,115.6M716.2,117.1L689.1,121.3M716.2,117.1L686.1,115.6M698.2,129.2L689.1,121.3M710.2,129.5L689.1,121.3M710.2,129.5L686.1,115.6M714,133.7L689.1,121.3M714,133.7L685.3,146M711,138.5L685.3,146M711,138.5L689.1,121.3M698.9,135.5L685.3,146M698.9,135.5L689.1,121.3M680.8,136L685.3,146M680.8,136L665.5,136M685.3,133.7L685.3,146M685.3,133.7L689.1,121.3M689.9,134.9L685.3,146M689.9,134.9L689.1,121.3M692.1,142.7L685.3,146M698.9,142.4L685.3,146M658.2,153.6L665.5,136M658.2,153.6L685.3,146M657.5,159.3L665.5,136M657.5,159.3L685.3,146M665,159L665.5,136M665,159L685.3,146M674,155.6L685.3,146M674,155.6L665.5,136M682,158.6L685.3,146M665.8,164.1L685.3,146M665.8,164.1L665.5,136M673.3,163.4L685.3,146M673.3,163.4L665.5,136M697.4,165.3L685.3,146M706.4,162L685.3,146M711.7,158.1L685.3,146M704.6,167.2L685.3,146M687.6,171.1L685.3,146M695.6,171.1L685.3,146M619.1,74.3L611.6,67.2M623.9,79.8L611.6,67.2M627.3,71.6L611.6,67.2M642.4,74.7L611.6,67.2M680.8,136L611.6,67.2M685.3,133.7L611.6,67.2M689.9,134.9L611.6,67.2M692.1,142.7L611.6,67.2M668,117.9L611.6,67.2M673.3,118.6L611.6,67.2M660.5,121.6L611.6,67.2M656.8,86.4L611.6,67.2M668,117.9L604.7,60.6M673.3,118.6L604.7,60.6M627.3,109.6L604.7,60.6M631.9,107.3L604.7,60.6M624.6,56.8L604.7,60.6M628.7,57.9L604.7,60.6M629.4,36L604.7,60.6M620.5,40.8L604.7,60.6M656.8,86.4L641,87.3M652.7,90.8L641,87.3M655.4,103.1L641,87.3M636.2,104.2L641,87.3M631.9,107.3L641,87.3M627.3,109.6L641,87.3M660.5,121.6L641,87.3M667,121.9L641,87.3M668,114.1L641,87.3M646.5,63.1L641,87.3M647.2,69.1L641,87.3M661.6,60.3L641,87.3M619.1,74.3L641,87.3M629.4,36L636.6,51.7M661.6,60.3L636.6,51.7M646.5,63.1L636.6,51.7M624.6,56.8L636.6,51.7M628.7,57.9L636.6,51.7M633.5,60.3L636.6,51.7M631.9,107.3L665.5,136M627.3,109.6L665.5,136M636.2,104.2L665.5,136M655.4,103.1L665.5,136M660.5,121.6L665.5,136M667,121.9L665.5,136M668,117.9L665.5,136M673.3,118.6L665.5,136M680.8,136L665.5,136M685.3,133.7L665.5,136M668,117.9L685.3,146M673.3,118.6L685.3,146M698.2,129.2L685.3,146M710.2,129.5L685.3,146M714,133.7L685.3,146M711,138.5L685.3,146M698.9,135.5L685.3,146M680.8,136L685.3,146M685.3,133.7L685.3,146M689.9,134.9L685.3,146M674,155.6L685.3,146M665,159L685.3,146M711,106.6L686.1,115.6M715.5,111.4L686.1,115.6M716.2,117.1L686.1,115.6M698.2,129.2L686.1,115.6M710.2,129.5L686.1,115.6M668,114.1L686.1,115.6M672.5,112.3L686.1,115.6M677.1,109.6L686.1,115.6M711,106.6L689.1,121.3M715.5,111.4L689.1,121.3M716.2,117.1L689.1,121.3M698.9,135.5L689.1,121.3M714,133.7L689.1,121.3M668,117.9L689.1,121.3M673.3,118.6L689.1,121.3" stroke="#cacad4" stroke-width="0.38" fill="none"/>
<ellipse cx="599.2" cy="36.2" rx="2.15" ry="1.7" fill="#ebbe2a"/>
<ellipse cx="629.4" cy="36" rx="2.15" ry="1.7" fill="#e6ab34"/>
<ellipse cx="620.5" cy="40.8" rx="2.15" ry="1.7" fill="#eec42c"/>
<ellipse cx="584.2" cy="42.5" rx="2.15" ry="1.7" fill="#ebbe2a"/>
<ellipse cx="607.5" cy="42.5" rx="2.15" ry="1.7" fill="#e6ab34"/>
<ellipse cx="596.5" cy="45.5" rx="2.15" ry="1.7" fill="#eec42c"/>
<ellipse cx="602.3" cy="46.2" rx="2.15" ry="1.7" fill="#ebbe2a"/>
<ellipse cx="614.3" cy="45.5" rx="2.15" ry="1.7" fill="#e6ab34"/>
<ellipse cx="577" cy="50" rx="2.15" ry="1.7" fill="#eec42c"/>
<ellipse cx="591.3" cy="49.7" rx="2.15" ry="1.7" fill="#ebbe2a"/>
<ellipse cx="608.2" cy="49.4" rx="2.15" ry="1.7" fill="#e6ab34"/>
<ellipse cx="597.9" cy="51.7" rx="2.15" ry="1.7" fill="#eec42c"/>
<ellipse cx="586.6" cy="53.8" rx="2.15" ry="1.7" fill="#ebbe2a"/>
<ellipse cx="573.2" cy="59.2" rx="2.15" ry="1.7" fill="#e6ab34"/>
<ellipse cx="586.9" cy="58.6" rx="2.15" ry="1.7" fill="#eec42c"/>
<ellipse cx="593.8" cy="57.6" rx="2.15" ry="1.7" fill="#ebbe2a"/>
<ellipse cx="582.1" cy="62" rx="2.15" ry="1.7" fill="#e6ab34"/>
<ellipse cx="589.7" cy="65" rx="2.15" ry="1.7" fill="#eec42c"/>
<ellipse cx="582.8" cy="67.2" rx="2.15" ry="1.7" fill="#ebbe2a"/>
<ellipse cx="582.8" cy="71.6" rx="2.15" ry="1.7" fill="#e6ab34"/>
<ellipse cx="590.3" cy="72.3" rx="2.15" ry="1.7" fill="#eec42c"/>
<ellipse cx="586.9" cy="76.6" rx="2.15" ry="1.7" fill="#ebbe2a"/>
<ellipse cx="624.6" cy="56.8" rx="2.15" ry="1.7" fill="#e6ab34"/>
<ellipse cx="628.7" cy="57.9" rx="2.15" ry="1.7" fill="#eec42c"/>
<ellipse cx="633.5" cy="60.3" rx="2.15" ry="1.7" fill="#ebbe2a"/>
<ellipse cx="621.2" cy="62.3" rx="2.15" ry="1.7" fill="#e6ab34"/>
<ellipse cx="625.3" cy="65.4" rx="2.15" ry="1.7" fill="#eec42c"/>
<ellipse cx="633.5" cy="65" rx="2.15" ry="1.7" fill="#ebbe2a"/>
<ellipse cx="628.7" cy="67.7" rx="2.15" ry="1.7" fill="#e6ab34"/>
<ellipse cx="627.3" cy="71.6" rx="2.15" ry="1.7" fill="#eec42c"/>
<ellipse cx="646.5" cy="63.1" rx="2.15" ry="1.7" fill="#ebbe2a"/>
<ellipse cx="647.2" cy="69.1" rx="2.15" ry="1.7" fill="#e6ab34"/>
<ellipse cx="661.6" cy="60.3" rx="2.15" ry="1.7" fill="#eec42c"/>
<ellipse cx="642.4" cy="74.7" rx="2.15" ry="1.7" fill="#ebbe2a"/>
<ellipse cx="619.1" cy="74.3" rx="2.15" ry="1.7" fill="#e6ab34"/>
<ellipse cx="623.9" cy="79.8" rx="2.15" ry="1.7" fill="#eec42c"/>
<ellipse cx="607.5" cy="76.8" rx="2.15" ry="1.7" fill="#ebbe2a"/>
<ellipse cx="615" cy="77.7" rx="2.15" ry="1.7" fill="#e6ab34"/>
<ellipse cx="609.5" cy="80.9" rx="2.15" ry="1.7" fill="#eec42c"/>
<ellipse cx="604" cy="83.6" rx="2.15" ry="1.7" fill="#ebbe2a"/>
<ellipse cx="616" cy="83.6" rx="2.15" ry="1.7" fill="#e6ab34"/>
<ellipse cx="604.7" cy="92.8" rx="2.15" ry="1.7" fill="#eec42c"/>
<ellipse cx="617.7" cy="92.8" rx="2.15" ry="1.7" fill="#ebbe2a"/>
<ellipse cx="610.9" cy="95.5" rx="2.15" ry="1.7" fill="#e6ab34"/>
<ellipse cx="656.8" cy="86.4" rx="2.15" ry="1.7" fill="#eec42c"/>
<ellipse cx="652.7" cy="90.8" rx="2.15" ry="1.7" fill="#ebbe2a"/>
<ellipse cx="636.2" cy="104.2" rx="2.15" ry="1.7" fill="#e6ab34"/>
<ellipse cx="655.4" cy="103.1" rx="2.15" ry="1.7" fill="#eec42c"/>
<ellipse cx="631.9" cy="107.3" rx="2.15" ry="1.7" fill="#ebbe2a"/>
<ellipse cx="627.3" cy="109.6" rx="2.15" ry="1.7" fill="#e6ab34"/>
<ellipse cx="677.1" cy="109.6" rx="2.15" ry="1.7" fill="#eec42c"/>
<ellipse cx="672.5" cy="112.3" rx="2.15" ry="1.7" fill="#ebbe2a"/>
<ellipse cx="668" cy="114.1" rx="2.15" ry="1.7" fill="#e6ab34"/>
<ellipse cx="677.1" cy="114.1" rx="2.15" ry="1.7" fill="#eec42c"/>
<ellipse cx="668" cy="117.9" rx="2.15" ry="1.7" fill="#ebbe2a"/>
<ellipse cx="673.3" cy="118.6" rx="2.15" ry="1.7" fill="#e6ab34"/>
<ellipse cx="660.5" cy="121.6" rx="2.15" ry="1.7" fill="#eec42c"/>
<ellipse cx="667" cy="121.9" rx="2.15" ry="1.7" fill="#ebbe2a"/>
<ellipse cx="711" cy="106.6" rx="2.15" ry="1.7" fill="#e6ab34"/>
<ellipse cx="715.5" cy="111.4" rx="2.15" ry="1.7" fill="#eec42c"/>
<ellipse cx="716.2" cy="117.1" rx="2.15" ry="1.7" fill="#ebbe2a"/>
<ellipse cx="698.2" cy="129.2" rx="2.15" ry="1.7" fill="#e6ab34"/>
<ellipse cx="710.2" cy="129.5" rx="2.15" ry="1.7" fill="#eec42c"/>
<ellipse cx="714" cy="133.7" rx="2.15" ry="1.7" fill="#ebbe2a"/>
<ellipse cx="711" cy="138.5" rx="2.15" ry="1.7" fill="#e6ab34"/>
<ellipse cx="698.9" cy="135.5" rx="2.15" ry="1.7" fill="#eec42c"/>
<ellipse cx="680.8" cy="136" rx="2.15" ry="1.7" fill="#ebbe2a"/>
<ellipse cx="685.3" cy="133.7" rx="2.15" ry="1.7" fill="#e6ab34"/>
<ellipse cx="689.9" cy="134.9" rx="2.15" ry="1.7" fill="#eec42c"/>
<ellipse cx="692.1" cy="142.7" rx="2.15" ry="1.7" fill="#ebbe2a"/>
<ellipse cx="698.9" cy="142.4" rx="2.15" ry="1.7" fill="#e6ab34"/>
<ellipse cx="658.2" cy="153.6" rx="2.15" ry="1.7" fill="#eec42c"/>
<ellipse cx="657.5" cy="159.3" rx="2.15" ry="1.7" fill="#ebbe2a"/>
<ellipse cx="665" cy="159" rx="2.15" ry="1.7" fill="#e6ab34"/>
<ellipse cx="674" cy="155.6" rx="2.15" ry="1.7" fill="#eec42c"/>
<ellipse cx="682" cy="158.6" rx="2.15" ry="1.7" fill="#ebbe2a"/>
<ellipse cx="665.8" cy="164.1" rx="2.15" ry="1.7" fill="#e6ab34"/>
<ellipse cx="673.3" cy="163.4" rx="2.15" ry="1.7" fill="#eec42c"/>
<ellipse cx="697.4" cy="165.3" rx="2.15" ry="1.7" fill="#ebbe2a"/>
<ellipse cx="706.4" cy="162" rx="2.15" ry="1.7" fill="#e6ab34"/>
<ellipse cx="711.7" cy="158.1" rx="2.15" ry="1.7" fill="#eec42c"/>
<ellipse cx="704.6" cy="167.2" rx="2.15" ry="1.7" fill="#ebbe2a"/>
<ellipse cx="687.6" cy="171.1" rx="2.15" ry="1.7" fill="#e6ab34"/>
<ellipse cx="695.6" cy="171.1" rx="2.15" ry="1.7" fill="#eec42c"/>
<path d="M595.12,36.2H603.29M625.31,36H633.49M616.41,40.8H624.59M580.12,42.5H588.29M603.41,42.5H611.59M592.41,45.5H600.59M598.21,46.2H606.38M610.21,45.5H618.38M572.91,50H581.09M587.21,49.7H595.38M604.12,49.4H612.29M593.81,51.7H601.99M582.51,53.8H590.69M569.12,59.2H577.29M582.81,58.6H590.99M589.71,57.6H597.88M578.01,62H586.19M585.62,65H593.79M578.71,67.2H586.88M578.71,71.6H586.88M586.21,72.3H594.38M582.81,76.6H590.99M620.51,56.8H628.69M624.62,57.9H632.79M629.41,60.3H637.59M617.12,62.3H625.29M621.21,65.4H629.38M629.41,65H637.59M624.62,67.7H632.79M623.21,71.6H631.38M642.41,63.1H650.59M643.12,69.1H651.29M657.51,60.3H665.69M638.31,74.7H646.49M615.01,74.3H623.19M619.81,79.8H627.99M603.41,76.8H611.59M610.91,77.7H619.09M605.41,80.9H613.59M599.91,83.6H608.09M611.91,83.6H620.09M600.62,92.8H608.79M613.62,92.8H621.79M606.81,95.5H614.99M652.71,86.4H660.88M648.62,90.8H656.79M632.12,104.2H640.29M651.31,103.1H659.49M627.81,107.3H635.99M623.21,109.6H631.38M673.01,109.6H681.19M668.41,112.3H676.59M663.91,114.1H672.09M673.01,114.1H681.19M663.91,117.9H672.09M669.21,118.6H677.38M656.41,121.6H664.59M662.91,121.9H671.09M706.91,106.6H715.09M711.41,111.4H719.59M712.12,117.1H720.29M694.12,129.2H702.29M706.12,129.5H714.29M709.91,133.7H718.09M706.91,138.5H715.09M694.81,135.5H702.99M676.71,136H684.88M681.21,133.7H689.38M685.81,134.9H693.99M688.01,142.7H696.19M694.81,142.4H702.99M654.12,153.6H662.29M653.41,159.3H661.59M660.91,159H669.09M669.91,155.6H678.09M677.91,158.6H686.09M661.71,164.1H669.88M669.21,163.4H677.38M693.31,165.3H701.49M702.31,162H710.49M707.62,158.1H715.79M700.51,167.2H708.69M683.51,171.1H691.69M691.51,171.1H699.69" stroke="#3a3a3a" stroke-opacity="0.6" stroke-width="0.45"/>
<rect x="601.8" y="57.85" width="5.8" height="5.5" fill="#8b70c0"/>
<rect x="607.6" y="64.45" width="8" height="5.5" fill="#a08ad0"/>
<rect x="633.6" y="48.95" width="6" height="5.5" fill="#b0a0dc"/>
<rect x="638.25" y="84.8" width="5.5" height="5" fill="#a898d8"/>
<rect x="683.1" y="113.35" width="6" height="4.5" fill="#9a80c8"/>
<rect x="686.1" y="119.05" width="6" height="4.5" fill="#b0a8e0"/>
<rect x="662.5" y="133" width="6" height="6" fill="#a090d0"/>
<rect x="680.8" y="143" width="9" height="6" fill="#8870c0"/>
<path d="M597.74,60.6H611.66M602,67.2H621.2M629.4,51.7H643.8M634.4,87.3H647.6M678.9,115.6H693.3M681.9,121.3H696.3M658.3,136H672.7M674.5,146H696.1" stroke="#444" stroke-opacity="0.45" stroke-width="0.45"/>
<text x="710.35" y="16.1" font-size="3.6" text-anchor="middle" fill="#222">−log<tspan font-size="2.3" dy="0.9">10</tspan><tspan dy="-0.9">(Pvalue)</tspan></text>
<rect x="693.7" y="18" width="32.3" height="5.8" fill="url(#pv)"/>
<path d="M693.7,23.8H726M693.7,23.8v0.8M726,23.8v0.8" stroke="#555" stroke-width="0.3"/>
<text x="693.7" y="29" font-size="2.9" text-anchor="middle" fill="#333">2</text>
<text x="726" y="29" font-size="2.9" text-anchor="middle" fill="#333">4</text>
<text x="709.85" y="36.7" font-size="3.6" text-anchor="middle" fill="#222">log<tspan font-size="2.3" dy="0.9">2</tspan><tspan dy="-0.9">(Fold Change)</tspan></text>
<rect x="693.7" y="38.9" width="32.3" height="5.7" fill="url(#fc)"/>
<path d="M693.7,44.6H726M693.7,44.6v0.8M709.85,44.6v0.8M726,44.6v0.8" stroke="#555" stroke-width="0.3"/>
<text x="693.7" y="49.3" font-size="2.9" text-anchor="middle" fill="#333">−10</text>
<text x="709.85" y="49.3" font-size="2.9" text-anchor="middle" fill="#333">0</text>
<text x="726" y="49.3" font-size="2.9" text-anchor="middle" fill="#333">10</text>
<path d="M576.9,287.9L578,298.4M582.2,286L578,298.4M587.9,286.4L578,298.4M570.9,291.5L578,298.4M566,298.1L578,298.4M591.2,297.3L578,298.4M591.2,297.3L587.3,314.5M586.2,299.9L578,298.4M586.2,299.9L587.3,314.5M599.4,299.7L587.3,314.5M599.4,299.7L578,298.4M591.7,302.5L587.3,314.5M591.7,302.5L578,298.4M576.4,305L578,298.4M576.4,305L587.3,314.5M582.9,304.7L578,298.4M582.9,304.7L587.3,314.5M589,307.4L587.3,314.5M589,307.4L578,298.4M589,307.4L594.5,326M598.3,305.2L587.3,314.5M598.3,305.2L594.5,326M604.1,305.8L587.3,314.5M604.1,305.8L594.5,326M571.2,309.6L578,298.4M571.2,309.6L587.3,314.5M576.7,310.1L587.3,314.5M576.7,310.1L578,298.4M582.2,311L587.3,314.5M582.2,311L578,298.4M582.2,311L594.5,326M571.4,314.8L587.3,314.5M571.4,314.8L578,298.4M577.8,315.6L587.3,314.5M577.8,315.6L578,298.4M577.8,315.6L594.5,326M600.5,312.3L587.3,314.5M600.5,312.3L594.5,326M596.6,317.8L594.5,326M596.6,317.8L587.3,314.5M568.7,321.4L587.3,314.5M568.7,321.4L578,298.4M574.7,323.3L587.3,314.5M574.7,323.3L594.5,326M569.2,326.9L587.3,314.5M569.2,326.9L594.5,326M580.8,326L587.3,314.5M580.8,326L594.5,326M587,327.3L594.5,326M587,327.3L587.3,314.5M574.7,329.9L587.3,314.5M574.7,329.9L594.5,326M570.9,332.8L594.5,326M570.9,332.8L587.3,314.5M578,334.2L594.5,326M578,334.2L587.3,314.5M583.5,333.9L594.5,326M583.5,333.9L587.3,314.5M590.1,335.3L594.5,326M574.7,337.5L594.5,326M574.7,337.5L587.3,314.5M580.2,340.8L594.5,326M580.2,340.8L587.3,314.5M585.9,340.1L594.5,326M630.1,313.8L651,290.4M630.1,313.8L594.5,326M629,317L651,290.4M629,317L594.5,326M624.6,331.7L594.5,326M624.6,331.7L649.2,350.9M618,334.8L594.5,326M618,334.8L649.2,350.9M627.9,338.6L649.2,350.9M627.9,338.6L658.3,350.9M616.4,339.7L594.5,326M616.4,339.7L649.2,350.9M613.1,343.8L594.5,326M613.1,343.8L649.2,350.9M625.1,343.8L649.2,350.9M625.1,343.8L658.3,350.9M611.4,348.5L594.5,326M611.4,348.5L649.2,350.9M615.8,347.4L594.5,326M615.8,347.4L649.2,350.9M655,330.4L668.4,346.1M655,330.4L658.3,350.9M659.8,331L668.4,346.1M659.8,331L658.3,350.9M664.2,332.6L668.4,346.1M664.2,332.6L658.3,350.9M675.5,330.1L668.4,346.1M680.4,333.7L668.4,346.1M647.5,334.8L649.2,350.9M647.5,334.8L658.3,350.9M651.9,333.4L649.2,350.9M651.9,333.4L658.3,350.9M656.3,336.2L658.3,350.9M656.3,336.2L668.4,346.1M656.3,336.2L649.2,350.9M661.8,337.8L668.4,346.1M661.8,337.8L658.3,350.9M661.8,337.8L649.2,350.9M667.3,335.3L668.4,346.1M667.3,335.3L658.3,350.9M670,339.9L668.4,346.1M670,339.9L658.3,350.9M644.8,339.7L649.2,350.9M644.8,339.7L658.3,350.9M651.9,341.7L649.2,350.9M651.9,341.7L658.3,350.9M651.9,341.7L668.4,346.1M658.5,343L658.3,350.9M658.5,343L668.4,346.1M658.5,343L649.2,350.9M646.4,344.3L649.2,350.9M646.4,344.3L658.3,350.9M643.2,348.7L649.2,350.9M643.2,348.7L658.3,350.9M664,349.6L668.4,346.1M664,349.6L658.3,350.9M664,349.6L649.2,350.9M674.4,345.8L668.4,346.1M674.4,345.8L658.3,350.9M681.5,339.2L668.4,346.1M685.9,340.8L668.4,346.1M685.3,346.8L668.4,346.1M687.5,351.6L668.4,346.1M687.5,351.6L658.3,350.9M674.9,351.8L668.4,346.1M674.9,351.8L658.3,350.9M670,353.1L668.4,346.1M670,353.1L658.3,350.9M641,353.4L649.2,350.9M641,353.4L658.3,350.9M643.7,357.3L649.2,350.9M643.7,357.3L658.3,350.9M648.4,358.1L649.2,350.9M648.4,358.1L658.3,350.9M653.6,357L649.2,350.9M653.6,357L658.3,350.9M653.6,357L668.4,346.1M661.2,357.3L658.3,350.9M661.2,357.3L668.4,346.1M661.2,357.3L649.2,350.9M667.3,358.1L658.3,350.9M667.3,358.1L668.4,346.1M667.3,358.1L649.2,350.9M674.4,358.1L668.4,346.1M674.4,358.1L658.3,350.9M684.2,355.6L668.4,346.1M684.2,355.6L658.3,350.9M687,359.7L668.4,346.1M687,359.7L658.3,350.9M641.5,362.2L649.2,350.9M641.5,362.2L658.3,350.9M645.9,363.3L649.2,350.9M645.9,363.3L658.3,350.9M653,363.3L649.2,350.9M653,363.3L658.3,350.9M658.5,361.9L658.3,350.9M658.5,361.9L649.2,350.9M658.5,361.9L668.4,346.1M666.7,364.1L658.3,350.9M666.7,364.1L668.4,346.1M671.6,361.6L668.4,346.1M671.6,361.6L658.3,350.9M683.7,363.6L668.4,346.1M683.7,363.6L658.3,350.9M645.9,367.7L649.2,350.9M645.9,367.7L658.3,350.9M649.7,366.6L649.2,350.9M649.7,366.6L658.3,350.9M655.2,368.2L658.3,350.9M655.2,368.2L649.2,350.9M661.8,366L658.3,350.9M661.8,366L649.2,350.9M671.1,366.6L658.3,350.9M671.1,366.6L668.4,346.1M681.5,368L668.4,346.1M681.5,368L658.3,350.9M649.7,371.5L649.2,350.9M649.7,371.5L658.3,350.9M654.1,373.5L658.3,350.9M654.1,373.5L649.2,350.9M659,369.9L658.3,350.9M659,369.9L649.2,350.9M665.1,369.9L658.3,350.9M665.1,369.9L668.4,346.1M668.9,370.6L658.3,350.9M668.9,370.6L668.4,346.1M658.5,373.9L658.3,350.9M658.5,373.9L649.2,350.9M663.4,373.5L658.3,350.9M663.4,373.5L649.2,350.9M637.7,373.7L649.2,350.9M637.7,373.7L658.3,350.9M678.2,372.6L668.4,346.1M678.2,372.6L658.3,350.9M699.6,331.5L714.1,335.2M701.2,337L714.1,335.2M702.1,341.9L714.1,335.2M702.3,347.6L714.1,335.2M664.9,273.2L651,290.4M664.9,273.2L670.6,296.2M660.5,275.7L651,290.4M660.5,275.7L670.6,296.2M656.2,276.8L651,290.4M666,279.2L670.6,296.2M666,279.2L651,290.4M671,277.9L670.6,296.2M671,277.9L651,290.4M662.7,308.8L670.6,296.2M662.7,308.8L651,290.4M652.9,313.2L651,290.4M652.9,313.2L670.6,296.2M657.3,315.2L670.6,296.2M657.3,315.2L651,290.4M670.6,310.8L670.6,296.2M677,310.2L670.6,296.2M682.5,309.7L670.6,296.2M674.8,315.2L670.6,296.2M679.7,314.9L670.6,296.2M686.3,313.2L670.6,296.2M684.7,317.4L670.6,296.2M684.7,317.4L668.4,346.1M662.7,308.8L668.4,346.1M670.6,310.8L668.4,346.1M677,310.2L668.4,346.1M682.5,309.7L668.4,346.1M674.8,315.2L668.4,346.1M679.7,314.9L668.4,346.1M686.3,313.2L668.4,346.1M684.7,317.4L668.4,346.1M699.6,331.5L668.4,346.1M701.2,337L668.4,346.1M702.1,341.9L668.4,346.1M702.3,347.6L668.4,346.1M652.9,313.2L658.3,350.9M657.3,315.2L658.3,350.9M662.7,308.8L658.3,350.9M670.6,310.8L658.3,350.9M629.9,313.8L658.3,350.9M624.6,331.7L658.3,350.9M618,334.8L658.3,350.9M629,317L649.2,350.9M627.9,338.6L649.2,350.9M616.4,339.7L649.2,350.9M613.1,343.8L649.2,350.9M625.1,343.8L649.2,350.9M611.4,348.5L649.2,350.9M615.8,347.4L649.2,350.9M652.9,313.2L649.2,350.9M662.7,308.8L670.6,296.2M670.6,310.8L670.6,296.2M677,310.2L670.6,296.2M682.5,309.7L670.6,296.2M674.8,315.2L670.6,296.2M679.7,314.9L670.6,296.2M686.3,313.2L670.6,296.2M684.7,317.4L670.6,296.2M657.3,315.2L670.6,296.2M652.9,313.2L670.6,296.2M664.9,273.2L670.6,296.2M660.5,275.7L670.6,296.2M656.2,276.8L670.6,296.2M666,279.2L670.6,296.2M671,277.9L670.6,296.2M664.9,273.2L651,290.4M660.5,275.7L651,290.4M656.2,276.8L651,290.4M666,279.2L651,290.4M671,277.9L651,290.4M662.7,308.8L651,290.4M629.9,313.8L651,290.4M629,317L651,290.4M629,317L594.5,326M630.1,313.8L594.5,326M624.6,331.7L594.5,326M618,334.8L594.5,326M627.9,338.6L594.5,326M616.4,339.7L594.5,326M613.1,343.8L594.5,326M625.1,343.8L594.5,326M611.4,348.5L594.5,326M615.8,347.4L594.5,326M641,353.4L594.5,326M643.2,348.7L594.5,326M699.6,331.5L714.1,335.2M701.2,337L714.1,335.2M702.1,341.9L714.1,335.2M702.3,347.6L714.1,335.2M687.5,351.6L714.1,335.2M685.3,346.8L714.1,335.2" stroke="#cacad4" stroke-width="0.38" fill="none"/>
<ellipse cx="576.9" cy="287.9" rx="2.15" ry="1.85" fill="#db7a30"/>
<ellipse cx="582.2" cy="286" rx="2.15" ry="1.85" fill="#e4a12c"/>
<ellipse cx="587.9" cy="286.4" rx="2.15" ry="1.85" fill="#e9c229"/>
<ellipse cx="570.9" cy="291.5" rx="2.15" ry="1.85" fill="#e4a12c"/>
<ellipse cx="566" cy="298.1" rx="2.15" ry="1.85" fill="#e9c229"/>
<ellipse cx="591.2" cy="297.3" rx="2.15" ry="1.85" fill="#db7a30"/>
<ellipse cx="586.2" cy="299.9" rx="2.15" ry="1.85" fill="#db7a30"/>
<ellipse cx="599.4" cy="299.7" rx="2.15" ry="1.85" fill="#db7a30"/>
<ellipse cx="591.7" cy="302.5" rx="2.15" ry="1.85" fill="#e9c229"/>
<ellipse cx="576.4" cy="305" rx="2.15" ry="1.85" fill="#db7a30"/>
<ellipse cx="582.9" cy="304.7" rx="2.15" ry="1.85" fill="#e9c229"/>
<ellipse cx="589" cy="307.4" rx="2.15" ry="1.85" fill="#e9c229"/>
<ellipse cx="598.3" cy="305.2" rx="2.15" ry="1.85" fill="#d4552c"/>
<ellipse cx="604.1" cy="305.8" rx="2.15" ry="1.85" fill="#e9c229"/>
<ellipse cx="571.2" cy="309.6" rx="2.15" ry="1.85" fill="#db7a30"/>
<ellipse cx="576.7" cy="310.1" rx="2.15" ry="1.85" fill="#d4552c"/>
<ellipse cx="582.2" cy="311" rx="2.15" ry="1.85" fill="#db7a30"/>
<ellipse cx="571.4" cy="314.8" rx="2.15" ry="1.85" fill="#e9c229"/>
<ellipse cx="577.8" cy="315.6" rx="2.15" ry="1.85" fill="#db7a30"/>
<ellipse cx="600.5" cy="312.3" rx="2.15" ry="1.85" fill="#db7a30"/>
<ellipse cx="596.6" cy="317.8" rx="2.15" ry="1.85" fill="#d4552c"/>
<ellipse cx="568.7" cy="321.4" rx="2.15" ry="1.85" fill="#db7a30"/>
<ellipse cx="574.7" cy="323.3" rx="2.15" ry="1.85" fill="#e9c229"/>
<ellipse cx="569.2" cy="326.9" rx="2.15" ry="1.85" fill="#e4a12c"/>
<ellipse cx="580.8" cy="326" rx="2.15" ry="1.85" fill="#e9c229"/>
<ellipse cx="587" cy="327.3" rx="2.15" ry="1.85" fill="#d4552c"/>
<ellipse cx="574.7" cy="329.9" rx="2.15" ry="1.85" fill="#db7a30"/>
<ellipse cx="570.9" cy="332.8" rx="2.15" ry="1.85" fill="#db7a30"/>
<ellipse cx="578" cy="334.2" rx="2.15" ry="1.85" fill="#e9c229"/>
<ellipse cx="583.5" cy="333.9" rx="2.15" ry="1.85" fill="#e9c229"/>
<ellipse cx="590.1" cy="335.3" rx="2.15" ry="1.85" fill="#db7a30"/>
<ellipse cx="574.7" cy="337.5" rx="2.15" ry="1.85" fill="#db7a30"/>
<ellipse cx="580.2" cy="340.8" rx="2.15" ry="1.85" fill="#e9c229"/>
<ellipse cx="585.9" cy="340.1" rx="2.15" ry="1.85" fill="#db7a30"/>
<ellipse cx="630.1" cy="313.8" rx="2.15" ry="1.85" fill="#e4a12c"/>
<ellipse cx="629" cy="317" rx="2.15" ry="1.85" fill="#db7a30"/>
<ellipse cx="624.6" cy="331.7" rx="2.15" ry="1.85" fill="#db7a30"/>
<ellipse cx="618" cy="334.8" rx="2.15" ry="1.85" fill="#db7a30"/>
<ellipse cx="627.9" cy="338.6" rx="2.15" ry="1.85" fill="#db7a30"/>
<ellipse cx="616.4" cy="339.7" rx="2.15" ry="1.85" fill="#db7a30"/>
<ellipse cx="613.1" cy="343.8" rx="2.15" ry="1.85" fill="#db7a30"/>
<ellipse cx="625.1" cy="343.8" rx="2.15" ry="1.85" fill="#db7a30"/>
<ellipse cx="611.4" cy="348.5" rx="2.15" ry="1.85" fill="#e9c229"/>
<ellipse cx="615.8" cy="347.4" rx="2.15" ry="1.85" fill="#e9c229"/>
<ellipse cx="655" cy="330.4" rx="2.15" ry="1.85" fill="#e9c229"/>
<ellipse cx="659.8" cy="331" rx="2.15" ry="1.85" fill="#d4552c"/>
<ellipse cx="664.2" cy="332.6" rx="2.15" ry="1.85" fill="#db7a30"/>
<ellipse cx="675.5" cy="330.1" rx="2.15" ry="1.85" fill="#e4a12c"/>
<ellipse cx="680.4" cy="333.7" rx="2.15" ry="1.85" fill="#db7a30"/>
<ellipse cx="647.5" cy="334.8" rx="2.15" ry="1.85" fill="#e9c229"/>
<ellipse cx="651.9" cy="333.4" rx="2.15" ry="1.85" fill="#e9c229"/>
<ellipse cx="656.3" cy="336.2" rx="2.15" ry="1.85" fill="#db7a30"/>
<ellipse cx="661.8" cy="337.8" rx="2.15" ry="1.85" fill="#db7a30"/>
<ellipse cx="667.3" cy="335.3" rx="2.15" ry="1.85" fill="#e9c229"/>
<ellipse cx="670" cy="339.9" rx="2.15" ry="1.85" fill="#e4a12c"/>
<ellipse cx="644.8" cy="339.7" rx="2.15" ry="1.85" fill="#e9c229"/>
<ellipse cx="651.9" cy="341.7" rx="2.15" ry="1.85" fill="#db7a30"/>
<ellipse cx="658.5" cy="343" rx="2.15" ry="1.85" fill="#e9c229"/>
<ellipse cx="646.4" cy="344.3" rx="2.15" ry="1.85" fill="#db7a30"/>
<ellipse cx="643.2" cy="348.7" rx="2.15" ry="1.85" fill="#e9c229"/>
<ellipse cx="664" cy="349.6" rx="2.15" ry="1.85" fill="#db7a30"/>
<ellipse cx="674.4" cy="345.8" rx="2.15" ry="1.85" fill="#e9c229"/>
<ellipse cx="681.5" cy="339.2" rx="2.15" ry="1.85" fill="#e9c229"/>
<ellipse cx="685.9" cy="340.8" rx="2.15" ry="1.85" fill="#e9c229"/>
<ellipse cx="685.3" cy="346.8" rx="2.15" ry="1.85" fill="#e9c229"/>
<ellipse cx="687.5" cy="351.6" rx="2.15" ry="1.85" fill="#db7a30"/>
<ellipse cx="674.9" cy="351.8" rx="2.15" ry="1.85" fill="#e9c229"/>
<ellipse cx="670" cy="353.1" rx="2.15" ry="1.85" fill="#db7a30"/>
<ellipse cx="641" cy="353.4" rx="2.15" ry="1.85" fill="#e9c229"/>
<ellipse cx="643.7" cy="357.3" rx="2.15" ry="1.85" fill="#d4552c"/>
<ellipse cx="648.4" cy="358.1" rx="2.15" ry="1.85" fill="#db7a30"/>
<ellipse cx="653.6" cy="357" rx="2.15" ry="1.85" fill="#e9c229"/>
<ellipse cx="661.2" cy="357.3" rx="2.15" ry="1.85" fill="#e9c229"/>
<ellipse cx="667.3" cy="358.1" rx="2.15" ry="1.85" fill="#e9c229"/>
<ellipse cx="674.4" cy="358.1" rx="2.15" ry="1.85" fill="#db7a30"/>
<ellipse cx="684.2" cy="355.6" rx="2.15" ry="1.85" fill="#db7a30"/>
<ellipse cx="687" cy="359.7" rx="2.15" ry="1.85" fill="#e9c229"/>
<ellipse cx="641.5" cy="362.2" rx="2.15" ry="1.85" fill="#e9c229"/>
<ellipse cx="645.9" cy="363.3" rx="2.15" ry="1.85" fill="#db7a30"/>
<ellipse cx="653" cy="363.3" rx="2.15" ry="1.85" fill="#db7a30"/>
<ellipse cx="658.5" cy="361.9" rx="2.15" ry="1.85" fill="#d4552c"/>
<ellipse cx="666.7" cy="364.1" rx="2.15" ry="1.85" fill="#d4552c"/>
<ellipse cx="671.6" cy="361.6" rx="2.15" ry="1.85" fill="#db7a30"/>
<ellipse cx="683.7" cy="363.6" rx="2.15" ry="1.85" fill="#db7a30"/>
<ellipse cx="645.9" cy="367.7" rx="2.15" ry="1.85" fill="#e9c229"/>
<ellipse cx="649.7" cy="366.6" rx="2.15" ry="1.85" fill="#e9c229"/>
<ellipse cx="655.2" cy="368.2" rx="2.15" ry="1.85" fill="#db7a30"/>
<ellipse cx="661.8" cy="366" rx="2.15" ry="1.85" fill="#db7a30"/>
<ellipse cx="671.1" cy="366.6" rx="2.15" ry="1.85" fill="#db7a30"/>
<ellipse cx="681.5" cy="368" rx="2.15" ry="1.85" fill="#db7a30"/>
<ellipse cx="649.7" cy="371.5" rx="2.15" ry="1.85" fill="#e9c229"/>
<ellipse cx="654.1" cy="373.5" rx="2.15" ry="1.85" fill="#e9c229"/>
<ellipse cx="659" cy="369.9" rx="2.15" ry="1.85" fill="#db7a30"/>
<ellipse cx="665.1" cy="369.9" rx="2.15" ry="1.85" fill="#e9c229"/>
<ellipse cx="668.9" cy="370.6" rx="2.15" ry="1.85" fill="#db7a30"/>
<ellipse cx="658.5" cy="373.9" rx="2.15" ry="1.85" fill="#db7a30"/>
<ellipse cx="663.4" cy="373.5" rx="2.15" ry="1.85" fill="#e9c229"/>
<ellipse cx="637.7" cy="373.7" rx="2.15" ry="1.85" fill="#e9c229"/>
<ellipse cx="678.2" cy="372.6" rx="2.15" ry="1.85" fill="#e9c229"/>
<ellipse cx="699.6" cy="331.5" rx="2.15" ry="1.85" fill="#db7a30"/>
<ellipse cx="701.2" cy="337" rx="2.15" ry="1.85" fill="#e9c229"/>
<ellipse cx="702.1" cy="341.9" rx="2.15" ry="1.85" fill="#db7a30"/>
<ellipse cx="702.3" cy="347.6" rx="2.15" ry="1.85" fill="#e9c229"/>
<ellipse cx="664.9" cy="273.2" rx="2.15" ry="1.85" fill="#d4552c"/>
<ellipse cx="660.5" cy="275.7" rx="2.15" ry="1.85" fill="#db7a30"/>
<ellipse cx="656.2" cy="276.8" rx="2.15" ry="1.85" fill="#e4a12c"/>
<ellipse cx="666" cy="279.2" rx="2.15" ry="1.85" fill="#e9c229"/>
<ellipse cx="671" cy="277.9" rx="2.15" ry="1.85" fill="#e4a12c"/>
<ellipse cx="662.7" cy="308.8" rx="2.15" ry="1.85" fill="#db7a30"/>
<ellipse cx="652.9" cy="313.2" rx="2.15" ry="1.85" fill="#e9c229"/>
<ellipse cx="657.3" cy="315.2" rx="2.15" ry="1.85" fill="#db7a30"/>
<ellipse cx="670.6" cy="310.8" rx="2.15" ry="1.85" fill="#e9c229"/>
<ellipse cx="677" cy="310.2" rx="2.15" ry="1.85" fill="#db7a30"/>
<ellipse cx="682.5" cy="309.7" rx="2.15" ry="1.85" fill="#db7a30"/>
<ellipse cx="674.8" cy="315.2" rx="2.15" ry="1.85" fill="#d4552c"/>
<ellipse cx="679.7" cy="314.9" rx="2.15" ry="1.85" fill="#e9c229"/>
<ellipse cx="686.3" cy="313.2" rx="2.15" ry="1.85" fill="#e9c229"/>
<ellipse cx="684.7" cy="317.4" rx="2.15" ry="1.85" fill="#db7a30"/>
<path d="M572.81,287.9H580.99M578.12,286H586.29M583.81,286.4H591.99M566.81,291.5H574.99M561.91,298.1H570.09M587.12,297.3H595.29M582.12,299.9H590.29M595.31,299.7H603.49M587.62,302.5H595.79M572.31,305H580.49M578.81,304.7H586.99M584.91,307.4H593.09M594.21,305.2H602.38M600.01,305.8H608.19M567.12,309.6H575.29M572.62,310.1H580.79M578.12,311H586.29M567.31,314.8H575.49M573.71,315.6H581.88M596.41,312.3H604.59M592.51,317.8H600.69M564.62,321.4H572.79M570.62,323.3H578.79M565.12,326.9H573.29M576.71,326H584.88M582.91,327.3H591.09M570.62,329.9H578.79M566.81,332.8H574.99M573.91,334.2H582.09M579.41,333.9H587.59M586.01,335.3H594.19M570.62,337.5H578.79M576.12,340.8H584.29M581.81,340.1H589.99M626.01,313.8H634.19M624.91,317H633.09M620.51,331.7H628.69M613.91,334.8H622.09M623.81,338.6H631.99M612.31,339.7H620.49M609.01,343.8H617.19M621.01,343.8H629.19M607.31,348.5H615.49M611.71,347.4H619.88M650.91,330.4H659.09M655.71,331H663.88M660.12,332.6H668.29M671.41,330.1H679.59M676.31,333.7H684.49M643.41,334.8H651.59M647.81,333.4H655.99M652.21,336.2H660.38M657.71,337.8H665.88M663.21,335.3H671.38M665.91,339.9H674.09M640.71,339.7H648.88M647.81,341.7H655.99M654.41,343H662.59M642.31,344.3H650.49M639.12,348.7H647.29M659.91,349.6H668.09M670.31,345.8H678.49M677.41,339.2H685.59M681.81,340.8H689.99M681.21,346.8H689.38M683.41,351.6H691.59M670.81,351.8H678.99M665.91,353.1H674.09M636.91,353.4H645.09M639.62,357.3H647.79M644.31,358.1H652.49M649.51,357H657.69M657.12,357.3H665.29M663.21,358.1H671.38M670.31,358.1H678.49M680.12,355.6H688.29M682.91,359.7H691.09M637.41,362.2H645.59M641.81,363.3H649.99M648.91,363.3H657.09M654.41,361.9H662.59M662.62,364.1H670.79M667.51,361.6H675.69M679.62,363.6H687.79M641.81,367.7H649.99M645.62,366.6H653.79M651.12,368.2H659.29M657.71,366H665.88M667.01,366.6H675.19M677.41,368H685.59M645.62,371.5H653.79M650.01,373.5H658.19M654.91,369.9H663.09M661.01,369.9H669.19M664.81,370.6H672.99M654.41,373.9H662.59M659.31,373.5H667.49M633.62,373.7H641.79M674.12,372.6H682.29M695.51,331.5H703.69M697.12,337H705.29M698.01,341.9H706.19M698.21,347.6H706.38M660.81,273.2H668.99M656.41,275.7H664.59M652.12,276.8H660.29M661.91,279.2H670.09M666.91,277.9H675.09M658.62,308.8H666.79M648.81,313.2H656.99M653.21,315.2H661.38M666.51,310.8H674.69M672.91,310.2H681.09M678.41,309.7H686.59M670.71,315.2H678.88M675.62,314.9H683.79M682.21,313.2H690.38M680.62,317.4H688.79" stroke="#3a3a3a" stroke-opacity="0.6" stroke-width="0.45"/>
<rect x="573.9" y="294.7" width="8.2" height="7.4" fill="#7a4fb0"/>
<rect x="583.75" y="311.2" width="7.1" height="6.6" fill="#a898d8"/>
<rect x="590.1" y="323.5" width="8.8" height="5" fill="#b0c0e8"/>
<rect x="648.25" y="287.9" width="5.5" height="5" fill="#b8d4ee"/>
<rect x="667.6" y="293.2" width="6" height="6" fill="#b8d4ee"/>
<rect x="710.35" y="332.45" width="7.5" height="5.5" fill="#b8c8e8"/>
<rect x="646.1" y="348" width="6.2" height="5.8" fill="#b0a8e0"/>
<rect x="654.9" y="347.8" width="6.8" height="6.2" fill="#b0a0d8"/>
<rect x="664.9" y="342.6" width="7" height="7" fill="#7a50b0"/>
<rect x="644.65" y="233.85" width="7.5" height="6.5" fill="#b8d0e8"/>
<path d="M568.16,298.4H587.84M578.78,314.5H595.82M583.94,326H605.06M644.4,290.4H657.6M663.4,296.2H677.8M705.1,335.2H723.1M641.76,350.9H656.64M650.14,350.9H666.46M660,346.1H676.8M639.4,237.1H657.4" stroke="#444" stroke-opacity="0.45" stroke-width="0.45"/>
<text x="708.6" y="216.1" font-size="3.6" text-anchor="middle" fill="#222">−log<tspan font-size="2.3" dy="0.9">10</tspan><tspan dy="-0.9">(Pvalue)</tspan></text>
<rect x="691" y="218" width="34.2" height="6.2" fill="url(#pv)"/>
<path d="M691,224.2H725.2M691,224.2v0.8M725.2,224.2v0.8" stroke="#555" stroke-width="0.3"/>
<text x="691" y="229" font-size="2.9" text-anchor="middle" fill="#333">1</text>
<text x="725.2" y="229" font-size="2.9" text-anchor="middle" fill="#333">7</text>
<text x="708.1" y="236.7" font-size="3.6" text-anchor="middle" fill="#222">log<tspan font-size="2.3" dy="0.9">2</tspan><tspan dy="-0.9">(Fold Change)</tspan></text>
<rect x="691" y="238.9" width="34.2" height="6.5" fill="url(#fc)"/>
<path d="M691,245.4H725.2M691,245.4v0.8M708.1,245.4v0.8M725.2,245.4v0.8" stroke="#555" stroke-width="0.3"/>
<text x="691" y="249.8" font-size="2.9" text-anchor="middle" fill="#333">−10</text>
<text x="708.1" y="249.8" font-size="2.9" text-anchor="middle" fill="#333">0</text>
<text x="725.2" y="249.8" font-size="2.9" text-anchor="middle" fill="#333">10</text>
<path d="M577.5,450.1L589,470.1M577.5,450.1L587,474.2M583.7,452.9L589,470.1M583.7,452.9L587,474.2M589.2,452.6L589,470.1M589.2,452.6L587,474.2M575,455.9L589,470.1M575,455.9L587,474.2M569.2,458.1L589,470.1M569.2,458.1L587,474.2M578,461.7L589,470.1M578,461.7L587,474.2M566.5,465L587,474.2M566.5,465L589,470.1M572,466.8L587,474.2M572,466.8L589,470.1M566,472.7L587,474.2M566,472.7L589,470.1M572.5,475.1L587,474.2M572.5,475.1L589,470.1M569.8,481.1L587,474.2M569.8,481.1L589,470.1M619.1,482.5L589,470.1M619.1,482.5L587,474.2M616.4,488L587,474.2M616.4,488L589,470.1M627.3,491.5L638.1,519.3M627.3,491.5L653.4,507.8M625.1,495.7L638.1,519.3M625.1,495.7L653.4,507.8M605.6,497.2L587,474.2M605.6,497.2L589,470.1M602.6,502L587,474.2M602.6,502L589,470.1M655.6,484L668,472.2M655.6,484L658.4,506.7M660.3,484L668,472.2M664.9,485.3L668,472.2M646.3,488.4L653.4,507.8M646.3,488.4L658.4,506.7M649.6,491.4L653.4,507.8M649.6,491.4L658.4,506.7M655.6,491.9L658.4,506.7M655.6,491.9L653.4,507.8M661.6,488.6L668,472.2M661.6,488.6L658.4,506.7M661.6,488.6L653.4,507.8M667.7,489.7L668,472.2M667.7,489.7L658.4,506.7M674.8,487.5L668,472.2M679.2,494.3L658.4,506.7M679.2,494.3L668,472.2M663.3,496.5L658.4,506.7M663.3,496.5L653.4,507.8M669.9,497.4L658.4,506.7M669.9,497.4L653.4,507.8M640.3,501.8L653.4,507.8M640.3,501.8L638.1,519.3M640.3,501.8L658.4,506.7M644.7,501.2L653.4,507.8M644.7,501.2L658.4,506.7M644.7,501.2L638.1,519.3M673.7,502.3L658.4,506.7M673.7,502.3L653.4,507.8M681.9,502L658.4,506.7M681.9,502L653.4,507.8M667.7,504.5L658.4,506.7M667.7,504.5L653.4,507.8M636.4,507.3L638.1,519.3M636.4,507.3L653.4,507.8M643,508.9L653.4,507.8M643,508.9L638.1,519.3M643,508.9L658.4,506.7M627.1,508.9L638.1,519.3M673.7,508.9L658.4,506.7M673.7,508.9L653.4,507.8M681.9,510.8L658.4,506.7M681.9,510.8L653.4,507.8M668.8,512.2L658.4,506.7M668.8,512.2L653.4,507.8M672.6,516L658.4,506.7M672.6,516L653.4,507.8M645.2,515.8L638.1,519.3M645.2,515.8L653.4,507.8M645.2,515.8L658.4,506.7M627.1,515.8L638.1,519.3M623.8,520.6L638.1,519.3M629.3,524.2L638.1,519.3M654,523.7L653.4,507.8M654,523.7L638.1,519.3M654,523.7L658.4,506.7M658.9,523.7L653.4,507.8M658.9,523.7L658.4,506.7M658.9,523.7L638.1,519.3M662.7,522.6L658.4,506.7M662.7,522.6L653.4,507.8M651.2,527.5L638.1,519.3M651.2,527.5L653.4,507.8M656.2,527.5L638.1,519.3M656.2,527.5L653.4,507.8M656.2,527.5L658.4,506.7M661.6,527L658.4,506.7M661.6,527L653.4,507.8M652.9,530.8L638.1,519.3M652.9,530.8L653.4,507.8M658.4,530.3L669.1,550.6M658.4,530.3L653.4,507.8M673.2,529.2L669.1,550.6M673.2,529.2L658.4,506.7M634.8,529.7L638.1,519.3M627.7,530.8L638.1,519.3M635.9,535.8L638.1,519.3M641.9,536.3L638.1,519.3M661.1,537.4L669.1,550.6M646.7,552.1L669.1,550.6M646.7,552.1L675.7,567.2M689,563.6L675.7,567.2M686.9,570.8L675.7,567.2M682.3,575.6L675.7,567.2M671.2,576.1L675.7,567.2M666.3,579.7L675.7,567.2M677,579.7L675.7,567.2M697.1,578.4L675.7,567.2M697.1,578.4L714.9,597.5M605.6,497.2L589,470.1M602.6,502L589,470.1M616.4,488L589,470.1M619.1,482.5L589,470.1M627.3,491.5L589,470.1M625.1,495.7L589,470.1M640.3,501.8L589,470.1M644.7,501.2L589,470.1M636.4,507.3L589,470.1M627.1,508.9L589,470.1M605.6,497.2L587,474.2M602.6,502L587,474.2M616.4,488L587,474.2M627.1,491.9L587,474.2M652.9,530.8L669.1,550.6M658.4,530.3L669.1,550.6M661.1,537.4L669.1,550.6M654,523.7L669.1,550.6M658.9,523.7L669.1,550.6M662.7,522.6L669.1,550.6M673.2,529.2L669.1,550.6M672.6,516L669.1,550.6M668.8,512.2L669.1,550.6M646.7,552.1L669.1,550.6M605.6,497.2L653.4,507.8M602.6,502L653.4,507.8M616.4,488L653.4,507.8M619.1,482.5L653.4,507.8M646.7,552.1L653.4,507.8" stroke="#cacad4" stroke-width="0.38" fill="none"/>
<ellipse cx="577.5" cy="450.1" rx="2.2" ry="1.8" fill="#ecca22"/>
<ellipse cx="583.7" cy="452.9" rx="2.2" ry="1.8" fill="#e9c028"/>
<ellipse cx="589.2" cy="452.6" rx="2.2" ry="1.8" fill="#ecca22"/>
<ellipse cx="575" cy="455.9" rx="2.2" ry="1.8" fill="#e9c028"/>
<ellipse cx="569.2" cy="458.1" rx="2.2" ry="1.8" fill="#ecca22"/>
<ellipse cx="578" cy="461.7" rx="2.2" ry="1.8" fill="#b0c834"/>
<ellipse cx="566.5" cy="465" rx="2.2" ry="1.8" fill="#ecca22"/>
<ellipse cx="572" cy="466.8" rx="2.2" ry="1.8" fill="#e9c028"/>
<ellipse cx="566" cy="472.7" rx="2.2" ry="1.8" fill="#ecca22"/>
<ellipse cx="572.5" cy="475.1" rx="2.2" ry="1.8" fill="#e9c028"/>
<ellipse cx="569.8" cy="481.1" rx="2.2" ry="1.8" fill="#ecca22"/>
<ellipse cx="619.1" cy="482.5" rx="2.2" ry="1.8" fill="#e9c028"/>
<ellipse cx="616.4" cy="488" rx="2.2" ry="1.8" fill="#ecca22"/>
<ellipse cx="627.3" cy="491.5" rx="2.2" ry="1.8" fill="#e9c028"/>
<ellipse cx="625.1" cy="495.7" rx="2.2" ry="1.8" fill="#ecca22"/>
<ellipse cx="605.6" cy="497.2" rx="2.2" ry="1.8" fill="#e9c028"/>
<ellipse cx="602.6" cy="502" rx="2.2" ry="1.8" fill="#ecca22"/>
<ellipse cx="655.6" cy="484" rx="2.2" ry="1.8" fill="#e9c028"/>
<ellipse cx="660.3" cy="484" rx="2.2" ry="1.8" fill="#ecca22"/>
<ellipse cx="664.9" cy="485.3" rx="2.2" ry="1.8" fill="#e9c028"/>
<ellipse cx="646.3" cy="488.4" rx="2.2" ry="1.8" fill="#ecca22"/>
<ellipse cx="649.6" cy="491.4" rx="2.2" ry="1.8" fill="#e9c028"/>
<ellipse cx="655.6" cy="491.9" rx="2.2" ry="1.8" fill="#ecca22"/>
<ellipse cx="661.6" cy="488.6" rx="2.2" ry="1.8" fill="#e9c028"/>
<ellipse cx="667.7" cy="489.7" rx="2.2" ry="1.8" fill="#ecca22"/>
<ellipse cx="674.8" cy="487.5" rx="2.2" ry="1.8" fill="#e9c028"/>
<ellipse cx="679.2" cy="494.3" rx="2.2" ry="1.8" fill="#ecca22"/>
<ellipse cx="663.3" cy="496.5" rx="2.2" ry="1.8" fill="#e9c028"/>
<ellipse cx="669.9" cy="497.4" rx="2.2" ry="1.8" fill="#ecca22"/>
<ellipse cx="640.3" cy="501.8" rx="2.2" ry="1.8" fill="#e9c028"/>
<ellipse cx="644.7" cy="501.2" rx="2.2" ry="1.8" fill="#ecca22"/>
<ellipse cx="673.7" cy="502.3" rx="2.2" ry="1.8" fill="#e9c028"/>
<ellipse cx="681.9" cy="502" rx="2.2" ry="1.8" fill="#ecca22"/>
<ellipse cx="667.7" cy="504.5" rx="2.2" ry="1.8" fill="#e9c028"/>
<ellipse cx="636.4" cy="507.3" rx="2.2" ry="1.8" fill="#ecca22"/>
<ellipse cx="643" cy="508.9" rx="2.2" ry="1.8" fill="#e9c028"/>
<ellipse cx="627.1" cy="508.9" rx="2.2" ry="1.8" fill="#ecca22"/>
<ellipse cx="673.7" cy="508.9" rx="2.2" ry="1.8" fill="#e9c028"/>
<ellipse cx="681.9" cy="510.8" rx="2.2" ry="1.8" fill="#ecca22"/>
<ellipse cx="668.8" cy="512.2" rx="2.2" ry="1.8" fill="#e9c028"/>
<ellipse cx="672.6" cy="516" rx="2.2" ry="1.8" fill="#ecca22"/>
<ellipse cx="645.2" cy="515.8" rx="2.2" ry="1.8" fill="#e9c028"/>
<ellipse cx="627.1" cy="515.8" rx="2.2" ry="1.8" fill="#ecca22"/>
<ellipse cx="623.8" cy="520.6" rx="2.2" ry="1.8" fill="#e9c028"/>
<ellipse cx="629.3" cy="524.2" rx="2.2" ry="1.8" fill="#b0c834"/>
<ellipse cx="654" cy="523.7" rx="2.2" ry="1.8" fill="#e9c028"/>
<ellipse cx="658.9" cy="523.7" rx="2.2" ry="1.8" fill="#ecca22"/>
<ellipse cx="662.7" cy="522.6" rx="2.2" ry="1.8" fill="#e9c028"/>
<ellipse cx="651.2" cy="527.5" rx="2.2" ry="1.8" fill="#ecca22"/>
<ellipse cx="656.2" cy="527.5" rx="2.2" ry="1.8" fill="#e9c028"/>
<ellipse cx="661.6" cy="527" rx="2.2" ry="1.8" fill="#ecca22"/>
<ellipse cx="652.9" cy="530.8" rx="2.2" ry="1.8" fill="#e9c028"/>
<ellipse cx="658.4" cy="530.3" rx="2.2" ry="1.8" fill="#ecca22"/>
<ellipse cx="673.2" cy="529.2" rx="2.2" ry="1.8" fill="#e9c028"/>
<ellipse cx="634.8" cy="529.7" rx="2.2" ry="1.8" fill="#ecca22"/>
<ellipse cx="627.7" cy="530.8" rx="2.2" ry="1.8" fill="#e9c028"/>
<ellipse cx="635.9" cy="535.8" rx="2.2" ry="1.8" fill="#ecca22"/>
<ellipse cx="641.9" cy="536.3" rx="2.2" ry="1.8" fill="#e9c028"/>
<ellipse cx="661.1" cy="537.4" rx="2.2" ry="1.8" fill="#ecca22"/>
<ellipse cx="646.7" cy="552.1" rx="2.2" ry="1.8" fill="#e9c028"/>
<ellipse cx="689" cy="563.6" rx="2.2" ry="1.8" fill="#ecca22"/>
<ellipse cx="686.9" cy="570.8" rx="2.2" ry="1.8" fill="#e9c028"/>
<ellipse cx="682.3" cy="575.6" rx="2.2" ry="1.8" fill="#ecca22"/>
<ellipse cx="671.2" cy="576.1" rx="2.2" ry="1.8" fill="#e9c028"/>
<ellipse cx="666.3" cy="579.7" rx="2.2" ry="1.8" fill="#ecca22"/>
<ellipse cx="677" cy="579.7" rx="2.2" ry="1.8" fill="#e9c028"/>
<ellipse cx="697.1" cy="578.4" rx="2.2" ry="1.8" fill="#ecca22"/>
<path d="M573.32,450.1H581.68M579.52,452.9H587.88M585.02,452.6H593.38M570.82,455.9H579.18M565.02,458.1H573.38M573.82,461.7H582.18M562.32,465H570.68M567.82,466.8H576.18M561.82,472.7H570.18M568.32,475.1H576.68M565.62,481.1H573.98M614.92,482.5H623.28M612.22,488H620.58M623.12,491.5H631.48M620.92,495.7H629.28M601.42,497.2H609.78M598.42,502H606.78M651.42,484H659.78M656.12,484H664.48M660.72,485.3H669.08M642.12,488.4H650.48M645.42,491.4H653.78M651.42,491.9H659.78M657.42,488.6H665.78M663.52,489.7H671.88M670.62,487.5H678.98M675.02,494.3H683.38M659.12,496.5H667.48M665.72,497.4H674.08M636.12,501.8H644.48M640.52,501.2H648.88M669.52,502.3H677.88M677.72,502H686.08M663.52,504.5H671.88M632.22,507.3H640.58M638.82,508.9H647.18M622.92,508.9H631.28M669.52,508.9H677.88M677.72,510.8H686.08M664.62,512.2H672.98M668.42,516H676.78M641.02,515.8H649.38M622.92,515.8H631.28M619.62,520.6H627.98M625.12,524.2H633.48M649.82,523.7H658.18M654.72,523.7H663.08M658.52,522.6H666.88M647.02,527.5H655.38M652.02,527.5H660.38M657.42,527H665.78M648.72,530.8H657.08M654.22,530.3H662.58M669.02,529.2H677.38M630.62,529.7H638.98M623.52,530.8H631.88M631.72,535.8H640.08M637.72,536.3H646.08M656.92,537.4H665.28M642.52,552.1H650.88M684.82,563.6H693.18M682.72,570.8H691.08M678.12,575.6H686.48M667.02,576.1H675.38M662.12,579.7H670.48M672.82,579.7H681.18M692.92,578.4H701.28" stroke="#3a3a3a" stroke-opacity="0.6" stroke-width="0.45"/>
<rect x="586.25" y="467.6" width="5.5" height="5" fill="#8060b8"/>
<rect x="584.5" y="471.95" width="5" height="4.5" fill="#a898d8"/>
<rect x="665.25" y="469.95" width="5.5" height="4.5" fill="#a090d0"/>
<rect x="649.9" y="504.3" width="7" height="7" fill="#9078c8"/>
<rect x="655.4" y="503.95" width="6" height="5.5" fill="#8060b8"/>
<rect x="635.35" y="516.8" width="5.5" height="5" fill="#a090d0"/>
<rect x="666" y="547.5" width="6.2" height="6.2" fill="#a090d0"/>
<rect x="672.3" y="563.8" width="6.8" height="6.8" fill="#9a80c8"/>
<rect x="711.8" y="594.4" width="6.2" height="6.2" fill="#a898d8"/>
<path d="M582.4,470.1H595.6M581,474.2H593M661.4,472.2H674.6M645,507.8H661.8M651.2,506.7H665.6M631.5,519.3H644.7M661.66,550.6H676.54M667.54,567.2H683.86M707.46,597.5H722.34" stroke="#444" stroke-opacity="0.45" stroke-width="0.45"/>
<text x="708.75" y="428.1" font-size="3.6" text-anchor="middle" fill="#222">−log<tspan font-size="2.3" dy="0.9">10</tspan><tspan dy="-0.9">(Pvalue)</tspan></text>
<rect x="691.3" y="431" width="33.9" height="6.5" fill="url(#pv)"/>
<path d="M691.3,437.5H725.2M691.3,437.5v0.8M725.2,437.5v0.8" stroke="#555" stroke-width="0.3"/>
<text x="691.3" y="442.3" font-size="2.9" text-anchor="middle" fill="#333">1</text>
<text x="725.2" y="442.3" font-size="2.9" text-anchor="middle" fill="#333">4</text>
<text x="708.25" y="450.7" font-size="3.6" text-anchor="middle" fill="#222">log<tspan font-size="2.3" dy="0.9">2</tspan><tspan dy="-0.9">(Fold Change)</tspan></text>
<rect x="691.3" y="453.3" width="33.9" height="6.1" fill="url(#fc)"/>
<path d="M691.3,459.4H725.2M691.3,459.4v0.8M708.25,459.4v0.8M725.2,459.4v0.8" stroke="#555" stroke-width="0.3"/>
<text x="691.3" y="464.5" font-size="2.9" text-anchor="middle" fill="#333">−10</text>
<text x="708.25" y="464.5" font-size="2.9" text-anchor="middle" fill="#333">0</text>
<text x="725.2" y="464.5" font-size="2.9" text-anchor="middle" fill="#333">10</text>
<path d="M616.3,667.1L607.5,691.2M616.3,667.1L599.9,696.4M624,669.9L644.5,685.8M624,669.9L607.5,691.2M590.8,674L607.5,691.2M590.8,674L599.9,696.4M613,676.2L607.5,691.2M613,676.2L599.9,696.4M583.4,683.6L599.9,696.4M583.4,683.6L607.5,691.2M619.6,681.6L607.5,691.2M619.6,681.6L599.9,696.4M619.6,681.6L644.5,685.8M636.3,678.9L644.5,685.8M656.8,672.6L644.5,685.8M665.6,675.3L644.5,685.8M665.6,675.3L653.3,704.9M671.9,683.6L644.5,685.8M671.9,683.6L653.3,704.9M662.9,685.5L644.5,685.8M662.9,685.5L653.3,704.9M633.6,689L644.5,685.8M633.6,689L653.3,704.9M633.6,689L607.5,691.2M672.5,692.6L653.3,704.9M672.5,692.6L644.5,685.8M671.1,701.4L653.3,704.9M642.9,700L653.3,704.9M642.9,700L644.5,685.8M642.9,700L625.3,721.1M610,703.6L599.9,696.4M610,703.6L607.5,691.2M610,703.6L625.3,721.1M610,703.6L594.9,722.5M618.2,704.9L607.5,691.2M618.2,704.9L625.3,721.1M618.2,704.9L599.9,696.4M618.2,704.9L594.9,722.5M594.9,705.5L599.9,696.4M594.9,705.5L594.9,722.5M594.9,705.5L607.5,691.2M575.8,707.7L594.9,722.5M575.8,707.7L599.9,696.4M640.1,709L653.3,704.9M640.1,709L625.3,721.1M640.1,709L644.5,685.8M603.4,710.4L599.9,696.4M603.4,710.4L594.9,722.5M603.4,710.4L607.5,691.2M603.4,710.4L625.3,721.1M650,711.8L653.3,704.9M650,711.8L625.3,721.1M650,711.8L644.5,685.8M599,715.1L594.9,722.5M599,715.1L599.9,696.4M599,715.1L607.5,691.2M599,715.1L625.3,721.1M576.6,718.6L594.9,722.5M608.1,722.7L594.9,722.5M608.1,722.7L625.3,721.1M608.1,722.7L599.9,696.4M656,723.3L653.3,704.9M644.5,726.8L625.3,721.1M644.5,726.8L653.3,704.9M624.5,730.4L625.3,721.1M595.8,731.8L594.9,722.5M603.4,731.5L594.9,722.5M603.4,731.5L625.3,721.1M655.5,731.5L653.3,704.9M655.5,731.5L625.3,721.1M639,736.2L625.3,721.1M647.8,736.2L625.3,721.1M647.8,736.2L653.3,704.9M673.8,773.4L663.4,784.9M673.8,773.4L689.7,773.4M673.8,773.4L666.2,791.2M677.9,780.8L689.7,773.4M677.9,780.8L663.4,784.9M677.9,780.8L666.2,791.2M680.1,789L666.2,791.2M680.1,789L663.4,784.9M680.1,789L689.7,773.4M647.8,789.9L663.4,784.9M647.8,789.9L666.2,791.2M654.1,799.5L666.2,791.2M654.1,799.5L663.4,784.9" stroke="#cacad4" stroke-width="0.38" fill="none"/>
<ellipse cx="616.3" cy="667.1" rx="2.2" ry="1.8" fill="#e8d020"/>
<ellipse cx="624" cy="669.9" rx="2.2" ry="1.8" fill="#b0c834"/>
<ellipse cx="590.8" cy="674" rx="2.2" ry="1.8" fill="#e8d020"/>
<ellipse cx="613" cy="676.2" rx="2.2" ry="1.8" fill="#e6cc24"/>
<ellipse cx="583.4" cy="683.6" rx="2.2" ry="1.8" fill="#e8d020"/>
<ellipse cx="619.6" cy="681.6" rx="2.2" ry="1.8" fill="#e6cc24"/>
<ellipse cx="636.3" cy="678.9" rx="2.2" ry="1.8" fill="#e8d020"/>
<ellipse cx="656.8" cy="672.6" rx="2.2" ry="1.8" fill="#e6cc24"/>
<ellipse cx="665.6" cy="675.3" rx="2.2" ry="1.8" fill="#e8d020"/>
<ellipse cx="671.9" cy="683.6" rx="2.2" ry="1.8" fill="#e6cc24"/>
<ellipse cx="662.9" cy="685.5" rx="2.2" ry="1.8" fill="#e8d020"/>
<ellipse cx="633.6" cy="689" rx="2.2" ry="1.8" fill="#e6cc24"/>
<ellipse cx="672.5" cy="692.6" rx="2.2" ry="1.8" fill="#e8d020"/>
<ellipse cx="671.1" cy="701.4" rx="2.2" ry="1.8" fill="#e6cc24"/>
<ellipse cx="642.9" cy="700" rx="2.2" ry="1.8" fill="#e8d020"/>
<ellipse cx="610" cy="703.6" rx="2.2" ry="1.8" fill="#e6cc24"/>
<ellipse cx="618.2" cy="704.9" rx="2.2" ry="1.8" fill="#e8d020"/>
<ellipse cx="594.9" cy="705.5" rx="2.2" ry="1.8" fill="#e6cc24"/>
<ellipse cx="575.8" cy="707.7" rx="2.2" ry="1.8" fill="#e8d020"/>
<ellipse cx="640.1" cy="709" rx="2.2" ry="1.8" fill="#e6cc24"/>
<ellipse cx="603.4" cy="710.4" rx="2.2" ry="1.8" fill="#e8d020"/>
<ellipse cx="650" cy="711.8" rx="2.2" ry="1.8" fill="#e6cc24"/>
<ellipse cx="599" cy="715.1" rx="2.2" ry="1.8" fill="#e8d020"/>
<ellipse cx="576.6" cy="718.6" rx="2.2" ry="1.8" fill="#e6cc24"/>
<ellipse cx="608.1" cy="722.7" rx="2.2" ry="1.8" fill="#e8d020"/>
<ellipse cx="656" cy="723.3" rx="2.2" ry="1.8" fill="#e6cc24"/>
<ellipse cx="644.5" cy="726.8" rx="2.2" ry="1.8" fill="#e8d020"/>
<ellipse cx="624.5" cy="730.4" rx="2.2" ry="1.8" fill="#e6cc24"/>
<ellipse cx="595.8" cy="731.8" rx="2.2" ry="1.8" fill="#e8d020"/>
<ellipse cx="603.4" cy="731.5" rx="2.2" ry="1.8" fill="#e6cc24"/>
<ellipse cx="655.5" cy="731.5" rx="2.2" ry="1.8" fill="#e8d020"/>
<ellipse cx="639" cy="736.2" rx="2.2" ry="1.8" fill="#b0c834"/>
<ellipse cx="647.8" cy="736.2" rx="2.2" ry="1.8" fill="#e8d020"/>
<ellipse cx="673.8" cy="773.4" rx="2.2" ry="1.8" fill="#e6cc24"/>
<ellipse cx="677.9" cy="780.8" rx="2.2" ry="1.8" fill="#b0c834"/>
<ellipse cx="680.1" cy="789" rx="2.2" ry="1.8" fill="#b0c834"/>
<ellipse cx="647.8" cy="789.9" rx="2.2" ry="1.8" fill="#e8d020"/>
<ellipse cx="654.1" cy="799.5" rx="2.2" ry="1.8" fill="#e6cc24"/>
<path d="M612.12,667.1H620.48M619.82,669.9H628.18M586.62,674H594.98M608.82,676.2H617.18M579.22,683.6H587.58M615.42,681.6H623.78M632.12,678.9H640.48M652.62,672.6H660.98M661.42,675.3H669.78M667.72,683.6H676.08M658.72,685.5H667.08M629.42,689H637.78M668.32,692.6H676.68M666.92,701.4H675.28M638.72,700H647.08M605.82,703.6H614.18M614.02,704.9H622.38M590.72,705.5H599.08M571.62,707.7H579.98M635.92,709H644.28M599.22,710.4H607.58M645.82,711.8H654.18M594.82,715.1H603.18M572.42,718.6H580.78M603.92,722.7H612.28M651.82,723.3H660.18M640.32,726.8H648.68M620.32,730.4H628.68M591.62,731.8H599.98M599.22,731.5H607.58M651.32,731.5H659.68M634.82,736.2H643.18M643.62,736.2H651.98M669.62,773.4H677.98M673.72,780.8H682.08M675.92,789H684.28M643.62,789.9H651.98M649.92,799.5H658.28" stroke="#3a3a3a" stroke-opacity="0.6" stroke-width="0.45"/>
<rect x="641.75" y="683.3" width="5.5" height="5" fill="#8a70c0"/>
<rect x="604.75" y="688.7" width="5.5" height="5" fill="#8a70c0"/>
<rect x="597.15" y="693.9" width="5.5" height="5" fill="#a898d8"/>
<rect x="650.55" y="702.4" width="5.5" height="5" fill="#8a70c0"/>
<rect x="622.55" y="718.6" width="5.5" height="5" fill="#8a70c0"/>
<rect x="591.9" y="719.5" width="6" height="6" fill="#9a80c8"/>
<rect x="687.3" y="771.3" width="4.8" height="4.2" fill="#9282c8"/>
<rect x="661" y="782.8" width="4.8" height="4.2" fill="#a090d0"/>
<rect x="663.7" y="788.9" width="5" height="4.6" fill="#9080c4"/>
<rect x="714.3" y="698.85" width="4" height="3.3" fill="#9a88cc"/>
<path d="M637.9,685.8H651.1M600.9,691.2H614.1M593.3,696.4H606.5M646.7,704.9H659.9M618.7,721.1H631.9M587.7,722.5H602.1M683.94,773.4H695.46M657.64,784.9H669.16M660.2,791.2H672.2M711.5,700.5H721.1" stroke="#444" stroke-opacity="0.45" stroke-width="0.45"/>
<text x="710.95" y="647.8" font-size="3.6" text-anchor="middle" fill="#222">−log<tspan font-size="2.3" dy="0.9">10</tspan><tspan dy="-0.9">(Pvalue)</tspan></text>
<rect x="694" y="650" width="32.9" height="6" fill="url(#pv)"/>
<path d="M694,656H726.9M694,656v0.8M726.9,656v0.8" stroke="#555" stroke-width="0.3"/>
<text x="694" y="660.2" font-size="2.9" text-anchor="middle" fill="#333">1</text>
<text x="726.9" y="660.2" font-size="2.9" text-anchor="middle" fill="#333">4</text>
<text x="710.45" y="668" font-size="3.6" text-anchor="middle" fill="#222">log<tspan font-size="2.3" dy="0.9">2</tspan><tspan dy="-0.9">(Fold Change)</tspan></text>
<rect x="694" y="670.2" width="32.9" height="5.5" fill="url(#fc)"/>
<path d="M694,675.7H726.9M694,675.7v0.8M710.45,675.7v0.8M726.9,675.7v0.8" stroke="#555" stroke-width="0.3"/>
<text x="694" y="680.1" font-size="2.9" text-anchor="middle" fill="#333">−10</text>
<text x="710.45" y="680.1" font-size="2.9" text-anchor="middle" fill="#333">0</text>
<text x="726.9" y="680.1" font-size="2.9" text-anchor="middle" fill="#333">10</text>
<text class="pl" x="1.8" y="15.8" font-size="19.3" font-weight="bold" fill="#000">A</text>
<text class="pl" x="318.9" y="16" font-size="19.3" font-weight="bold" fill="#000">B</text>
<text class="pl" x="529.8" y="16" font-size="19.3" font-weight="bold" fill="#000">C</text>
<text class="pl" x="2" y="210.5" font-size="19.3" font-weight="bold" fill="#000">D</text>
<text class="pl" x="320" y="210.8" font-size="19.3" font-weight="bold" fill="#000">E</text>
<text class="pl" x="531" y="211.4" font-size="19.3" font-weight="bold" fill="#000">F</text>
<text class="pl" x="2.1" y="423.4" font-size="19.3" font-weight="bold" fill="#000">G</text>
<text class="pl" x="320" y="424" font-size="19.3" font-weight="bold" fill="#000">H</text>
<text class="pl" x="534" y="424.1" font-size="19.3" font-weight="bold" fill="#000">I</text>
<text class="pl" x="3" y="633.2" font-size="19.3" font-weight="bold" fill="#000">J</text>
<text class="pl" x="318.9" y="633.8" font-size="19.3" font-weight="bold" fill="#000">K</text>
<text class="pl" x="532" y="633.4" font-size="19.3" font-weight="bold" fill="#000">L</text>
</svg></body></html>
